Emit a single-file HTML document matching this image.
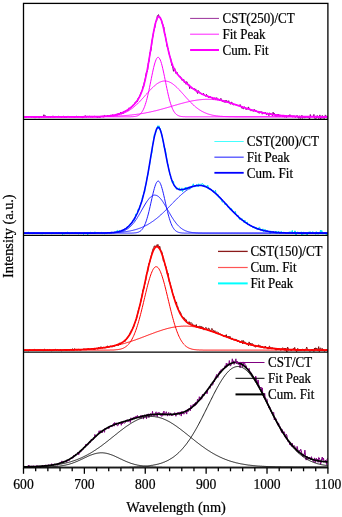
<!DOCTYPE html>
<html><head><meta charset="utf-8"><style>
html,body{margin:0;padding:0;background:#fff;width:342px;height:517px;overflow:hidden;font-family:"Liberation Serif",serif;}
svg{display:block;will-change:transform;}
text{stroke:#000;stroke-width:0.22px;}
</style></head><body>
<svg width="342" height="517" viewBox="0 0 342 517">
<rect width="342" height="517" fill="#fff"/>
<defs>
<clipPath id="c0"><rect x="23.5" y="2.4" width="304.4" height="116.9"/></clipPath>
<clipPath id="c1"><rect x="23.5" y="118.3" width="304.4" height="117.1"/></clipPath>
<clipPath id="c2"><rect x="23.5" y="234.4" width="304.4" height="117.7"/></clipPath>
<clipPath id="c3"><rect x="23.5" y="351.1" width="304.4" height="116.7"/></clipPath>
</defs>
<g clip-path="url(#c0)" fill="none" stroke-linejoin="round">
<path d="M23.5,116.8 L24.1,116.7 L24.7,116.9 L25.3,117.2 L25.9,117.0 L26.5,117.3 L27.1,116.8 L27.7,116.1 L28.3,117.0 L28.9,117.1 L29.5,116.6 L30.1,116.6 L30.7,116.7 L31.3,117.3 L31.9,116.8 L32.5,116.5 L33.1,117.5 L33.7,117.0 L34.3,117.8 L34.9,117.4 L35.5,117.7 L36.1,116.9 L36.7,117.4 L37.3,116.7 L37.9,116.7 L38.5,116.9 L39.1,118.1 L39.7,117.1 L40.3,116.8 L40.9,116.7 L41.5,117.4 L42.1,116.6 L42.7,116.4 L43.3,115.9 L43.9,114.7 L44.5,115.7 L45.1,115.8 L45.7,115.8 L46.3,116.8 L46.9,116.8 L47.5,116.7 L48.1,116.8 L48.7,117.4 L49.3,116.8 L49.9,116.1 L50.5,117.6 L51.1,116.4 L51.7,116.7 L52.3,117.1 L52.9,115.8 L53.5,116.4 L54.1,117.4 L54.7,116.8 L55.3,116.5 L55.9,116.9 L56.5,116.5 L57.1,116.8 L57.7,116.5 L58.3,116.1 L58.9,117.1 L59.5,116.7 L60.1,117.0 L60.7,116.7 L61.3,117.4 L61.9,117.1 L62.5,116.9 L63.1,116.3 L63.7,116.2 L64.3,117.5 L64.9,117.2 L65.5,116.5 L66.1,117.8 L66.7,117.0 L67.3,116.8 L67.9,116.2 L68.5,116.4 L69.1,117.0 L69.7,117.0 L70.3,116.9 L70.9,116.0 L71.5,117.0 L72.1,116.9 L72.7,116.6 L73.3,116.8 L73.9,116.9 L74.5,117.4 L75.1,116.8 L75.7,117.0 L76.3,116.2 L76.9,116.4 L77.5,116.8 L78.1,116.4 L78.7,116.9 L79.3,116.2 L79.9,116.8 L80.5,116.5 L81.1,117.4 L81.7,116.6 L82.3,117.6 L82.9,117.8 L83.5,116.9 L84.1,117.2 L84.7,116.7 L85.3,115.6 L85.9,117.2 L86.5,117.1 L87.1,116.6 L87.7,116.5 L88.3,116.8 L88.9,116.8 L89.5,116.3 L90.1,116.4 L90.7,117.2 L91.3,116.7 L91.9,116.7 L92.5,117.2 L93.1,116.5 L93.7,117.1 L94.3,116.1 L94.9,116.5 L95.5,116.6 L96.1,116.9 L96.7,116.7 L97.3,117.7 L97.9,117.2 L98.5,116.3 L99.1,117.7 L99.7,116.0 L100.3,117.4 L100.9,116.0 L101.5,116.9 L102.1,116.0 L102.7,116.3 L103.3,117.2 L103.9,115.6 L104.5,115.4 L105.1,116.3 L105.7,116.3 L106.3,116.2 L106.9,116.7 L107.5,115.4 L108.1,116.3 L108.7,115.9 L109.3,116.3 L109.9,116.1 L110.5,116.5 L111.1,114.9 L111.7,115.6 L112.3,114.8 L112.9,115.3 L113.5,115.7 L114.1,115.3 L114.7,115.4 L115.3,114.9 L115.9,115.0 L116.5,114.8 L117.1,115.3 L117.7,114.8 L118.3,113.0 L118.9,114.4 L119.5,114.4 L120.1,113.3 L120.7,112.3 L121.3,114.1 L121.9,113.0 L122.5,113.0 L123.1,113.6 L123.7,111.5 L124.3,111.8 L124.9,111.4 L125.5,111.7 L126.1,110.4 L126.7,110.8 L127.3,110.2 L127.9,110.5 L128.5,110.2 L129.1,107.8 L129.7,108.8 L130.3,107.7 L130.9,107.5 L131.5,107.3 L132.1,106.8 L132.7,105.3 L133.3,105.5 L133.9,104.8 L134.5,104.0 L135.1,102.3 L135.7,102.1 L136.3,101.5 L136.9,101.6 L137.5,101.5 L138.1,98.4 L138.7,97.4 L139.3,97.3 L139.9,95.5 L140.5,94.0 L141.1,92.5 L141.7,90.9 L142.3,90.6 L142.9,86.7 L143.5,87.6 L144.1,83.2 L144.7,81.3 L145.3,78.4 L145.9,74.5 L146.5,72.0 L147.1,72.0 L147.7,69.5 L148.3,63.1 L148.9,61.8 L149.5,56.9 L150.1,52.1 L150.7,51.6 L151.3,48.5 L151.9,41.5 L152.5,38.1 L153.1,35.0 L153.7,31.1 L154.3,29.2 L154.9,27.2 L155.5,22.5 L156.1,21.4 L156.7,20.5 L157.3,15.8 L157.9,15.7 L158.5,14.6 L159.1,16.8 L159.7,16.9 L160.3,18.4 L160.9,19.7 L161.5,19.9 L162.1,23.4 L162.7,24.0 L163.3,26.5 L163.9,26.8 L164.5,34.4 L165.1,34.0 L165.7,38.3 L166.3,41.1 L166.9,45.9 L167.5,47.3 L168.1,48.4 L168.7,52.1 L169.3,54.3 L169.9,57.1 L170.5,57.4 L171.1,60.9 L171.7,65.4 L172.3,65.3 L172.9,68.4 L173.5,71.3 L174.1,69.3 L174.7,68.3 L175.3,70.9 L175.9,73.3 L176.5,74.0 L177.1,72.4 L177.7,74.3 L178.3,75.2 L178.9,76.0 L179.5,76.5 L180.1,76.3 L180.7,77.2 L181.3,78.2 L181.9,80.2 L182.5,79.0 L183.1,80.9 L183.7,79.5 L184.3,82.6 L184.9,82.0 L185.5,82.3 L186.1,84.3 L186.7,81.6 L187.3,82.4 L187.9,84.9 L188.5,84.1 L189.1,85.1 L189.7,88.7 L190.3,86.2 L190.9,87.0 L191.5,87.3 L192.1,89.0 L192.7,88.6 L193.3,89.0 L193.9,88.0 L194.5,89.3 L195.1,90.1 L195.7,88.9 L196.3,91.4 L196.9,91.7 L197.5,93.5 L198.1,90.4 L198.7,91.4 L199.3,91.8 L199.9,92.3 L200.5,93.2 L201.1,93.4 L201.7,94.2 L202.3,94.4 L202.9,94.4 L203.5,93.3 L204.1,94.5 L204.7,95.3 L205.3,96.0 L205.9,96.3 L206.5,94.4 L207.1,95.7 L207.7,96.3 L208.3,96.9 L208.9,97.8 L209.5,97.0 L210.1,96.3 L210.7,97.7 L211.3,97.7 L211.9,97.9 L212.5,97.7 L213.1,99.5 L213.7,98.4 L214.3,99.1 L214.9,97.7 L215.5,99.4 L216.1,98.3 L216.7,97.6 L217.3,99.5 L217.9,99.9 L218.5,99.3 L219.1,99.7 L219.7,100.8 L220.3,99.6 L220.9,98.3 L221.5,100.6 L222.1,100.7 L222.7,101.6 L223.3,100.5 L223.9,102.2 L224.5,102.2 L225.1,100.2 L225.7,102.4 L226.3,100.7 L226.9,100.5 L227.5,101.9 L228.1,101.8 L228.7,100.7 L229.3,102.8 L229.9,103.4 L230.5,104.3 L231.1,103.2 L231.7,102.1 L232.3,102.7 L232.9,104.7 L233.5,104.8 L234.1,104.7 L234.7,104.1 L235.3,104.8 L235.9,104.6 L236.5,104.7 L237.1,105.5 L237.7,105.4 L238.3,105.4 L238.9,105.9 L239.5,105.5 L240.1,104.5 L240.7,105.9 L241.3,106.6 L241.9,108.3 L242.5,106.6 L243.1,109.0 L243.7,108.7 L244.3,106.8 L244.9,107.1 L245.5,108.1 L246.1,109.7 L246.7,108.7 L247.3,109.2 L247.9,108.2 L248.5,106.9 L249.1,108.9 L249.7,110.0 L250.3,110.6 L250.9,109.7 L251.5,110.0 L252.1,111.1 L252.7,110.1 L253.3,111.4 L253.9,109.5 L254.5,109.7 L255.1,109.9 L255.7,111.5 L256.3,110.7 L256.9,111.5 L257.5,111.9 L258.1,112.0 L258.7,113.0 L259.3,113.3 L259.9,111.4 L260.5,112.4 L261.1,112.2 L261.7,111.6 L262.3,114.2 L262.9,113.5 L263.5,112.7 L264.1,112.7 L264.7,113.5 L265.3,112.3 L265.9,113.2 L266.5,114.6 L267.1,114.5 L267.7,113.0 L268.3,113.4 L268.9,115.7 L269.5,112.8 L270.1,113.6 L270.7,113.0 L271.3,114.7 L271.9,114.7 L272.5,115.6 L273.1,112.2 L273.7,114.8 L274.3,113.3 L274.9,115.4 L275.5,114.8 L276.1,116.6 L276.7,115.4 L277.3,114.2 L277.9,116.4 L278.5,114.2 L279.1,115.0 L279.7,116.4 L280.3,115.9 L280.9,115.9 L281.5,115.6 L282.1,116.1 L282.7,116.5 L283.3,116.0 L283.9,116.8 L284.5,117.1 L285.1,115.9 L285.7,115.0 L286.3,117.5 L286.9,116.0 L287.5,116.7 L288.1,117.0 L288.7,115.2 L289.3,116.6 L289.9,114.6 L290.5,117.0 L291.1,115.8 L291.7,116.5 L292.3,117.0 L292.9,115.7 L293.5,116.5 L294.1,115.7 L294.7,116.4 L295.3,117.5 L295.9,116.5 L296.5,116.4 L297.1,115.4 L297.7,117.4 L298.3,116.5 L298.9,118.4 L299.5,115.8 L300.1,117.7 L300.7,118.5 L301.3,116.6 L301.9,115.3 L302.5,118.3 L303.1,117.8 L303.7,117.4 L304.3,117.9 L304.9,116.2 L305.5,117.6 L306.1,117.5 L306.7,116.0 L307.3,117.5 L307.9,116.2 L308.5,117.8 L309.1,118.1 L309.7,118.9 L310.3,114.5 L310.9,117.1 L311.5,116.4 L312.1,116.7 L312.7,116.5 L313.3,116.7 L313.9,114.4 L314.5,118.0 L315.1,118.7 L315.7,118.0 L316.3,118.4 L316.9,115.8 L317.5,115.7 L318.1,118.0 L318.7,118.6 L319.3,117.2 L319.9,114.9 L320.5,120.5 L321.1,116.1 L321.7,118.2 L322.3,115.4 L322.9,118.2 L323.5,117.2 L324.1,118.8 L324.7,118.1 L325.3,114.9 L325.9,115.6 L326.5,117.3 L327.1,118.0 L327.7,119.5" stroke="#800080" stroke-width="1"/>
<path d="M23.5,116.8 L24.1,116.8 L24.7,116.8 L25.3,116.8 L25.9,116.8 L26.5,116.8 L27.1,116.8 L27.7,116.8 L28.3,116.8 L28.9,116.8 L29.5,116.8 L30.1,116.8 L30.7,116.8 L31.3,116.8 L31.9,116.8 L32.5,116.8 L33.1,116.8 L33.7,116.8 L34.3,116.8 L34.9,116.8 L35.5,116.8 L36.1,116.8 L36.7,116.8 L37.3,116.8 L37.9,116.8 L38.5,116.8 L39.1,116.8 L39.7,116.8 L40.3,116.8 L40.9,116.8 L41.5,116.8 L42.1,116.8 L42.7,116.8 L43.3,116.8 L43.9,116.8 L44.5,116.8 L45.1,116.8 L45.7,116.8 L46.3,116.8 L46.9,116.8 L47.5,116.8 L48.1,116.8 L48.7,116.8 L49.3,116.8 L49.9,116.8 L50.5,116.8 L51.1,116.8 L51.7,116.8 L52.3,116.8 L52.9,116.8 L53.5,116.8 L54.1,116.8 L54.7,116.8 L55.3,116.8 L55.9,116.8 L56.5,116.8 L57.1,116.8 L57.7,116.8 L58.3,116.8 L58.9,116.8 L59.5,116.8 L60.1,116.8 L60.7,116.8 L61.3,116.8 L61.9,116.8 L62.5,116.8 L63.1,116.8 L63.7,116.8 L64.3,116.8 L64.9,116.8 L65.5,116.8 L66.1,116.8 L66.7,116.8 L67.3,116.8 L67.9,116.8 L68.5,116.8 L69.1,116.8 L69.7,116.8 L70.3,116.8 L70.9,116.8 L71.5,116.8 L72.1,116.8 L72.7,116.8 L73.3,116.8 L73.9,116.8 L74.5,116.8 L75.1,116.8 L75.7,116.8 L76.3,116.8 L76.9,116.8 L77.5,116.8 L78.1,116.8 L78.7,116.8 L79.3,116.8 L79.9,116.8 L80.5,116.8 L81.1,116.8 L81.7,116.8 L82.3,116.8 L82.9,116.8 L83.5,116.8 L84.1,116.8 L84.7,116.8 L85.3,116.8 L85.9,116.8 L86.5,116.8 L87.1,116.8 L87.7,116.8 L88.3,116.8 L88.9,116.8 L89.5,116.8 L90.1,116.8 L90.7,116.8 L91.3,116.8 L91.9,116.8 L92.5,116.8 L93.1,116.8 L93.7,116.8 L94.3,116.8 L94.9,116.8 L95.5,116.8 L96.1,116.8 L96.7,116.8 L97.3,116.8 L97.9,116.8 L98.5,116.8 L99.1,116.8 L99.7,116.8 L100.3,116.8 L100.9,116.8 L101.5,116.8 L102.1,116.8 L102.7,116.8 L103.3,116.8 L103.9,116.8 L104.5,116.8 L105.1,116.8 L105.7,116.8 L106.3,116.8 L106.9,116.8 L107.5,116.8 L108.1,116.8 L108.7,116.8 L109.3,116.8 L109.9,116.8 L110.5,116.8 L111.1,116.8 L111.7,116.8 L112.3,116.8 L112.9,116.8 L113.5,116.8 L114.1,116.8 L114.7,116.8 L115.3,116.8 L115.9,116.8 L116.5,116.8 L117.1,116.8 L117.7,116.8 L118.3,116.8 L118.9,116.8 L119.5,116.8 L120.1,116.8 L120.7,116.8 L121.3,116.8 L121.9,116.8 L122.5,116.8 L123.1,116.8 L123.7,116.8 L124.3,116.8 L124.9,116.8 L125.5,116.8 L126.1,116.8 L126.7,116.8 L127.3,116.8 L127.9,116.8 L128.5,116.8 L129.1,116.8 L129.7,116.8 L130.3,116.8 L130.9,116.8 L131.5,116.7 L132.1,116.7 L132.7,116.7 L133.3,116.6 L133.9,116.6 L134.5,116.5 L135.1,116.4 L135.7,116.3 L136.3,116.2 L136.9,116.0 L137.5,115.8 L138.1,115.5 L138.7,115.2 L139.3,114.8 L139.9,114.4 L140.5,113.8 L141.1,113.1 L141.7,112.4 L142.3,111.4 L142.9,110.4 L143.5,109.2 L144.1,107.8 L144.7,106.3 L145.3,104.5 L145.9,102.6 L146.5,100.5 L147.1,98.3 L147.7,95.8 L148.3,93.2 L148.9,90.5 L149.5,87.6 L150.1,84.7 L150.7,81.7 L151.3,78.7 L151.9,75.7 L152.5,72.8 L153.1,70.0 L153.7,67.4 L154.3,65.0 L154.9,62.9 L155.5,61.1 L156.1,59.6 L156.7,58.4 L157.3,57.7 L157.9,57.3 L158.5,57.4 L159.1,57.9 L159.7,58.8 L160.3,60.0 L160.9,61.6 L161.5,63.6 L162.1,65.8 L162.7,68.3 L163.3,71.0 L163.9,73.8 L164.5,76.7 L165.1,79.7 L165.7,82.7 L166.3,85.7 L166.9,88.6 L167.5,91.4 L168.1,94.1 L168.7,96.7 L169.3,99.1 L169.9,101.3 L170.5,103.3 L171.1,105.1 L171.7,106.8 L172.3,108.3 L172.9,109.6 L173.5,110.8 L174.1,111.8 L174.7,112.6 L175.3,113.4 L175.9,114.0 L176.5,114.5 L177.1,115.0 L177.7,115.3 L178.3,115.6 L178.9,115.9 L179.5,116.1 L180.1,116.2 L180.7,116.4 L181.3,116.5 L181.9,116.5 L182.5,116.6 L183.1,116.7 L183.7,116.7 L184.3,116.7 L184.9,116.7 L185.5,116.8 L186.1,116.8 L186.7,116.8 L187.3,116.8 L187.9,116.8 L188.5,116.8 L189.1,116.8 L189.7,116.8 L190.3,116.8 L190.9,116.8 L191.5,116.8 L192.1,116.8 L192.7,116.8 L193.3,116.8 L193.9,116.8 L194.5,116.8 L195.1,116.8 L195.7,116.8 L196.3,116.8 L196.9,116.8 L197.5,116.8 L198.1,116.8 L198.7,116.8 L199.3,116.8 L199.9,116.8 L200.5,116.8 L201.1,116.8 L201.7,116.8 L202.3,116.8 L202.9,116.8 L203.5,116.8 L204.1,116.8 L204.7,116.8 L205.3,116.8 L205.9,116.8 L206.5,116.8 L207.1,116.8 L207.7,116.8 L208.3,116.8 L208.9,116.8 L209.5,116.8 L210.1,116.8 L210.7,116.8 L211.3,116.8 L211.9,116.8 L212.5,116.8 L213.1,116.8 L213.7,116.8 L214.3,116.8 L214.9,116.8 L215.5,116.8 L216.1,116.8 L216.7,116.8 L217.3,116.8 L217.9,116.8 L218.5,116.8 L219.1,116.8 L219.7,116.8 L220.3,116.8 L220.9,116.8 L221.5,116.8 L222.1,116.8 L222.7,116.8 L223.3,116.8 L223.9,116.8 L224.5,116.8 L225.1,116.8 L225.7,116.8 L226.3,116.8 L226.9,116.8 L227.5,116.8 L228.1,116.8 L228.7,116.8 L229.3,116.8 L229.9,116.8 L230.5,116.8 L231.1,116.8 L231.7,116.8 L232.3,116.8 L232.9,116.8 L233.5,116.8 L234.1,116.8 L234.7,116.8 L235.3,116.8 L235.9,116.8 L236.5,116.8 L237.1,116.8 L237.7,116.8 L238.3,116.8 L238.9,116.8 L239.5,116.8 L240.1,116.8 L240.7,116.8 L241.3,116.8 L241.9,116.8 L242.5,116.8 L243.1,116.8 L243.7,116.8 L244.3,116.8 L244.9,116.8 L245.5,116.8 L246.1,116.8 L246.7,116.8 L247.3,116.8 L247.9,116.8 L248.5,116.8 L249.1,116.8 L249.7,116.8 L250.3,116.8 L250.9,116.8 L251.5,116.8 L252.1,116.8 L252.7,116.8 L253.3,116.8 L253.9,116.8 L254.5,116.8 L255.1,116.8 L255.7,116.8 L256.3,116.8 L256.9,116.8 L257.5,116.8 L258.1,116.8 L258.7,116.8 L259.3,116.8 L259.9,116.8 L260.5,116.8 L261.1,116.8 L261.7,116.8 L262.3,116.8 L262.9,116.8 L263.5,116.8 L264.1,116.8 L264.7,116.8 L265.3,116.8 L265.9,116.8 L266.5,116.8 L267.1,116.8 L267.7,116.8 L268.3,116.8 L268.9,116.8 L269.5,116.8 L270.1,116.8 L270.7,116.8 L271.3,116.8 L271.9,116.8 L272.5,116.8 L273.1,116.8 L273.7,116.8 L274.3,116.8 L274.9,116.8 L275.5,116.8 L276.1,116.8 L276.7,116.8 L277.3,116.8 L277.9,116.8 L278.5,116.8 L279.1,116.8 L279.7,116.8 L280.3,116.8 L280.9,116.8 L281.5,116.8 L282.1,116.8 L282.7,116.8 L283.3,116.8 L283.9,116.8 L284.5,116.8 L285.1,116.8 L285.7,116.8 L286.3,116.8 L286.9,116.8 L287.5,116.8 L288.1,116.8 L288.7,116.8 L289.3,116.8 L289.9,116.8 L290.5,116.8 L291.1,116.8 L291.7,116.8 L292.3,116.8 L292.9,116.8 L293.5,116.8 L294.1,116.8 L294.7,116.8 L295.3,116.8 L295.9,116.8 L296.5,116.8 L297.1,116.8 L297.7,116.8 L298.3,116.8 L298.9,116.8 L299.5,116.8 L300.1,116.8 L300.7,116.8 L301.3,116.8 L301.9,116.8 L302.5,116.8 L303.1,116.8 L303.7,116.8 L304.3,116.8 L304.9,116.8 L305.5,116.8 L306.1,116.8 L306.7,116.8 L307.3,116.8 L307.9,116.8 L308.5,116.8 L309.1,116.8 L309.7,116.8 L310.3,116.8 L310.9,116.8 L311.5,116.8 L312.1,116.8 L312.7,116.8 L313.3,116.8 L313.9,116.8 L314.5,116.8 L315.1,116.8 L315.7,116.8 L316.3,116.8 L316.9,116.8 L317.5,116.8 L318.1,116.8 L318.7,116.8 L319.3,116.8 L319.9,116.8 L320.5,116.8 L321.1,116.8 L321.7,116.8 L322.3,116.8 L322.9,116.8 L323.5,116.8 L324.1,116.8 L324.7,116.8 L325.3,116.8 L325.9,116.8 L326.5,116.8 L327.1,116.8 L327.7,116.8" stroke="#ff00ff" stroke-width="1.00"/>
<path d="M23.5,116.8 L24.1,116.8 L24.7,116.8 L25.3,116.8 L25.9,116.8 L26.5,116.8 L27.1,116.8 L27.7,116.8 L28.3,116.8 L28.9,116.8 L29.5,116.8 L30.1,116.8 L30.7,116.8 L31.3,116.8 L31.9,116.8 L32.5,116.8 L33.1,116.8 L33.7,116.8 L34.3,116.8 L34.9,116.8 L35.5,116.8 L36.1,116.8 L36.7,116.8 L37.3,116.8 L37.9,116.8 L38.5,116.8 L39.1,116.8 L39.7,116.8 L40.3,116.8 L40.9,116.8 L41.5,116.8 L42.1,116.8 L42.7,116.8 L43.3,116.8 L43.9,116.8 L44.5,116.8 L45.1,116.8 L45.7,116.8 L46.3,116.8 L46.9,116.8 L47.5,116.8 L48.1,116.8 L48.7,116.8 L49.3,116.8 L49.9,116.8 L50.5,116.8 L51.1,116.8 L51.7,116.8 L52.3,116.8 L52.9,116.8 L53.5,116.8 L54.1,116.8 L54.7,116.8 L55.3,116.8 L55.9,116.8 L56.5,116.8 L57.1,116.8 L57.7,116.8 L58.3,116.8 L58.9,116.8 L59.5,116.8 L60.1,116.8 L60.7,116.8 L61.3,116.8 L61.9,116.8 L62.5,116.8 L63.1,116.8 L63.7,116.8 L64.3,116.8 L64.9,116.8 L65.5,116.8 L66.1,116.8 L66.7,116.8 L67.3,116.8 L67.9,116.8 L68.5,116.8 L69.1,116.8 L69.7,116.8 L70.3,116.8 L70.9,116.8 L71.5,116.8 L72.1,116.8 L72.7,116.8 L73.3,116.8 L73.9,116.8 L74.5,116.8 L75.1,116.8 L75.7,116.8 L76.3,116.8 L76.9,116.8 L77.5,116.8 L78.1,116.8 L78.7,116.8 L79.3,116.8 L79.9,116.8 L80.5,116.8 L81.1,116.8 L81.7,116.8 L82.3,116.8 L82.9,116.8 L83.5,116.8 L84.1,116.8 L84.7,116.8 L85.3,116.8 L85.9,116.8 L86.5,116.8 L87.1,116.8 L87.7,116.8 L88.3,116.8 L88.9,116.8 L89.5,116.8 L90.1,116.8 L90.7,116.8 L91.3,116.8 L91.9,116.8 L92.5,116.8 L93.1,116.8 L93.7,116.8 L94.3,116.8 L94.9,116.8 L95.5,116.7 L96.1,116.7 L96.7,116.7 L97.3,116.7 L97.9,116.7 L98.5,116.7 L99.1,116.7 L99.7,116.7 L100.3,116.7 L100.9,116.7 L101.5,116.6 L102.1,116.6 L102.7,116.6 L103.3,116.6 L103.9,116.6 L104.5,116.5 L105.1,116.5 L105.7,116.5 L106.3,116.5 L106.9,116.4 L107.5,116.4 L108.1,116.3 L108.7,116.3 L109.3,116.3 L109.9,116.2 L110.5,116.1 L111.1,116.1 L111.7,116.0 L112.3,115.9 L112.9,115.9 L113.5,115.8 L114.1,115.7 L114.7,115.6 L115.3,115.5 L115.9,115.4 L116.5,115.3 L117.1,115.2 L117.7,115.0 L118.3,114.9 L118.9,114.7 L119.5,114.6 L120.1,114.4 L120.7,114.2 L121.3,114.1 L121.9,113.9 L122.5,113.6 L123.1,113.4 L123.7,113.2 L124.3,112.9 L124.9,112.7 L125.5,112.4 L126.1,112.1 L126.7,111.8 L127.3,111.5 L127.9,111.2 L128.5,110.8 L129.1,110.4 L129.7,110.1 L130.3,109.7 L130.9,109.3 L131.5,108.8 L132.1,108.4 L132.7,108.0 L133.3,107.5 L133.9,107.0 L134.5,106.5 L135.1,106.0 L135.7,105.4 L136.3,104.9 L136.9,104.3 L137.5,103.8 L138.1,103.2 L138.7,102.6 L139.3,102.0 L139.9,101.4 L140.5,100.7 L141.1,100.1 L141.7,99.4 L142.3,98.8 L142.9,98.1 L143.5,97.5 L144.1,96.8 L144.7,96.1 L145.3,95.4 L145.9,94.7 L146.5,94.1 L147.1,93.4 L147.7,92.7 L148.3,92.1 L148.9,91.4 L149.5,90.7 L150.1,90.1 L150.7,89.5 L151.3,88.8 L151.9,88.2 L152.5,87.6 L153.1,87.1 L153.7,86.5 L154.3,86.0 L154.9,85.5 L155.5,85.0 L156.1,84.5 L156.7,84.0 L157.3,83.6 L157.9,83.2 L158.5,82.9 L159.1,82.5 L159.7,82.2 L160.3,82.0 L160.9,81.7 L161.5,81.5 L162.1,81.4 L162.7,81.2 L163.3,81.1 L163.9,81.0 L164.5,81.0 L165.1,81.0 L165.7,81.0 L166.3,81.1 L166.9,81.2 L167.5,81.4 L168.1,81.5 L168.7,81.7 L169.3,82.0 L169.9,82.2 L170.5,82.5 L171.1,82.9 L171.7,83.2 L172.3,83.6 L172.9,84.0 L173.5,84.5 L174.1,85.0 L174.7,85.5 L175.3,86.0 L175.9,86.5 L176.5,87.1 L177.1,87.6 L177.7,88.2 L178.3,88.8 L178.9,89.5 L179.5,90.1 L180.1,90.7 L180.7,91.4 L181.3,92.1 L181.9,92.7 L182.5,93.4 L183.1,94.1 L183.7,94.7 L184.3,95.4 L184.9,96.1 L185.5,96.8 L186.1,97.5 L186.7,98.1 L187.3,98.8 L187.9,99.4 L188.5,100.1 L189.1,100.7 L189.7,101.4 L190.3,102.0 L190.9,102.6 L191.5,103.2 L192.1,103.8 L192.7,104.3 L193.3,104.9 L193.9,105.4 L194.5,106.0 L195.1,106.5 L195.7,107.0 L196.3,107.5 L196.9,108.0 L197.5,108.4 L198.1,108.8 L198.7,109.3 L199.3,109.7 L199.9,110.1 L200.5,110.4 L201.1,110.8 L201.7,111.2 L202.3,111.5 L202.9,111.8 L203.5,112.1 L204.1,112.4 L204.7,112.7 L205.3,112.9 L205.9,113.2 L206.5,113.4 L207.1,113.6 L207.7,113.9 L208.3,114.1 L208.9,114.2 L209.5,114.4 L210.1,114.6 L210.7,114.7 L211.3,114.9 L211.9,115.0 L212.5,115.2 L213.1,115.3 L213.7,115.4 L214.3,115.5 L214.9,115.6 L215.5,115.7 L216.1,115.8 L216.7,115.9 L217.3,115.9 L217.9,116.0 L218.5,116.1 L219.1,116.1 L219.7,116.2 L220.3,116.3 L220.9,116.3 L221.5,116.3 L222.1,116.4 L222.7,116.4 L223.3,116.5 L223.9,116.5 L224.5,116.5 L225.1,116.5 L225.7,116.6 L226.3,116.6 L226.9,116.6 L227.5,116.6 L228.1,116.6 L228.7,116.7 L229.3,116.7 L229.9,116.7 L230.5,116.7 L231.1,116.7 L231.7,116.7 L232.3,116.7 L232.9,116.7 L233.5,116.7 L234.1,116.7 L234.7,116.8 L235.3,116.8 L235.9,116.8 L236.5,116.8 L237.1,116.8 L237.7,116.8 L238.3,116.8 L238.9,116.8 L239.5,116.8 L240.1,116.8 L240.7,116.8 L241.3,116.8 L241.9,116.8 L242.5,116.8 L243.1,116.8 L243.7,116.8 L244.3,116.8 L244.9,116.8 L245.5,116.8 L246.1,116.8 L246.7,116.8 L247.3,116.8 L247.9,116.8 L248.5,116.8 L249.1,116.8 L249.7,116.8 L250.3,116.8 L250.9,116.8 L251.5,116.8 L252.1,116.8 L252.7,116.8 L253.3,116.8 L253.9,116.8 L254.5,116.8 L255.1,116.8 L255.7,116.8 L256.3,116.8 L256.9,116.8 L257.5,116.8 L258.1,116.8 L258.7,116.8 L259.3,116.8 L259.9,116.8 L260.5,116.8 L261.1,116.8 L261.7,116.8 L262.3,116.8 L262.9,116.8 L263.5,116.8 L264.1,116.8 L264.7,116.8 L265.3,116.8 L265.9,116.8 L266.5,116.8 L267.1,116.8 L267.7,116.8 L268.3,116.8 L268.9,116.8 L269.5,116.8 L270.1,116.8 L270.7,116.8 L271.3,116.8 L271.9,116.8 L272.5,116.8 L273.1,116.8 L273.7,116.8 L274.3,116.8 L274.9,116.8 L275.5,116.8 L276.1,116.8 L276.7,116.8 L277.3,116.8 L277.9,116.8 L278.5,116.8 L279.1,116.8 L279.7,116.8 L280.3,116.8 L280.9,116.8 L281.5,116.8 L282.1,116.8 L282.7,116.8 L283.3,116.8 L283.9,116.8 L284.5,116.8 L285.1,116.8 L285.7,116.8 L286.3,116.8 L286.9,116.8 L287.5,116.8 L288.1,116.8 L288.7,116.8 L289.3,116.8 L289.9,116.8 L290.5,116.8 L291.1,116.8 L291.7,116.8 L292.3,116.8 L292.9,116.8 L293.5,116.8 L294.1,116.8 L294.7,116.8 L295.3,116.8 L295.9,116.8 L296.5,116.8 L297.1,116.8 L297.7,116.8 L298.3,116.8 L298.9,116.8 L299.5,116.8 L300.1,116.8 L300.7,116.8 L301.3,116.8 L301.9,116.8 L302.5,116.8 L303.1,116.8 L303.7,116.8 L304.3,116.8 L304.9,116.8 L305.5,116.8 L306.1,116.8 L306.7,116.8 L307.3,116.8 L307.9,116.8 L308.5,116.8 L309.1,116.8 L309.7,116.8 L310.3,116.8 L310.9,116.8 L311.5,116.8 L312.1,116.8 L312.7,116.8 L313.3,116.8 L313.9,116.8 L314.5,116.8 L315.1,116.8 L315.7,116.8 L316.3,116.8 L316.9,116.8 L317.5,116.8 L318.1,116.8 L318.7,116.8 L319.3,116.8 L319.9,116.8 L320.5,116.8 L321.1,116.8 L321.7,116.8 L322.3,116.8 L322.9,116.8 L323.5,116.8 L324.1,116.8 L324.7,116.8 L325.3,116.8 L325.9,116.8 L326.5,116.8 L327.1,116.8 L327.7,116.8" stroke="#ff00ff" stroke-width="1.00"/>
<path d="M23.5,116.8 L24.1,116.8 L24.7,116.8 L25.3,116.8 L25.9,116.8 L26.5,116.8 L27.1,116.8 L27.7,116.8 L28.3,116.8 L28.9,116.8 L29.5,116.8 L30.1,116.8 L30.7,116.8 L31.3,116.8 L31.9,116.8 L32.5,116.8 L33.1,116.8 L33.7,116.8 L34.3,116.8 L34.9,116.8 L35.5,116.8 L36.1,116.8 L36.7,116.8 L37.3,116.8 L37.9,116.8 L38.5,116.8 L39.1,116.8 L39.7,116.8 L40.3,116.8 L40.9,116.8 L41.5,116.8 L42.1,116.8 L42.7,116.8 L43.3,116.8 L43.9,116.8 L44.5,116.8 L45.1,116.8 L45.7,116.8 L46.3,116.8 L46.9,116.8 L47.5,116.8 L48.1,116.8 L48.7,116.8 L49.3,116.8 L49.9,116.8 L50.5,116.8 L51.1,116.8 L51.7,116.8 L52.3,116.8 L52.9,116.8 L53.5,116.8 L54.1,116.8 L54.7,116.8 L55.3,116.8 L55.9,116.8 L56.5,116.8 L57.1,116.8 L57.7,116.8 L58.3,116.8 L58.9,116.8 L59.5,116.8 L60.1,116.8 L60.7,116.8 L61.3,116.8 L61.9,116.8 L62.5,116.8 L63.1,116.8 L63.7,116.8 L64.3,116.8 L64.9,116.8 L65.5,116.8 L66.1,116.8 L66.7,116.8 L67.3,116.8 L67.9,116.8 L68.5,116.8 L69.1,116.8 L69.7,116.8 L70.3,116.8 L70.9,116.8 L71.5,116.8 L72.1,116.8 L72.7,116.8 L73.3,116.8 L73.9,116.8 L74.5,116.8 L75.1,116.8 L75.7,116.8 L76.3,116.8 L76.9,116.8 L77.5,116.8 L78.1,116.8 L78.7,116.8 L79.3,116.8 L79.9,116.8 L80.5,116.8 L81.1,116.8 L81.7,116.8 L82.3,116.8 L82.9,116.8 L83.5,116.8 L84.1,116.8 L84.7,116.8 L85.3,116.7 L85.9,116.7 L86.5,116.7 L87.1,116.7 L87.7,116.7 L88.3,116.7 L88.9,116.7 L89.5,116.7 L90.1,116.7 L90.7,116.7 L91.3,116.7 L91.9,116.7 L92.5,116.7 L93.1,116.7 L93.7,116.7 L94.3,116.7 L94.9,116.7 L95.5,116.7 L96.1,116.7 L96.7,116.7 L97.3,116.6 L97.9,116.6 L98.5,116.6 L99.1,116.6 L99.7,116.6 L100.3,116.6 L100.9,116.6 L101.5,116.6 L102.1,116.6 L102.7,116.6 L103.3,116.5 L103.9,116.5 L104.5,116.5 L105.1,116.5 L105.7,116.5 L106.3,116.5 L106.9,116.5 L107.5,116.4 L108.1,116.4 L108.7,116.4 L109.3,116.4 L109.9,116.4 L110.5,116.4 L111.1,116.3 L111.7,116.3 L112.3,116.3 L112.9,116.3 L113.5,116.2 L114.1,116.2 L114.7,116.2 L115.3,116.2 L115.9,116.1 L116.5,116.1 L117.1,116.1 L117.7,116.0 L118.3,116.0 L118.9,116.0 L119.5,115.9 L120.1,115.9 L120.7,115.9 L121.3,115.8 L121.9,115.8 L122.5,115.8 L123.1,115.7 L123.7,115.7 L124.3,115.6 L124.9,115.6 L125.5,115.5 L126.1,115.5 L126.7,115.4 L127.3,115.4 L127.9,115.3 L128.5,115.3 L129.1,115.2 L129.7,115.2 L130.3,115.1 L130.9,115.0 L131.5,115.0 L132.1,114.9 L132.7,114.8 L133.3,114.8 L133.9,114.7 L134.5,114.6 L135.1,114.5 L135.7,114.5 L136.3,114.4 L136.9,114.3 L137.5,114.2 L138.1,114.1 L138.7,114.1 L139.3,114.0 L139.9,113.9 L140.5,113.8 L141.1,113.7 L141.7,113.6 L142.3,113.5 L142.9,113.4 L143.5,113.3 L144.1,113.2 L144.7,113.1 L145.3,113.0 L145.9,112.8 L146.5,112.7 L147.1,112.6 L147.7,112.5 L148.3,112.4 L148.9,112.3 L149.5,112.1 L150.1,112.0 L150.7,111.9 L151.3,111.7 L151.9,111.6 L152.5,111.5 L153.1,111.3 L153.7,111.2 L154.3,111.0 L154.9,110.9 L155.5,110.8 L156.1,110.6 L156.7,110.5 L157.3,110.3 L157.9,110.2 L158.5,110.0 L159.1,109.8 L159.7,109.7 L160.3,109.5 L160.9,109.4 L161.5,109.2 L162.1,109.0 L162.7,108.9 L163.3,108.7 L163.9,108.5 L164.5,108.4 L165.1,108.2 L165.7,108.0 L166.3,107.9 L166.9,107.7 L167.5,107.5 L168.1,107.3 L168.7,107.2 L169.3,107.0 L169.9,106.8 L170.5,106.6 L171.1,106.5 L171.7,106.3 L172.3,106.1 L172.9,105.9 L173.5,105.7 L174.1,105.6 L174.7,105.4 L175.3,105.2 L175.9,105.0 L176.5,104.9 L177.1,104.7 L177.7,104.5 L178.3,104.3 L178.9,104.2 L179.5,104.0 L180.1,103.8 L180.7,103.7 L181.3,103.5 L181.9,103.3 L182.5,103.2 L183.1,103.0 L183.7,102.9 L184.3,102.7 L184.9,102.6 L185.5,102.4 L186.1,102.3 L186.7,102.1 L187.3,102.0 L187.9,101.8 L188.5,101.7 L189.1,101.6 L189.7,101.4 L190.3,101.3 L190.9,101.2 L191.5,101.0 L192.1,100.9 L192.7,100.8 L193.3,100.7 L193.9,100.6 L194.5,100.5 L195.1,100.4 L195.7,100.3 L196.3,100.2 L196.9,100.1 L197.5,100.0 L198.1,99.9 L198.7,99.9 L199.3,99.8 L199.9,99.7 L200.5,99.7 L201.1,99.6 L201.7,99.6 L202.3,99.5 L202.9,99.5 L203.5,99.4 L204.1,99.4 L204.7,99.4 L205.3,99.3 L205.9,99.3 L206.5,99.3 L207.1,99.3 L207.7,99.3 L208.3,99.3 L208.9,99.3 L209.5,99.3 L210.1,99.3 L210.7,99.4 L211.3,99.4 L211.9,99.4 L212.5,99.5 L213.1,99.5 L213.7,99.6 L214.3,99.6 L214.9,99.7 L215.5,99.8 L216.1,99.9 L216.7,99.9 L217.3,100.0 L217.9,100.1 L218.5,100.2 L219.1,100.3 L219.7,100.4 L220.3,100.5 L220.9,100.7 L221.5,100.8 L222.1,100.9 L222.7,101.1 L223.3,101.2 L223.9,101.3 L224.5,101.5 L225.1,101.6 L225.7,101.8 L226.3,101.9 L226.9,102.1 L227.5,102.3 L228.1,102.4 L228.7,102.6 L229.3,102.8 L229.9,103.0 L230.5,103.1 L231.1,103.3 L231.7,103.5 L232.3,103.7 L232.9,103.9 L233.5,104.1 L234.1,104.3 L234.7,104.4 L235.3,104.6 L235.9,104.8 L236.5,105.0 L237.1,105.2 L237.7,105.4 L238.3,105.6 L238.9,105.8 L239.5,106.0 L240.1,106.2 L240.7,106.4 L241.3,106.6 L241.9,106.8 L242.5,107.0 L243.1,107.2 L243.7,107.4 L244.3,107.6 L244.9,107.8 L245.5,108.0 L246.1,108.2 L246.7,108.4 L247.3,108.6 L247.9,108.8 L248.5,108.9 L249.1,109.1 L249.7,109.3 L250.3,109.5 L250.9,109.7 L251.5,109.9 L252.1,110.0 L252.7,110.2 L253.3,110.4 L253.9,110.5 L254.5,110.7 L255.1,110.9 L255.7,111.0 L256.3,111.2 L256.9,111.4 L257.5,111.5 L258.1,111.7 L258.7,111.8 L259.3,112.0 L259.9,112.1 L260.5,112.2 L261.1,112.4 L261.7,112.5 L262.3,112.7 L262.9,112.8 L263.5,112.9 L264.1,113.0 L264.7,113.2 L265.3,113.3 L265.9,113.4 L266.5,113.5 L267.1,113.6 L267.7,113.7 L268.3,113.8 L268.9,113.9 L269.5,114.0 L270.1,114.1 L270.7,114.2 L271.3,114.3 L271.9,114.4 L272.5,114.5 L273.1,114.6 L273.7,114.7 L274.3,114.8 L274.9,114.8 L275.5,114.9 L276.1,115.0 L276.7,115.1 L277.3,115.1 L277.9,115.2 L278.5,115.3 L279.1,115.3 L279.7,115.4 L280.3,115.4 L280.9,115.5 L281.5,115.5 L282.1,115.6 L282.7,115.7 L283.3,115.7 L283.9,115.7 L284.5,115.8 L285.1,115.8 L285.7,115.9 L286.3,115.9 L286.9,116.0 L287.5,116.0 L288.1,116.0 L288.7,116.1 L289.3,116.1 L289.9,116.1 L290.5,116.2 L291.1,116.2 L291.7,116.2 L292.3,116.3 L292.9,116.3 L293.5,116.3 L294.1,116.3 L294.7,116.4 L295.3,116.4 L295.9,116.4 L296.5,116.4 L297.1,116.4 L297.7,116.5 L298.3,116.5 L298.9,116.5 L299.5,116.5 L300.1,116.5 L300.7,116.5 L301.3,116.6 L301.9,116.6 L302.5,116.6 L303.1,116.6 L303.7,116.6 L304.3,116.6 L304.9,116.6 L305.5,116.6 L306.1,116.6 L306.7,116.6 L307.3,116.7 L307.9,116.7 L308.5,116.7 L309.1,116.7 L309.7,116.7 L310.3,116.7 L310.9,116.7 L311.5,116.7 L312.1,116.7 L312.7,116.7 L313.3,116.7 L313.9,116.7 L314.5,116.7 L315.1,116.7 L315.7,116.7 L316.3,116.7 L316.9,116.7 L317.5,116.7 L318.1,116.8 L318.7,116.8 L319.3,116.8 L319.9,116.8 L320.5,116.8 L321.1,116.8 L321.7,116.8 L322.3,116.8 L322.9,116.8 L323.5,116.8 L324.1,116.8 L324.7,116.8 L325.3,116.8 L325.9,116.8 L326.5,116.8 L327.1,116.8 L327.7,116.8" stroke="#ff00ff" stroke-width="1.00"/>
<path d="M23.5,116.8 L24.1,116.8 L24.7,116.8 L25.3,116.8 L25.9,116.8 L26.5,116.8 L27.1,116.8 L27.7,116.8 L28.3,116.8 L28.9,116.8 L29.5,116.8 L30.1,116.8 L30.7,116.8 L31.3,116.8 L31.9,116.8 L32.5,116.8 L33.1,116.8 L33.7,116.8 L34.3,116.8 L34.9,116.8 L35.5,116.8 L36.1,116.8 L36.7,116.8 L37.3,116.8 L37.9,116.8 L38.5,116.8 L39.1,116.8 L39.7,116.8 L40.3,116.8 L40.9,116.8 L41.5,116.8 L42.1,116.8 L42.7,116.8 L43.3,116.8 L43.9,116.8 L44.5,116.8 L45.1,116.8 L45.7,116.8 L46.3,116.8 L46.9,116.8 L47.5,116.8 L48.1,116.8 L48.7,116.8 L49.3,116.8 L49.9,116.8 L50.5,116.8 L51.1,116.8 L51.7,116.8 L52.3,116.8 L52.9,116.8 L53.5,116.8 L54.1,116.8 L54.7,116.8 L55.3,116.8 L55.9,116.8 L56.5,116.8 L57.1,116.8 L57.7,116.8 L58.3,116.8 L58.9,116.8 L59.5,116.8 L60.1,116.8 L60.7,116.8 L61.3,116.8 L61.9,116.8 L62.5,116.8 L63.1,116.8 L63.7,116.8 L64.3,116.8 L64.9,116.8 L65.5,116.8 L66.1,116.8 L66.7,116.8 L67.3,116.8 L67.9,116.8 L68.5,116.8 L69.1,116.8 L69.7,116.8 L70.3,116.8 L70.9,116.8 L71.5,116.8 L72.1,116.8 L72.7,116.8 L73.3,116.8 L73.9,116.8 L74.5,116.8 L75.1,116.8 L75.7,116.8 L76.3,116.8 L76.9,116.8 L77.5,116.8 L78.1,116.8 L78.7,116.8 L79.3,116.8 L79.9,116.8 L80.5,116.8 L81.1,116.8 L81.7,116.8 L82.3,116.8 L82.9,116.8 L83.5,116.8 L84.1,116.7 L84.7,116.7 L85.3,116.7 L85.9,116.7 L86.5,116.7 L87.1,116.7 L87.7,116.7 L88.3,116.7 L88.9,116.7 L89.5,116.7 L90.1,116.7 L90.7,116.7 L91.3,116.7 L91.9,116.7 L92.5,116.7 L93.1,116.7 L93.7,116.6 L94.3,116.6 L94.9,116.6 L95.5,116.6 L96.1,116.6 L96.7,116.6 L97.3,116.6 L97.9,116.6 L98.5,116.5 L99.1,116.5 L99.7,116.5 L100.3,116.5 L100.9,116.4 L101.5,116.4 L102.1,116.4 L102.7,116.4 L103.3,116.3 L103.9,116.3 L104.5,116.3 L105.1,116.2 L105.7,116.2 L106.3,116.1 L106.9,116.1 L107.5,116.0 L108.1,116.0 L108.7,115.9 L109.3,115.8 L109.9,115.8 L110.5,115.7 L111.1,115.6 L111.7,115.5 L112.3,115.4 L112.9,115.3 L113.5,115.2 L114.1,115.1 L114.7,115.0 L115.3,114.9 L115.9,114.7 L116.5,114.6 L117.1,114.4 L117.7,114.3 L118.3,114.1 L118.9,113.9 L119.5,113.7 L120.1,113.5 L120.7,113.3 L121.3,113.1 L121.9,112.8 L122.5,112.6 L123.1,112.3 L123.7,112.1 L124.3,111.8 L124.9,111.4 L125.5,111.1 L126.1,110.8 L126.7,110.4 L127.3,110.1 L127.9,109.7 L128.5,109.3 L129.1,108.8 L129.7,108.4 L130.3,107.9 L130.9,107.5 L131.5,106.9 L132.1,106.4 L132.7,105.9 L133.3,105.3 L133.9,104.7 L134.5,104.0 L135.1,103.4 L135.7,102.6 L136.3,101.9 L136.9,101.1 L137.5,100.2 L138.1,99.3 L138.7,98.3 L139.3,97.2 L139.9,96.0 L140.5,94.7 L141.1,93.3 L141.7,91.8 L142.3,90.1 L142.9,88.3 L143.5,86.3 L144.1,84.2 L144.7,81.8 L145.3,79.3 L145.9,76.6 L146.5,73.8 L147.1,70.7 L147.7,67.5 L148.3,64.1 L148.9,60.5 L149.5,56.9 L150.1,53.2 L150.7,49.4 L151.3,45.7 L151.9,42.0 L152.5,38.3 L153.1,34.8 L153.7,31.5 L154.3,28.5 L154.9,25.7 L155.5,23.2 L156.1,21.1 L156.7,19.3 L157.3,18.0 L157.9,17.1 L158.5,16.7 L159.1,16.7 L159.7,17.1 L160.3,17.9 L160.9,19.1 L161.5,20.7 L162.1,22.6 L162.7,24.8 L163.3,27.2 L163.9,29.8 L164.5,32.5 L165.1,35.3 L165.7,38.2 L166.3,41.1 L166.9,43.9 L167.5,46.7 L168.1,49.4 L168.7,52.0 L169.3,54.4 L169.9,56.7 L170.5,58.9 L171.1,60.9 L171.7,62.7 L172.3,64.4 L172.9,66.0 L173.5,67.4 L174.1,68.7 L174.7,69.9 L175.3,71.0 L175.9,71.9 L176.5,72.9 L177.1,73.7 L177.7,74.5 L178.3,75.2 L178.9,75.9 L179.5,76.6 L180.1,77.2 L180.7,77.8 L181.3,78.4 L181.9,79.0 L182.5,79.6 L183.1,80.1 L183.7,80.7 L184.3,81.3 L184.9,81.8 L185.5,82.3 L186.1,82.9 L186.7,83.4 L187.3,83.9 L187.9,84.5 L188.5,85.0 L189.1,85.5 L189.7,86.0 L190.3,86.5 L190.9,87.0 L191.5,87.4 L192.1,87.9 L192.7,88.4 L193.3,88.8 L193.9,89.2 L194.5,89.7 L195.1,90.1 L195.7,90.5 L196.3,90.9 L196.9,91.3 L197.5,91.6 L198.1,92.0 L198.7,92.3 L199.3,92.7 L199.9,93.0 L200.5,93.3 L201.1,93.6 L201.7,93.9 L202.3,94.2 L202.9,94.5 L203.5,94.7 L204.1,95.0 L204.7,95.2 L205.3,95.5 L205.9,95.7 L206.5,95.9 L207.1,96.1 L207.7,96.4 L208.3,96.6 L208.9,96.7 L209.5,96.9 L210.1,97.1 L210.7,97.3 L211.3,97.5 L211.9,97.7 L212.5,97.8 L213.1,98.0 L213.7,98.2 L214.3,98.3 L214.9,98.5 L215.5,98.7 L216.1,98.8 L216.7,99.0 L217.3,99.2 L217.9,99.3 L218.5,99.5 L219.1,99.7 L219.7,99.8 L220.3,100.0 L220.9,100.2 L221.5,100.3 L222.1,100.5 L222.7,100.7 L223.3,100.8 L223.9,101.0 L224.5,101.2 L225.1,101.4 L225.7,101.5 L226.3,101.7 L226.9,101.9 L227.5,102.1 L228.1,102.3 L228.7,102.5 L229.3,102.7 L229.9,102.8 L230.5,103.0 L231.1,103.2 L231.7,103.4 L232.3,103.6 L232.9,103.8 L233.5,104.0 L234.1,104.2 L234.7,104.4 L235.3,104.6 L235.9,104.8 L236.5,105.0 L237.1,105.2 L237.7,105.4 L238.3,105.6 L238.9,105.8 L239.5,106.0 L240.1,106.2 L240.7,106.4 L241.3,106.6 L241.9,106.8 L242.5,107.0 L243.1,107.2 L243.7,107.4 L244.3,107.6 L244.9,107.8 L245.5,108.0 L246.1,108.2 L246.7,108.4 L247.3,108.6 L247.9,108.8 L248.5,108.9 L249.1,109.1 L249.7,109.3 L250.3,109.5 L250.9,109.7 L251.5,109.9 L252.1,110.0 L252.7,110.2 L253.3,110.4 L253.9,110.5 L254.5,110.7 L255.1,110.9 L255.7,111.0 L256.3,111.2 L256.9,111.4 L257.5,111.5 L258.1,111.7 L258.7,111.8 L259.3,112.0 L259.9,112.1 L260.5,112.2 L261.1,112.4 L261.7,112.5 L262.3,112.7 L262.9,112.8 L263.5,112.9 L264.1,113.0 L264.7,113.2 L265.3,113.3 L265.9,113.4 L266.5,113.5 L267.1,113.6 L267.7,113.7 L268.3,113.8 L268.9,113.9 L269.5,114.0 L270.1,114.1 L270.7,114.2 L271.3,114.3 L271.9,114.4 L272.5,114.5 L273.1,114.6 L273.7,114.7 L274.3,114.8 L274.9,114.8 L275.5,114.9 L276.1,115.0 L276.7,115.1 L277.3,115.1 L277.9,115.2 L278.5,115.3 L279.1,115.3 L279.7,115.4 L280.3,115.4 L280.9,115.5 L281.5,115.5 L282.1,115.6 L282.7,115.7 L283.3,115.7 L283.9,115.7 L284.5,115.8 L285.1,115.8 L285.7,115.9 L286.3,115.9 L286.9,116.0 L287.5,116.0 L288.1,116.0 L288.7,116.1 L289.3,116.1 L289.9,116.1 L290.5,116.2 L291.1,116.2 L291.7,116.2 L292.3,116.3 L292.9,116.3 L293.5,116.3 L294.1,116.3 L294.7,116.4 L295.3,116.4 L295.9,116.4 L296.5,116.4 L297.1,116.4 L297.7,116.5 L298.3,116.5 L298.9,116.5 L299.5,116.5 L300.1,116.5 L300.7,116.5 L301.3,116.6 L301.9,116.6 L302.5,116.6 L303.1,116.6 L303.7,116.6 L304.3,116.6 L304.9,116.6 L305.5,116.6 L306.1,116.6 L306.7,116.6 L307.3,116.7 L307.9,116.7 L308.5,116.7 L309.1,116.7 L309.7,116.7 L310.3,116.7 L310.9,116.7 L311.5,116.7 L312.1,116.7 L312.7,116.7 L313.3,116.7 L313.9,116.7 L314.5,116.7 L315.1,116.7 L315.7,116.7 L316.3,116.7 L316.9,116.7 L317.5,116.7 L318.1,116.8 L318.7,116.8 L319.3,116.8 L319.9,116.8 L320.5,116.8 L321.1,116.8 L321.7,116.8 L322.3,116.8 L322.9,116.8 L323.5,116.8 L324.1,116.8 L324.7,116.8 L325.3,116.8 L325.9,116.8 L326.5,116.8 L327.1,116.8 L327.7,116.8" stroke="#ff00ff" stroke-width="1.70"/>
</g>
<g clip-path="url(#c1)" fill="none" stroke-linejoin="round">
<path d="M23.5,233.3 L24.1,233.1 L24.7,233.2 L25.3,233.2 L25.9,233.8 L26.5,233.1 L27.1,233.1 L27.7,232.3 L28.3,232.0 L28.9,233.2 L29.5,233.6 L30.1,233.1 L30.7,233.5 L31.3,233.5 L31.9,233.1 L32.5,233.7 L33.1,232.7 L33.7,233.2 L34.3,232.9 L34.9,233.2 L35.5,233.5 L36.1,233.7 L36.7,233.2 L37.3,233.4 L37.9,233.0 L38.5,233.1 L39.1,233.9 L39.7,233.1 L40.3,233.9 L40.9,233.5 L41.5,233.3 L42.1,234.3 L42.7,233.0 L43.3,233.0 L43.9,233.2 L44.5,233.4 L45.1,233.3 L45.7,233.7 L46.3,233.3 L46.9,233.4 L47.5,233.0 L48.1,233.8 L48.7,233.0 L49.3,233.0 L49.9,233.2 L50.5,233.4 L51.1,232.8 L51.7,234.1 L52.3,232.8 L52.9,233.0 L53.5,232.9 L54.1,232.9 L54.7,233.5 L55.3,233.3 L55.9,232.7 L56.5,232.8 L57.1,233.0 L57.7,234.0 L58.3,232.8 L58.9,232.4 L59.5,232.5 L60.1,233.0 L60.7,234.0 L61.3,232.5 L61.9,233.2 L62.5,234.6 L63.1,232.9 L63.7,234.0 L64.3,233.9 L64.9,233.5 L65.5,232.3 L66.1,233.3 L66.7,232.9 L67.3,232.0 L67.9,232.1 L68.5,233.2 L69.1,233.2 L69.7,233.9 L70.3,233.5 L70.9,232.8 L71.5,232.9 L72.1,233.0 L72.7,232.5 L73.3,233.6 L73.9,233.1 L74.5,232.7 L75.1,232.7 L75.7,232.5 L76.3,232.9 L76.9,233.3 L77.5,232.9 L78.1,233.7 L78.7,234.1 L79.3,232.7 L79.9,233.1 L80.5,232.9 L81.1,234.1 L81.7,233.3 L82.3,233.5 L82.9,233.6 L83.5,234.5 L84.1,233.3 L84.7,232.5 L85.3,232.9 L85.9,233.5 L86.5,233.1 L87.1,232.6 L87.7,234.8 L88.3,233.2 L88.9,232.7 L89.5,232.7 L90.1,232.0 L90.7,232.4 L91.3,232.9 L91.9,232.9 L92.5,232.6 L93.1,233.4 L93.7,233.1 L94.3,232.5 L94.9,231.8 L95.5,233.1 L96.1,233.1 L96.7,232.9 L97.3,232.2 L97.9,233.1 L98.5,232.1 L99.1,233.6 L99.7,233.1 L100.3,233.1 L100.9,232.5 L101.5,232.3 L102.1,233.9 L102.7,233.5 L103.3,232.7 L103.9,233.4 L104.5,233.9 L105.1,232.3 L105.7,232.6 L106.3,232.6 L106.9,233.2 L107.5,232.2 L108.1,233.0 L108.7,232.1 L109.3,233.3 L109.9,233.3 L110.5,232.6 L111.1,233.1 L111.7,232.2 L112.3,232.4 L112.9,233.1 L113.5,232.4 L114.1,232.6 L114.7,231.7 L115.3,232.6 L115.9,232.4 L116.5,231.2 L117.1,230.4 L117.7,230.4 L118.3,231.6 L118.9,231.4 L119.5,230.3 L120.1,231.3 L120.7,231.7 L121.3,230.7 L121.9,230.2 L122.5,230.9 L123.1,231.2 L123.7,230.8 L124.3,228.9 L124.9,229.6 L125.5,228.8 L126.1,228.1 L126.7,227.3 L127.3,227.6 L127.9,226.4 L128.5,227.0 L129.1,226.0 L129.7,225.9 L130.3,223.5 L130.9,223.7 L131.5,223.6 L132.1,222.5 L132.7,221.5 L133.3,219.8 L133.9,220.9 L134.5,219.5 L135.1,217.8 L135.7,214.0 L136.3,214.3 L136.9,214.1 L137.5,212.0 L138.1,209.3 L138.7,210.1 L139.3,208.8 L139.9,205.6 L140.5,204.6 L141.1,202.6 L141.7,201.9 L142.3,197.3 L142.9,195.4 L143.5,194.3 L144.1,191.7 L144.7,192.2 L145.3,186.5 L145.9,184.6 L146.5,180.9 L147.1,177.4 L147.7,175.4 L148.3,173.6 L148.9,167.6 L149.5,165.4 L150.1,161.3 L150.7,158.0 L151.3,154.1 L151.9,153.1 L152.5,144.9 L153.1,142.9 L153.7,138.5 L154.3,134.3 L154.9,134.2 L155.5,134.2 L156.1,130.8 L156.7,129.5 L157.3,127.2 L157.9,125.7 L158.5,128.6 L159.1,125.8 L159.7,129.6 L160.3,128.6 L160.9,131.2 L161.5,133.8 L162.1,136.1 L162.7,139.5 L163.3,142.5 L163.9,147.0 L164.5,147.9 L165.1,148.5 L165.7,151.5 L166.3,155.6 L166.9,159.4 L167.5,164.2 L168.1,164.4 L168.7,168.9 L169.3,171.5 L169.9,174.1 L170.5,175.8 L171.1,178.4 L171.7,179.8 L172.3,182.6 L172.9,183.2 L173.5,181.3 L174.1,185.2 L174.7,186.3 L175.3,186.2 L175.9,186.7 L176.5,189.3 L177.1,188.8 L177.7,187.9 L178.3,188.9 L178.9,189.2 L179.5,187.8 L180.1,190.4 L180.7,189.5 L181.3,190.2 L181.9,187.9 L182.5,191.7 L183.1,190.1 L183.7,189.8 L184.3,188.3 L184.9,188.2 L185.5,187.1 L186.1,190.2 L186.7,187.3 L187.3,188.3 L187.9,188.5 L188.5,186.9 L189.1,188.3 L189.7,189.4 L190.3,187.2 L190.9,188.2 L191.5,187.0 L192.1,185.6 L192.7,185.5 L193.3,183.8 L193.9,185.7 L194.5,187.1 L195.1,186.0 L195.7,186.0 L196.3,186.3 L196.9,184.3 L197.5,185.4 L198.1,186.9 L198.7,183.8 L199.3,184.7 L199.9,184.1 L200.5,184.4 L201.1,183.9 L201.7,184.6 L202.3,183.4 L202.9,184.4 L203.5,184.6 L204.1,184.8 L204.7,187.2 L205.3,185.9 L205.9,186.3 L206.5,186.0 L207.1,188.1 L207.7,185.1 L208.3,187.2 L208.9,189.0 L209.5,190.0 L210.1,188.8 L210.7,189.0 L211.3,190.2 L211.9,189.8 L212.5,191.1 L213.1,190.2 L213.7,192.2 L214.3,192.0 L214.9,191.4 L215.5,190.2 L216.1,194.7 L216.7,194.7 L217.3,195.7 L217.9,194.5 L218.5,197.3 L219.1,197.2 L219.7,197.3 L220.3,199.0 L220.9,199.6 L221.5,199.7 L222.1,202.1 L222.7,202.1 L223.3,201.6 L223.9,201.6 L224.5,202.6 L225.1,205.0 L225.7,204.3 L226.3,203.6 L226.9,204.5 L227.5,205.8 L228.1,207.3 L228.7,206.4 L229.3,208.3 L229.9,209.6 L230.5,209.8 L231.1,208.1 L231.7,210.0 L232.3,209.7 L232.9,212.0 L233.5,211.1 L234.1,213.3 L234.7,213.5 L235.3,211.3 L235.9,213.7 L236.5,215.6 L237.1,215.7 L237.7,215.8 L238.3,215.5 L238.9,217.7 L239.5,219.5 L240.1,218.6 L240.7,218.8 L241.3,219.2 L241.9,218.5 L242.5,219.9 L243.1,219.9 L243.7,222.3 L244.3,220.8 L244.9,220.0 L245.5,221.7 L246.1,222.6 L246.7,223.1 L247.3,221.9 L247.9,225.0 L248.5,224.5 L249.1,224.3 L249.7,224.4 L250.3,225.9 L250.9,225.5 L251.5,226.4 L252.1,226.3 L252.7,226.8 L253.3,228.1 L253.9,227.3 L254.5,226.7 L255.1,228.7 L255.7,228.3 L256.3,227.6 L256.9,229.5 L257.5,228.5 L258.1,230.0 L258.7,228.0 L259.3,227.1 L259.9,227.6 L260.5,229.9 L261.1,229.2 L261.7,229.9 L262.3,230.1 L262.9,228.8 L263.5,231.8 L264.1,229.6 L264.7,230.8 L265.3,229.5 L265.9,230.8 L266.5,231.8 L267.1,231.0 L267.7,230.6 L268.3,231.4 L268.9,231.1 L269.5,232.1 L270.1,233.8 L270.7,230.9 L271.3,231.2 L271.9,231.8 L272.5,231.9 L273.1,231.0 L273.7,232.6 L274.3,232.9 L274.9,232.5 L275.5,231.1 L276.1,233.8 L276.7,231.2 L277.3,233.1 L277.9,233.6 L278.5,231.2 L279.1,232.7 L279.7,234.0 L280.3,233.0 L280.9,231.7 L281.5,231.4 L282.1,233.2 L282.7,232.3 L283.3,232.0 L283.9,233.5 L284.5,232.4 L285.1,232.9 L285.7,233.4 L286.3,233.4 L286.9,232.8 L287.5,232.9 L288.1,233.5 L288.7,233.4 L289.3,231.7 L289.9,232.7 L290.5,232.0 L291.1,231.6 L291.7,232.3 L292.3,230.4 L292.9,234.0 L293.5,232.1 L294.1,233.4 L294.7,230.9 L295.3,231.0 L295.9,235.3 L296.5,234.2 L297.1,232.3 L297.7,232.1 L298.3,232.2 L298.9,233.1 L299.5,232.5 L300.1,232.3 L300.7,233.2 L301.3,231.8 L301.9,235.9 L302.5,232.3 L303.1,234.4 L303.7,231.9 L304.3,233.4 L304.9,234.2 L305.5,232.6 L306.1,234.3 L306.7,234.3 L307.3,235.1 L307.9,233.1 L308.5,232.4 L309.1,231.7 L309.7,233.3 L310.3,231.7 L310.9,233.1 L311.5,233.2 L312.1,232.3 L312.7,231.6 L313.3,233.6 L313.9,233.4 L314.5,233.3 L315.1,233.0 L315.7,234.4 L316.3,231.6 L316.9,233.7 L317.5,232.4 L318.1,234.3 L318.7,232.6 L319.3,232.5 L319.9,233.7 L320.5,230.1 L321.1,232.5 L321.7,230.4 L322.3,231.6 L322.9,234.1 L323.5,233.7 L324.1,232.4 L324.7,233.0 L325.3,233.0 L325.9,233.5 L326.5,236.0 L327.1,233.5 L327.7,236.6" stroke="#00e5ee" stroke-width="1"/>
<path d="M23.5,233.1 L24.1,233.1 L24.7,233.1 L25.3,233.1 L25.9,233.1 L26.5,233.1 L27.1,233.1 L27.7,233.1 L28.3,233.1 L28.9,233.1 L29.5,233.1 L30.1,233.1 L30.7,233.1 L31.3,233.1 L31.9,233.1 L32.5,233.1 L33.1,233.1 L33.7,233.1 L34.3,233.1 L34.9,233.1 L35.5,233.1 L36.1,233.1 L36.7,233.1 L37.3,233.1 L37.9,233.1 L38.5,233.1 L39.1,233.1 L39.7,233.1 L40.3,233.1 L40.9,233.1 L41.5,233.1 L42.1,233.1 L42.7,233.1 L43.3,233.1 L43.9,233.1 L44.5,233.1 L45.1,233.1 L45.7,233.1 L46.3,233.1 L46.9,233.1 L47.5,233.1 L48.1,233.1 L48.7,233.1 L49.3,233.1 L49.9,233.1 L50.5,233.1 L51.1,233.1 L51.7,233.1 L52.3,233.1 L52.9,233.1 L53.5,233.1 L54.1,233.1 L54.7,233.1 L55.3,233.1 L55.9,233.1 L56.5,233.1 L57.1,233.1 L57.7,233.1 L58.3,233.1 L58.9,233.1 L59.5,233.1 L60.1,233.1 L60.7,233.1 L61.3,233.1 L61.9,233.1 L62.5,233.1 L63.1,233.1 L63.7,233.1 L64.3,233.1 L64.9,233.1 L65.5,233.1 L66.1,233.1 L66.7,233.1 L67.3,233.1 L67.9,233.1 L68.5,233.1 L69.1,233.1 L69.7,233.1 L70.3,233.1 L70.9,233.1 L71.5,233.1 L72.1,233.1 L72.7,233.1 L73.3,233.1 L73.9,233.1 L74.5,233.1 L75.1,233.1 L75.7,233.1 L76.3,233.1 L76.9,233.1 L77.5,233.1 L78.1,233.1 L78.7,233.1 L79.3,233.1 L79.9,233.1 L80.5,233.1 L81.1,233.1 L81.7,233.1 L82.3,233.1 L82.9,233.1 L83.5,233.1 L84.1,233.1 L84.7,233.1 L85.3,233.1 L85.9,233.1 L86.5,233.1 L87.1,233.1 L87.7,233.1 L88.3,233.1 L88.9,233.1 L89.5,233.1 L90.1,233.1 L90.7,233.1 L91.3,233.1 L91.9,233.1 L92.5,233.1 L93.1,233.1 L93.7,233.1 L94.3,233.1 L94.9,233.1 L95.5,233.1 L96.1,233.1 L96.7,233.1 L97.3,233.1 L97.9,233.1 L98.5,233.1 L99.1,233.1 L99.7,233.1 L100.3,233.1 L100.9,233.1 L101.5,233.1 L102.1,233.1 L102.7,233.1 L103.3,233.1 L103.9,233.1 L104.5,233.1 L105.1,233.1 L105.7,233.1 L106.3,233.1 L106.9,233.1 L107.5,233.1 L108.1,233.1 L108.7,233.1 L109.3,233.1 L109.9,233.1 L110.5,233.1 L111.1,233.1 L111.7,233.1 L112.3,233.1 L112.9,233.1 L113.5,233.1 L114.1,233.1 L114.7,233.1 L115.3,233.1 L115.9,233.1 L116.5,233.1 L117.1,233.1 L117.7,233.1 L118.3,233.1 L118.9,233.1 L119.5,233.1 L120.1,233.1 L120.7,233.1 L121.3,233.1 L121.9,233.1 L122.5,233.1 L123.1,233.1 L123.7,233.1 L124.3,233.1 L124.9,233.1 L125.5,233.1 L126.1,233.1 L126.7,233.1 L127.3,233.1 L127.9,233.1 L128.5,233.1 L129.1,233.1 L129.7,233.1 L130.3,233.1 L130.9,233.1 L131.5,233.1 L132.1,233.1 L132.7,233.0 L133.3,233.0 L133.9,233.0 L134.5,232.9 L135.1,232.9 L135.7,232.8 L136.3,232.7 L136.9,232.6 L137.5,232.4 L138.1,232.3 L138.7,232.0 L139.3,231.7 L139.9,231.4 L140.5,231.0 L141.1,230.5 L141.7,229.9 L142.3,229.2 L142.9,228.3 L143.5,227.4 L144.1,226.3 L144.7,225.0 L145.3,223.6 L145.9,222.0 L146.5,220.2 L147.1,218.3 L147.7,216.2 L148.3,214.0 L148.9,211.6 L149.5,209.1 L150.1,206.5 L150.7,203.8 L151.3,201.1 L151.9,198.4 L152.5,195.8 L153.1,193.2 L153.7,190.8 L154.3,188.6 L154.9,186.6 L155.5,184.8 L156.1,183.4 L156.7,182.3 L157.3,181.5 L157.9,181.1 L158.5,181.1 L159.1,181.5 L159.7,182.3 L160.3,183.4 L160.9,184.8 L161.5,186.6 L162.1,188.6 L162.7,190.8 L163.3,193.2 L163.9,195.8 L164.5,198.4 L165.1,201.1 L165.7,203.8 L166.3,206.5 L166.9,209.1 L167.5,211.6 L168.1,214.0 L168.7,216.2 L169.3,218.3 L169.9,220.2 L170.5,222.0 L171.1,223.6 L171.7,225.0 L172.3,226.3 L172.9,227.4 L173.5,228.3 L174.1,229.2 L174.7,229.9 L175.3,230.5 L175.9,231.0 L176.5,231.4 L177.1,231.7 L177.7,232.0 L178.3,232.3 L178.9,232.4 L179.5,232.6 L180.1,232.7 L180.7,232.8 L181.3,232.9 L181.9,232.9 L182.5,233.0 L183.1,233.0 L183.7,233.0 L184.3,233.1 L184.9,233.1 L185.5,233.1 L186.1,233.1 L186.7,233.1 L187.3,233.1 L187.9,233.1 L188.5,233.1 L189.1,233.1 L189.7,233.1 L190.3,233.1 L190.9,233.1 L191.5,233.1 L192.1,233.1 L192.7,233.1 L193.3,233.1 L193.9,233.1 L194.5,233.1 L195.1,233.1 L195.7,233.1 L196.3,233.1 L196.9,233.1 L197.5,233.1 L198.1,233.1 L198.7,233.1 L199.3,233.1 L199.9,233.1 L200.5,233.1 L201.1,233.1 L201.7,233.1 L202.3,233.1 L202.9,233.1 L203.5,233.1 L204.1,233.1 L204.7,233.1 L205.3,233.1 L205.9,233.1 L206.5,233.1 L207.1,233.1 L207.7,233.1 L208.3,233.1 L208.9,233.1 L209.5,233.1 L210.1,233.1 L210.7,233.1 L211.3,233.1 L211.9,233.1 L212.5,233.1 L213.1,233.1 L213.7,233.1 L214.3,233.1 L214.9,233.1 L215.5,233.1 L216.1,233.1 L216.7,233.1 L217.3,233.1 L217.9,233.1 L218.5,233.1 L219.1,233.1 L219.7,233.1 L220.3,233.1 L220.9,233.1 L221.5,233.1 L222.1,233.1 L222.7,233.1 L223.3,233.1 L223.9,233.1 L224.5,233.1 L225.1,233.1 L225.7,233.1 L226.3,233.1 L226.9,233.1 L227.5,233.1 L228.1,233.1 L228.7,233.1 L229.3,233.1 L229.9,233.1 L230.5,233.1 L231.1,233.1 L231.7,233.1 L232.3,233.1 L232.9,233.1 L233.5,233.1 L234.1,233.1 L234.7,233.1 L235.3,233.1 L235.9,233.1 L236.5,233.1 L237.1,233.1 L237.7,233.1 L238.3,233.1 L238.9,233.1 L239.5,233.1 L240.1,233.1 L240.7,233.1 L241.3,233.1 L241.9,233.1 L242.5,233.1 L243.1,233.1 L243.7,233.1 L244.3,233.1 L244.9,233.1 L245.5,233.1 L246.1,233.1 L246.7,233.1 L247.3,233.1 L247.9,233.1 L248.5,233.1 L249.1,233.1 L249.7,233.1 L250.3,233.1 L250.9,233.1 L251.5,233.1 L252.1,233.1 L252.7,233.1 L253.3,233.1 L253.9,233.1 L254.5,233.1 L255.1,233.1 L255.7,233.1 L256.3,233.1 L256.9,233.1 L257.5,233.1 L258.1,233.1 L258.7,233.1 L259.3,233.1 L259.9,233.1 L260.5,233.1 L261.1,233.1 L261.7,233.1 L262.3,233.1 L262.9,233.1 L263.5,233.1 L264.1,233.1 L264.7,233.1 L265.3,233.1 L265.9,233.1 L266.5,233.1 L267.1,233.1 L267.7,233.1 L268.3,233.1 L268.9,233.1 L269.5,233.1 L270.1,233.1 L270.7,233.1 L271.3,233.1 L271.9,233.1 L272.5,233.1 L273.1,233.1 L273.7,233.1 L274.3,233.1 L274.9,233.1 L275.5,233.1 L276.1,233.1 L276.7,233.1 L277.3,233.1 L277.9,233.1 L278.5,233.1 L279.1,233.1 L279.7,233.1 L280.3,233.1 L280.9,233.1 L281.5,233.1 L282.1,233.1 L282.7,233.1 L283.3,233.1 L283.9,233.1 L284.5,233.1 L285.1,233.1 L285.7,233.1 L286.3,233.1 L286.9,233.1 L287.5,233.1 L288.1,233.1 L288.7,233.1 L289.3,233.1 L289.9,233.1 L290.5,233.1 L291.1,233.1 L291.7,233.1 L292.3,233.1 L292.9,233.1 L293.5,233.1 L294.1,233.1 L294.7,233.1 L295.3,233.1 L295.9,233.1 L296.5,233.1 L297.1,233.1 L297.7,233.1 L298.3,233.1 L298.9,233.1 L299.5,233.1 L300.1,233.1 L300.7,233.1 L301.3,233.1 L301.9,233.1 L302.5,233.1 L303.1,233.1 L303.7,233.1 L304.3,233.1 L304.9,233.1 L305.5,233.1 L306.1,233.1 L306.7,233.1 L307.3,233.1 L307.9,233.1 L308.5,233.1 L309.1,233.1 L309.7,233.1 L310.3,233.1 L310.9,233.1 L311.5,233.1 L312.1,233.1 L312.7,233.1 L313.3,233.1 L313.9,233.1 L314.5,233.1 L315.1,233.1 L315.7,233.1 L316.3,233.1 L316.9,233.1 L317.5,233.1 L318.1,233.1 L318.7,233.1 L319.3,233.1 L319.9,233.1 L320.5,233.1 L321.1,233.1 L321.7,233.1 L322.3,233.1 L322.9,233.1 L323.5,233.1 L324.1,233.1 L324.7,233.1 L325.3,233.1 L325.9,233.1 L326.5,233.1 L327.1,233.1 L327.7,233.1" stroke="#1f1fff" stroke-width="1.00"/>
<path d="M23.5,233.1 L24.1,233.1 L24.7,233.1 L25.3,233.1 L25.9,233.1 L26.5,233.1 L27.1,233.1 L27.7,233.1 L28.3,233.1 L28.9,233.1 L29.5,233.1 L30.1,233.1 L30.7,233.1 L31.3,233.1 L31.9,233.1 L32.5,233.1 L33.1,233.1 L33.7,233.1 L34.3,233.1 L34.9,233.1 L35.5,233.1 L36.1,233.1 L36.7,233.1 L37.3,233.1 L37.9,233.1 L38.5,233.1 L39.1,233.1 L39.7,233.1 L40.3,233.1 L40.9,233.1 L41.5,233.1 L42.1,233.1 L42.7,233.1 L43.3,233.1 L43.9,233.1 L44.5,233.1 L45.1,233.1 L45.7,233.1 L46.3,233.1 L46.9,233.1 L47.5,233.1 L48.1,233.1 L48.7,233.1 L49.3,233.1 L49.9,233.1 L50.5,233.1 L51.1,233.1 L51.7,233.1 L52.3,233.1 L52.9,233.1 L53.5,233.1 L54.1,233.1 L54.7,233.1 L55.3,233.1 L55.9,233.1 L56.5,233.1 L57.1,233.1 L57.7,233.1 L58.3,233.1 L58.9,233.1 L59.5,233.1 L60.1,233.1 L60.7,233.1 L61.3,233.1 L61.9,233.1 L62.5,233.1 L63.1,233.1 L63.7,233.1 L64.3,233.1 L64.9,233.1 L65.5,233.1 L66.1,233.1 L66.7,233.1 L67.3,233.1 L67.9,233.1 L68.5,233.1 L69.1,233.1 L69.7,233.1 L70.3,233.1 L70.9,233.1 L71.5,233.1 L72.1,233.1 L72.7,233.1 L73.3,233.1 L73.9,233.1 L74.5,233.1 L75.1,233.1 L75.7,233.1 L76.3,233.1 L76.9,233.1 L77.5,233.1 L78.1,233.1 L78.7,233.1 L79.3,233.1 L79.9,233.1 L80.5,233.1 L81.1,233.1 L81.7,233.1 L82.3,233.1 L82.9,233.1 L83.5,233.1 L84.1,233.1 L84.7,233.1 L85.3,233.1 L85.9,233.1 L86.5,233.1 L87.1,233.1 L87.7,233.1 L88.3,233.1 L88.9,233.1 L89.5,233.1 L90.1,233.1 L90.7,233.1 L91.3,233.1 L91.9,233.1 L92.5,233.1 L93.1,233.1 L93.7,233.1 L94.3,233.1 L94.9,233.1 L95.5,233.1 L96.1,233.1 L96.7,233.1 L97.3,233.1 L97.9,233.1 L98.5,233.1 L99.1,233.1 L99.7,233.1 L100.3,233.1 L100.9,233.1 L101.5,233.1 L102.1,233.1 L102.7,233.1 L103.3,233.1 L103.9,233.1 L104.5,233.1 L105.1,233.1 L105.7,233.1 L106.3,233.1 L106.9,233.1 L107.5,233.0 L108.1,233.0 L108.7,233.0 L109.3,233.0 L109.9,233.0 L110.5,233.0 L111.1,233.0 L111.7,232.9 L112.3,232.9 L112.9,232.9 L113.5,232.9 L114.1,232.8 L114.7,232.8 L115.3,232.7 L115.9,232.7 L116.5,232.6 L117.1,232.5 L117.7,232.5 L118.3,232.4 L118.9,232.3 L119.5,232.1 L120.1,232.0 L120.7,231.9 L121.3,231.7 L121.9,231.6 L122.5,231.4 L123.1,231.2 L123.7,230.9 L124.3,230.7 L124.9,230.4 L125.5,230.1 L126.1,229.8 L126.7,229.4 L127.3,229.0 L127.9,228.6 L128.5,228.2 L129.1,227.7 L129.7,227.2 L130.3,226.7 L130.9,226.1 L131.5,225.5 L132.1,224.8 L132.7,224.1 L133.3,223.4 L133.9,222.7 L134.5,221.9 L135.1,221.0 L135.7,220.2 L136.3,219.3 L136.9,218.4 L137.5,217.4 L138.1,216.4 L138.7,215.5 L139.3,214.4 L139.9,213.4 L140.5,212.3 L141.1,211.3 L141.7,210.2 L142.3,209.2 L142.9,208.1 L143.5,207.1 L144.1,206.0 L144.7,205.0 L145.3,204.0 L145.9,203.0 L146.5,202.1 L147.1,201.2 L147.7,200.4 L148.3,199.6 L148.9,198.8 L149.5,198.1 L150.1,197.5 L150.7,196.9 L151.3,196.5 L151.9,196.0 L152.5,195.7 L153.1,195.4 L153.7,195.2 L154.3,195.1 L154.9,195.1 L155.5,195.2 L156.1,195.3 L156.7,195.5 L157.3,195.8 L157.9,196.2 L158.5,196.6 L159.1,197.1 L159.7,197.7 L160.3,198.4 L160.9,199.1 L161.5,199.8 L162.1,200.6 L162.7,201.5 L163.3,202.4 L163.9,203.4 L164.5,204.3 L165.1,205.3 L165.7,206.4 L166.3,207.4 L166.9,208.5 L167.5,209.5 L168.1,210.6 L168.7,211.6 L169.3,212.7 L169.9,213.7 L170.5,214.8 L171.1,215.8 L171.7,216.8 L172.3,217.7 L172.9,218.7 L173.5,219.6 L174.1,220.5 L174.7,221.3 L175.3,222.1 L175.9,222.9 L176.5,223.7 L177.1,224.4 L177.7,225.0 L178.3,225.7 L178.9,226.3 L179.5,226.8 L180.1,227.4 L180.7,227.9 L181.3,228.3 L181.9,228.8 L182.5,229.2 L183.1,229.5 L183.7,229.9 L184.3,230.2 L184.9,230.5 L185.5,230.8 L186.1,231.0 L186.7,231.2 L187.3,231.4 L187.9,231.6 L188.5,231.8 L189.1,231.9 L189.7,232.1 L190.3,232.2 L190.9,232.3 L191.5,232.4 L192.1,232.5 L192.7,232.6 L193.3,232.6 L193.9,232.7 L194.5,232.7 L195.1,232.8 L195.7,232.8 L196.3,232.9 L196.9,232.9 L197.5,232.9 L198.1,233.0 L198.7,233.0 L199.3,233.0 L199.9,233.0 L200.5,233.0 L201.1,233.0 L201.7,233.0 L202.3,233.1 L202.9,233.1 L203.5,233.1 L204.1,233.1 L204.7,233.1 L205.3,233.1 L205.9,233.1 L206.5,233.1 L207.1,233.1 L207.7,233.1 L208.3,233.1 L208.9,233.1 L209.5,233.1 L210.1,233.1 L210.7,233.1 L211.3,233.1 L211.9,233.1 L212.5,233.1 L213.1,233.1 L213.7,233.1 L214.3,233.1 L214.9,233.1 L215.5,233.1 L216.1,233.1 L216.7,233.1 L217.3,233.1 L217.9,233.1 L218.5,233.1 L219.1,233.1 L219.7,233.1 L220.3,233.1 L220.9,233.1 L221.5,233.1 L222.1,233.1 L222.7,233.1 L223.3,233.1 L223.9,233.1 L224.5,233.1 L225.1,233.1 L225.7,233.1 L226.3,233.1 L226.9,233.1 L227.5,233.1 L228.1,233.1 L228.7,233.1 L229.3,233.1 L229.9,233.1 L230.5,233.1 L231.1,233.1 L231.7,233.1 L232.3,233.1 L232.9,233.1 L233.5,233.1 L234.1,233.1 L234.7,233.1 L235.3,233.1 L235.9,233.1 L236.5,233.1 L237.1,233.1 L237.7,233.1 L238.3,233.1 L238.9,233.1 L239.5,233.1 L240.1,233.1 L240.7,233.1 L241.3,233.1 L241.9,233.1 L242.5,233.1 L243.1,233.1 L243.7,233.1 L244.3,233.1 L244.9,233.1 L245.5,233.1 L246.1,233.1 L246.7,233.1 L247.3,233.1 L247.9,233.1 L248.5,233.1 L249.1,233.1 L249.7,233.1 L250.3,233.1 L250.9,233.1 L251.5,233.1 L252.1,233.1 L252.7,233.1 L253.3,233.1 L253.9,233.1 L254.5,233.1 L255.1,233.1 L255.7,233.1 L256.3,233.1 L256.9,233.1 L257.5,233.1 L258.1,233.1 L258.7,233.1 L259.3,233.1 L259.9,233.1 L260.5,233.1 L261.1,233.1 L261.7,233.1 L262.3,233.1 L262.9,233.1 L263.5,233.1 L264.1,233.1 L264.7,233.1 L265.3,233.1 L265.9,233.1 L266.5,233.1 L267.1,233.1 L267.7,233.1 L268.3,233.1 L268.9,233.1 L269.5,233.1 L270.1,233.1 L270.7,233.1 L271.3,233.1 L271.9,233.1 L272.5,233.1 L273.1,233.1 L273.7,233.1 L274.3,233.1 L274.9,233.1 L275.5,233.1 L276.1,233.1 L276.7,233.1 L277.3,233.1 L277.9,233.1 L278.5,233.1 L279.1,233.1 L279.7,233.1 L280.3,233.1 L280.9,233.1 L281.5,233.1 L282.1,233.1 L282.7,233.1 L283.3,233.1 L283.9,233.1 L284.5,233.1 L285.1,233.1 L285.7,233.1 L286.3,233.1 L286.9,233.1 L287.5,233.1 L288.1,233.1 L288.7,233.1 L289.3,233.1 L289.9,233.1 L290.5,233.1 L291.1,233.1 L291.7,233.1 L292.3,233.1 L292.9,233.1 L293.5,233.1 L294.1,233.1 L294.7,233.1 L295.3,233.1 L295.9,233.1 L296.5,233.1 L297.1,233.1 L297.7,233.1 L298.3,233.1 L298.9,233.1 L299.5,233.1 L300.1,233.1 L300.7,233.1 L301.3,233.1 L301.9,233.1 L302.5,233.1 L303.1,233.1 L303.7,233.1 L304.3,233.1 L304.9,233.1 L305.5,233.1 L306.1,233.1 L306.7,233.1 L307.3,233.1 L307.9,233.1 L308.5,233.1 L309.1,233.1 L309.7,233.1 L310.3,233.1 L310.9,233.1 L311.5,233.1 L312.1,233.1 L312.7,233.1 L313.3,233.1 L313.9,233.1 L314.5,233.1 L315.1,233.1 L315.7,233.1 L316.3,233.1 L316.9,233.1 L317.5,233.1 L318.1,233.1 L318.7,233.1 L319.3,233.1 L319.9,233.1 L320.5,233.1 L321.1,233.1 L321.7,233.1 L322.3,233.1 L322.9,233.1 L323.5,233.1 L324.1,233.1 L324.7,233.1 L325.3,233.1 L325.9,233.1 L326.5,233.1 L327.1,233.1 L327.7,233.1" stroke="#1f1fff" stroke-width="1.00"/>
<path d="M23.5,233.1 L24.1,233.1 L24.7,233.1 L25.3,233.1 L25.9,233.1 L26.5,233.1 L27.1,233.1 L27.7,233.1 L28.3,233.1 L28.9,233.1 L29.5,233.1 L30.1,233.1 L30.7,233.1 L31.3,233.1 L31.9,233.1 L32.5,233.1 L33.1,233.1 L33.7,233.1 L34.3,233.1 L34.9,233.1 L35.5,233.1 L36.1,233.1 L36.7,233.1 L37.3,233.1 L37.9,233.1 L38.5,233.1 L39.1,233.1 L39.7,233.1 L40.3,233.1 L40.9,233.1 L41.5,233.1 L42.1,233.1 L42.7,233.1 L43.3,233.1 L43.9,233.1 L44.5,233.1 L45.1,233.1 L45.7,233.1 L46.3,233.1 L46.9,233.1 L47.5,233.1 L48.1,233.1 L48.7,233.1 L49.3,233.1 L49.9,233.1 L50.5,233.1 L51.1,233.1 L51.7,233.1 L52.3,233.1 L52.9,233.1 L53.5,233.1 L54.1,233.1 L54.7,233.1 L55.3,233.1 L55.9,233.1 L56.5,233.1 L57.1,233.1 L57.7,233.1 L58.3,233.1 L58.9,233.1 L59.5,233.1 L60.1,233.1 L60.7,233.1 L61.3,233.1 L61.9,233.1 L62.5,233.1 L63.1,233.1 L63.7,233.1 L64.3,233.1 L64.9,233.1 L65.5,233.1 L66.1,233.1 L66.7,233.1 L67.3,233.1 L67.9,233.1 L68.5,233.1 L69.1,233.1 L69.7,233.1 L70.3,233.1 L70.9,233.1 L71.5,233.1 L72.1,233.1 L72.7,233.1 L73.3,233.1 L73.9,233.1 L74.5,233.1 L75.1,233.1 L75.7,233.1 L76.3,233.1 L76.9,233.1 L77.5,233.1 L78.1,233.1 L78.7,233.1 L79.3,233.1 L79.9,233.1 L80.5,233.1 L81.1,233.1 L81.7,233.1 L82.3,233.1 L82.9,233.1 L83.5,233.1 L84.1,233.1 L84.7,233.1 L85.3,233.1 L85.9,233.1 L86.5,233.1 L87.1,233.1 L87.7,233.1 L88.3,233.1 L88.9,233.1 L89.5,233.1 L90.1,233.1 L90.7,233.1 L91.3,233.1 L91.9,233.1 L92.5,233.1 L93.1,233.1 L93.7,233.1 L94.3,233.1 L94.9,233.1 L95.5,233.1 L96.1,233.0 L96.7,233.0 L97.3,233.0 L97.9,233.0 L98.5,233.0 L99.1,233.0 L99.7,233.0 L100.3,233.0 L100.9,233.0 L101.5,233.0 L102.1,233.0 L102.7,233.0 L103.3,233.0 L103.9,233.0 L104.5,233.0 L105.1,232.9 L105.7,232.9 L106.3,232.9 L106.9,232.9 L107.5,232.9 L108.1,232.9 L108.7,232.9 L109.3,232.8 L109.9,232.8 L110.5,232.8 L111.1,232.8 L111.7,232.8 L112.3,232.7 L112.9,232.7 L113.5,232.7 L114.1,232.7 L114.7,232.6 L115.3,232.6 L115.9,232.6 L116.5,232.5 L117.1,232.5 L117.7,232.4 L118.3,232.4 L118.9,232.4 L119.5,232.3 L120.1,232.3 L120.7,232.2 L121.3,232.1 L121.9,232.1 L122.5,232.0 L123.1,232.0 L123.7,231.9 L124.3,231.8 L124.9,231.7 L125.5,231.7 L126.1,231.6 L126.7,231.5 L127.3,231.4 L127.9,231.3 L128.5,231.2 L129.1,231.1 L129.7,231.0 L130.3,230.9 L130.9,230.8 L131.5,230.6 L132.1,230.5 L132.7,230.4 L133.3,230.2 L133.9,230.1 L134.5,229.9 L135.1,229.7 L135.7,229.6 L136.3,229.4 L136.9,229.2 L137.5,229.0 L138.1,228.8 L138.7,228.6 L139.3,228.4 L139.9,228.2 L140.5,228.0 L141.1,227.7 L141.7,227.5 L142.3,227.2 L142.9,227.0 L143.5,226.7 L144.1,226.4 L144.7,226.1 L145.3,225.8 L145.9,225.5 L146.5,225.2 L147.1,224.9 L147.7,224.6 L148.3,224.2 L148.9,223.9 L149.5,223.5 L150.1,223.1 L150.7,222.7 L151.3,222.3 L151.9,221.9 L152.5,221.5 L153.1,221.1 L153.7,220.7 L154.3,220.2 L154.9,219.8 L155.5,219.3 L156.1,218.9 L156.7,218.4 L157.3,217.9 L157.9,217.4 L158.5,216.9 L159.1,216.4 L159.7,215.9 L160.3,215.3 L160.9,214.8 L161.5,214.2 L162.1,213.7 L162.7,213.1 L163.3,212.6 L163.9,212.0 L164.5,211.4 L165.1,210.8 L165.7,210.2 L166.3,209.6 L166.9,209.0 L167.5,208.4 L168.1,207.8 L168.7,207.2 L169.3,206.6 L169.9,206.0 L170.5,205.4 L171.1,204.7 L171.7,204.1 L172.3,203.5 L172.9,202.9 L173.5,202.3 L174.1,201.7 L174.7,201.0 L175.3,200.4 L175.9,199.8 L176.5,199.2 L177.1,198.6 L177.7,198.0 L178.3,197.5 L178.9,196.9 L179.5,196.3 L180.1,195.8 L180.7,195.2 L181.3,194.7 L181.9,194.1 L182.5,193.6 L183.1,193.1 L183.7,192.6 L184.3,192.1 L184.9,191.6 L185.5,191.2 L186.1,190.7 L186.7,190.3 L187.3,189.9 L187.9,189.5 L188.5,189.1 L189.1,188.7 L189.7,188.4 L190.3,188.1 L190.9,187.7 L191.5,187.5 L192.1,187.2 L192.7,186.9 L193.3,186.7 L193.9,186.5 L194.5,186.3 L195.1,186.1 L195.7,186.0 L196.3,185.8 L196.9,185.7 L197.5,185.6 L198.1,185.6 L198.7,185.5 L199.3,185.5 L199.9,185.5 L200.5,185.5 L201.1,185.6 L201.7,185.6 L202.3,185.7 L202.9,185.9 L203.5,186.0 L204.1,186.2 L204.7,186.4 L205.3,186.6 L205.9,186.8 L206.5,187.1 L207.1,187.4 L207.7,187.7 L208.3,188.0 L208.9,188.3 L209.5,188.7 L210.1,189.1 L210.7,189.5 L211.3,189.9 L211.9,190.4 L212.5,190.8 L213.1,191.3 L213.7,191.8 L214.3,192.3 L214.9,192.8 L215.5,193.3 L216.1,193.9 L216.7,194.4 L217.3,195.0 L217.9,195.6 L218.5,196.2 L219.1,196.8 L219.7,197.4 L220.3,198.0 L220.9,198.6 L221.5,199.3 L222.1,199.9 L222.7,200.5 L223.3,201.2 L223.9,201.8 L224.5,202.5 L225.1,203.1 L225.7,203.8 L226.3,204.4 L226.9,205.1 L227.5,205.8 L228.1,206.4 L228.7,207.1 L229.3,207.7 L229.9,208.3 L230.5,209.0 L231.1,209.6 L231.7,210.2 L232.3,210.9 L232.9,211.5 L233.5,212.1 L234.1,212.7 L234.7,213.3 L235.3,213.9 L235.9,214.5 L236.5,215.0 L237.1,215.6 L237.7,216.2 L238.3,216.7 L238.9,217.3 L239.5,217.8 L240.1,218.3 L240.7,218.8 L241.3,219.3 L241.9,219.8 L242.5,220.3 L243.1,220.7 L243.7,221.2 L244.3,221.6 L244.9,222.1 L245.5,222.5 L246.1,222.9 L246.7,223.3 L247.3,223.7 L247.9,224.1 L248.5,224.4 L249.1,224.8 L249.7,225.1 L250.3,225.5 L250.9,225.8 L251.5,226.1 L252.1,226.4 L252.7,226.7 L253.3,227.0 L253.9,227.3 L254.5,227.5 L255.1,227.8 L255.7,228.0 L256.3,228.3 L256.9,228.5 L257.5,228.7 L258.1,228.9 L258.7,229.1 L259.3,229.3 L259.9,229.5 L260.5,229.7 L261.1,229.9 L261.7,230.0 L262.3,230.2 L262.9,230.4 L263.5,230.5 L264.1,230.6 L264.7,230.8 L265.3,230.9 L265.9,231.0 L266.5,231.1 L267.1,231.2 L267.7,231.3 L268.3,231.4 L268.9,231.5 L269.5,231.6 L270.1,231.7 L270.7,231.8 L271.3,231.9 L271.9,231.9 L272.5,232.0 L273.1,232.1 L273.7,232.1 L274.3,232.2 L274.9,232.3 L275.5,232.3 L276.1,232.4 L276.7,232.4 L277.3,232.5 L277.9,232.5 L278.5,232.5 L279.1,232.6 L279.7,232.6 L280.3,232.6 L280.9,232.7 L281.5,232.7 L282.1,232.7 L282.7,232.8 L283.3,232.8 L283.9,232.8 L284.5,232.8 L285.1,232.8 L285.7,232.9 L286.3,232.9 L286.9,232.9 L287.5,232.9 L288.1,232.9 L288.7,232.9 L289.3,232.9 L289.9,233.0 L290.5,233.0 L291.1,233.0 L291.7,233.0 L292.3,233.0 L292.9,233.0 L293.5,233.0 L294.1,233.0 L294.7,233.0 L295.3,233.0 L295.9,233.0 L296.5,233.0 L297.1,233.0 L297.7,233.0 L298.3,233.1 L298.9,233.1 L299.5,233.1 L300.1,233.1 L300.7,233.1 L301.3,233.1 L301.9,233.1 L302.5,233.1 L303.1,233.1 L303.7,233.1 L304.3,233.1 L304.9,233.1 L305.5,233.1 L306.1,233.1 L306.7,233.1 L307.3,233.1 L307.9,233.1 L308.5,233.1 L309.1,233.1 L309.7,233.1 L310.3,233.1 L310.9,233.1 L311.5,233.1 L312.1,233.1 L312.7,233.1 L313.3,233.1 L313.9,233.1 L314.5,233.1 L315.1,233.1 L315.7,233.1 L316.3,233.1 L316.9,233.1 L317.5,233.1 L318.1,233.1 L318.7,233.1 L319.3,233.1 L319.9,233.1 L320.5,233.1 L321.1,233.1 L321.7,233.1 L322.3,233.1 L322.9,233.1 L323.5,233.1 L324.1,233.1 L324.7,233.1 L325.3,233.1 L325.9,233.1 L326.5,233.1 L327.1,233.1 L327.7,233.1" stroke="#1f1fff" stroke-width="1.00"/>
<path d="M23.5,233.1 L24.1,233.1 L24.7,233.1 L25.3,233.1 L25.9,233.1 L26.5,233.1 L27.1,233.1 L27.7,233.1 L28.3,233.1 L28.9,233.1 L29.5,233.1 L30.1,233.1 L30.7,233.1 L31.3,233.1 L31.9,233.1 L32.5,233.1 L33.1,233.1 L33.7,233.1 L34.3,233.1 L34.9,233.1 L35.5,233.1 L36.1,233.1 L36.7,233.1 L37.3,233.1 L37.9,233.1 L38.5,233.1 L39.1,233.1 L39.7,233.1 L40.3,233.1 L40.9,233.1 L41.5,233.1 L42.1,233.1 L42.7,233.1 L43.3,233.1 L43.9,233.1 L44.5,233.1 L45.1,233.1 L45.7,233.1 L46.3,233.1 L46.9,233.1 L47.5,233.1 L48.1,233.1 L48.7,233.1 L49.3,233.1 L49.9,233.1 L50.5,233.1 L51.1,233.1 L51.7,233.1 L52.3,233.1 L52.9,233.1 L53.5,233.1 L54.1,233.1 L54.7,233.1 L55.3,233.1 L55.9,233.1 L56.5,233.1 L57.1,233.1 L57.7,233.1 L58.3,233.1 L58.9,233.1 L59.5,233.1 L60.1,233.1 L60.7,233.1 L61.3,233.1 L61.9,233.1 L62.5,233.1 L63.1,233.1 L63.7,233.1 L64.3,233.1 L64.9,233.1 L65.5,233.1 L66.1,233.1 L66.7,233.1 L67.3,233.1 L67.9,233.1 L68.5,233.1 L69.1,233.1 L69.7,233.1 L70.3,233.1 L70.9,233.1 L71.5,233.1 L72.1,233.1 L72.7,233.1 L73.3,233.1 L73.9,233.1 L74.5,233.1 L75.1,233.1 L75.7,233.1 L76.3,233.1 L76.9,233.1 L77.5,233.1 L78.1,233.1 L78.7,233.1 L79.3,233.1 L79.9,233.1 L80.5,233.1 L81.1,233.1 L81.7,233.1 L82.3,233.1 L82.9,233.1 L83.5,233.1 L84.1,233.1 L84.7,233.1 L85.3,233.1 L85.9,233.1 L86.5,233.1 L87.1,233.1 L87.7,233.1 L88.3,233.1 L88.9,233.1 L89.5,233.1 L90.1,233.1 L90.7,233.1 L91.3,233.1 L91.9,233.1 L92.5,233.1 L93.1,233.1 L93.7,233.1 L94.3,233.1 L94.9,233.1 L95.5,233.1 L96.1,233.0 L96.7,233.0 L97.3,233.0 L97.9,233.0 L98.5,233.0 L99.1,233.0 L99.7,233.0 L100.3,233.0 L100.9,233.0 L101.5,233.0 L102.1,233.0 L102.7,233.0 L103.3,233.0 L103.9,232.9 L104.5,232.9 L105.1,232.9 L105.7,232.9 L106.3,232.9 L106.9,232.9 L107.5,232.8 L108.1,232.8 L108.7,232.8 L109.3,232.8 L109.9,232.7 L110.5,232.7 L111.1,232.6 L111.7,232.6 L112.3,232.5 L112.9,232.5 L113.5,232.4 L114.1,232.4 L114.7,232.3 L115.3,232.2 L115.9,232.1 L116.5,232.0 L117.1,231.9 L117.7,231.8 L118.3,231.7 L118.9,231.5 L119.5,231.4 L120.1,231.2 L120.7,231.0 L121.3,230.8 L121.9,230.5 L122.5,230.3 L123.1,230.0 L123.7,229.7 L124.3,229.4 L124.9,229.0 L125.5,228.7 L126.1,228.3 L126.7,227.8 L127.3,227.3 L127.9,226.8 L128.5,226.3 L129.1,225.7 L129.7,225.1 L130.3,224.4 L130.9,223.7 L131.5,223.0 L132.1,222.2 L132.7,221.3 L133.3,220.4 L133.9,219.5 L134.5,218.5 L135.1,217.5 L135.7,216.4 L136.3,215.2 L136.9,214.0 L137.5,212.7 L138.1,211.3 L138.7,209.9 L139.3,208.4 L139.9,206.8 L140.5,205.1 L141.1,203.3 L141.7,201.4 L142.3,199.4 L142.9,197.2 L143.5,194.9 L144.1,192.5 L144.7,189.9 L145.3,187.2 L145.9,184.4 L146.5,181.4 L147.1,178.2 L147.7,174.9 L148.3,171.5 L148.9,168.1 L149.5,164.5 L150.1,160.9 L150.7,157.2 L151.3,153.6 L151.9,150.1 L152.5,146.6 L153.1,143.3 L153.7,140.1 L154.3,137.2 L154.9,134.6 L155.5,132.3 L156.1,130.4 L156.7,128.9 L157.3,127.9 L157.9,127.3 L158.5,127.3 L159.1,127.7 L159.7,128.6 L160.3,129.9 L160.9,131.7 L161.5,133.8 L162.1,136.2 L162.7,138.9 L163.3,141.7 L163.9,144.7 L164.5,147.8 L165.1,151.0 L165.7,154.1 L166.3,157.3 L166.9,160.4 L167.5,163.3 L168.1,166.2 L168.7,168.9 L169.3,171.4 L169.9,173.8 L170.5,175.9 L171.1,177.9 L171.7,179.7 L172.3,181.3 L172.9,182.7 L173.5,184.0 L174.1,185.1 L174.7,186.0 L175.3,186.8 L175.9,187.5 L176.5,188.1 L177.1,188.5 L177.7,188.9 L178.3,189.2 L178.9,189.4 L179.5,189.6 L180.1,189.6 L180.7,189.7 L181.3,189.7 L181.9,189.6 L182.5,189.5 L183.1,189.4 L183.7,189.3 L184.3,189.2 L184.9,189.0 L185.5,188.8 L186.1,188.6 L186.7,188.4 L187.3,188.2 L187.9,188.0 L188.5,187.8 L189.1,187.6 L189.7,187.3 L190.3,187.1 L190.9,186.9 L191.5,186.7 L192.1,186.6 L192.7,186.4 L193.3,186.2 L193.9,186.1 L194.5,185.9 L195.1,185.8 L195.7,185.7 L196.3,185.6 L196.9,185.5 L197.5,185.5 L198.1,185.4 L198.7,185.4 L199.3,185.4 L199.9,185.4 L200.5,185.4 L201.1,185.5 L201.7,185.6 L202.3,185.7 L202.9,185.8 L203.5,186.0 L204.1,186.2 L204.7,186.3 L205.3,186.6 L205.9,186.8 L206.5,187.1 L207.1,187.4 L207.7,187.7 L208.3,188.0 L208.9,188.3 L209.5,188.7 L210.1,189.1 L210.7,189.5 L211.3,189.9 L211.9,190.4 L212.5,190.8 L213.1,191.3 L213.7,191.8 L214.3,192.3 L214.9,192.8 L215.5,193.3 L216.1,193.9 L216.7,194.4 L217.3,195.0 L217.9,195.6 L218.5,196.2 L219.1,196.8 L219.7,197.4 L220.3,198.0 L220.9,198.6 L221.5,199.3 L222.1,199.9 L222.7,200.5 L223.3,201.2 L223.9,201.8 L224.5,202.5 L225.1,203.1 L225.7,203.8 L226.3,204.4 L226.9,205.1 L227.5,205.8 L228.1,206.4 L228.7,207.1 L229.3,207.7 L229.9,208.3 L230.5,209.0 L231.1,209.6 L231.7,210.2 L232.3,210.9 L232.9,211.5 L233.5,212.1 L234.1,212.7 L234.7,213.3 L235.3,213.9 L235.9,214.5 L236.5,215.0 L237.1,215.6 L237.7,216.2 L238.3,216.7 L238.9,217.3 L239.5,217.8 L240.1,218.3 L240.7,218.8 L241.3,219.3 L241.9,219.8 L242.5,220.3 L243.1,220.7 L243.7,221.2 L244.3,221.6 L244.9,222.1 L245.5,222.5 L246.1,222.9 L246.7,223.3 L247.3,223.7 L247.9,224.1 L248.5,224.4 L249.1,224.8 L249.7,225.1 L250.3,225.5 L250.9,225.8 L251.5,226.1 L252.1,226.4 L252.7,226.7 L253.3,227.0 L253.9,227.3 L254.5,227.5 L255.1,227.8 L255.7,228.0 L256.3,228.3 L256.9,228.5 L257.5,228.7 L258.1,228.9 L258.7,229.1 L259.3,229.3 L259.9,229.5 L260.5,229.7 L261.1,229.9 L261.7,230.0 L262.3,230.2 L262.9,230.4 L263.5,230.5 L264.1,230.6 L264.7,230.8 L265.3,230.9 L265.9,231.0 L266.5,231.1 L267.1,231.2 L267.7,231.3 L268.3,231.4 L268.9,231.5 L269.5,231.6 L270.1,231.7 L270.7,231.8 L271.3,231.9 L271.9,231.9 L272.5,232.0 L273.1,232.1 L273.7,232.1 L274.3,232.2 L274.9,232.3 L275.5,232.3 L276.1,232.4 L276.7,232.4 L277.3,232.5 L277.9,232.5 L278.5,232.5 L279.1,232.6 L279.7,232.6 L280.3,232.6 L280.9,232.7 L281.5,232.7 L282.1,232.7 L282.7,232.8 L283.3,232.8 L283.9,232.8 L284.5,232.8 L285.1,232.8 L285.7,232.9 L286.3,232.9 L286.9,232.9 L287.5,232.9 L288.1,232.9 L288.7,232.9 L289.3,232.9 L289.9,233.0 L290.5,233.0 L291.1,233.0 L291.7,233.0 L292.3,233.0 L292.9,233.0 L293.5,233.0 L294.1,233.0 L294.7,233.0 L295.3,233.0 L295.9,233.0 L296.5,233.0 L297.1,233.0 L297.7,233.0 L298.3,233.1 L298.9,233.1 L299.5,233.1 L300.1,233.1 L300.7,233.1 L301.3,233.1 L301.9,233.1 L302.5,233.1 L303.1,233.1 L303.7,233.1 L304.3,233.1 L304.9,233.1 L305.5,233.1 L306.1,233.1 L306.7,233.1 L307.3,233.1 L307.9,233.1 L308.5,233.1 L309.1,233.1 L309.7,233.1 L310.3,233.1 L310.9,233.1 L311.5,233.1 L312.1,233.1 L312.7,233.1 L313.3,233.1 L313.9,233.1 L314.5,233.1 L315.1,233.1 L315.7,233.1 L316.3,233.1 L316.9,233.1 L317.5,233.1 L318.1,233.1 L318.7,233.1 L319.3,233.1 L319.9,233.1 L320.5,233.1 L321.1,233.1 L321.7,233.1 L322.3,233.1 L322.9,233.1 L323.5,233.1 L324.1,233.1 L324.7,233.1 L325.3,233.1 L325.9,233.1 L326.5,233.1 L327.1,233.1 L327.7,233.1" stroke="#0000ff" stroke-width="1.55"/>
</g>
<g clip-path="url(#c2)" fill="none" stroke-linejoin="round">
<path d="M23.5,349.9 L24.1,350.4 L24.7,350.4 L25.3,350.2 L25.9,350.0 L26.5,350.7 L27.1,350.8 L27.7,350.5 L28.3,350.9 L28.9,350.5 L29.5,349.4 L30.1,350.5 L30.7,349.8 L31.3,350.7 L31.9,350.0 L32.5,350.2 L33.1,350.1 L33.7,349.9 L34.3,349.4 L34.9,350.0 L35.5,350.0 L36.1,350.5 L36.7,349.8 L37.3,350.2 L37.9,349.7 L38.5,350.1 L39.1,349.4 L39.7,350.9 L40.3,350.2 L40.9,349.7 L41.5,350.2 L42.1,350.4 L42.7,350.2 L43.3,350.6 L43.9,350.0 L44.5,349.1 L45.1,349.6 L45.7,350.5 L46.3,350.4 L46.9,350.2 L47.5,349.6 L48.1,350.4 L48.7,350.3 L49.3,349.7 L49.9,349.7 L50.5,350.2 L51.1,350.5 L51.7,350.7 L52.3,350.3 L52.9,351.0 L53.5,349.7 L54.1,350.3 L54.7,349.8 L55.3,349.2 L55.9,349.5 L56.5,350.5 L57.1,349.6 L57.7,349.5 L58.3,350.3 L58.9,350.4 L59.5,350.0 L60.1,350.7 L60.7,349.4 L61.3,351.0 L61.9,350.5 L62.5,350.1 L63.1,350.1 L63.7,349.9 L64.3,349.8 L64.9,350.0 L65.5,349.4 L66.1,350.9 L66.7,349.9 L67.3,350.2 L67.9,349.8 L68.5,349.8 L69.1,350.3 L69.7,350.1 L70.3,349.5 L70.9,349.7 L71.5,350.1 L72.1,348.9 L72.7,348.8 L73.3,350.4 L73.9,349.6 L74.5,348.6 L75.1,349.4 L75.7,349.6 L76.3,349.8 L76.9,349.9 L77.5,349.8 L78.1,349.9 L78.7,349.3 L79.3,349.8 L79.9,349.8 L80.5,350.1 L81.1,349.6 L81.7,349.9 L82.3,349.6 L82.9,349.0 L83.5,349.2 L84.1,349.2 L84.7,349.2 L85.3,349.3 L85.9,349.4 L86.5,349.4 L87.1,348.9 L87.7,349.7 L88.3,348.5 L88.9,349.1 L89.5,349.4 L90.1,349.3 L90.7,349.3 L91.3,348.9 L91.9,349.3 L92.5,348.3 L93.1,349.2 L93.7,349.9 L94.3,349.1 L94.9,349.7 L95.5,348.6 L96.1,348.0 L96.7,348.2 L97.3,349.1 L97.9,348.8 L98.5,347.4 L99.1,348.1 L99.7,348.2 L100.3,347.5 L100.9,346.7 L101.5,347.3 L102.1,347.8 L102.7,347.6 L103.3,347.4 L103.9,348.0 L104.5,348.1 L105.1,347.4 L105.7,347.9 L106.3,347.3 L106.9,347.1 L107.5,345.8 L108.1,347.4 L108.7,346.9 L109.3,346.9 L109.9,346.4 L110.5,345.9 L111.1,346.7 L111.7,346.7 L112.3,347.1 L112.9,346.5 L113.5,345.5 L114.1,345.7 L114.7,346.1 L115.3,345.6 L115.9,345.2 L116.5,344.7 L117.1,345.2 L117.7,344.8 L118.3,345.5 L118.9,344.9 L119.5,342.9 L120.1,345.0 L120.7,343.5 L121.3,342.8 L121.9,342.9 L122.5,342.8 L123.1,341.9 L123.7,341.4 L124.3,341.0 L124.9,341.7 L125.5,340.0 L126.1,339.9 L126.7,339.0 L127.3,337.8 L127.9,336.7 L128.5,335.7 L129.1,335.8 L129.7,333.8 L130.3,332.5 L130.9,331.4 L131.5,330.0 L132.1,330.0 L132.7,328.6 L133.3,326.4 L133.9,326.7 L134.5,323.7 L135.1,322.6 L135.7,320.7 L136.3,320.0 L136.9,317.2 L137.5,314.3 L138.1,311.3 L138.7,308.9 L139.3,307.5 L139.9,305.2 L140.5,303.3 L141.1,299.5 L141.7,297.5 L142.3,293.9 L142.9,290.0 L143.5,289.1 L144.1,288.0 L144.7,284.5 L145.3,282.4 L145.9,279.4 L146.5,273.7 L147.1,272.3 L147.7,271.8 L148.3,266.6 L148.9,263.3 L149.5,262.9 L150.1,261.0 L150.7,258.4 L151.3,255.5 L151.9,253.1 L152.5,250.6 L153.1,248.9 L153.7,247.5 L154.3,246.0 L154.9,245.9 L155.5,248.0 L156.1,245.7 L156.7,244.8 L157.3,245.8 L157.9,244.4 L158.5,246.6 L159.1,248.2 L159.7,246.2 L160.3,248.5 L160.9,250.5 L161.5,251.2 L162.1,252.7 L162.7,255.5 L163.3,261.0 L163.9,260.8 L164.5,262.6 L165.1,265.5 L165.7,266.3 L166.3,267.4 L166.9,271.7 L167.5,274.8 L168.1,273.4 L168.7,278.7 L169.3,281.9 L169.9,282.5 L170.5,284.6 L171.1,288.1 L171.7,288.6 L172.3,292.2 L172.9,294.7 L173.5,295.6 L174.1,296.9 L174.7,300.2 L175.3,301.0 L175.9,303.2 L176.5,301.9 L177.1,307.0 L177.7,306.4 L178.3,309.2 L178.9,310.6 L179.5,311.0 L180.1,312.0 L180.7,312.8 L181.3,314.7 L181.9,316.5 L182.5,317.3 L183.1,317.1 L183.7,317.8 L184.3,317.8 L184.9,319.3 L185.5,319.4 L186.1,319.5 L186.7,321.2 L187.3,323.1 L187.9,323.3 L188.5,323.9 L189.1,321.6 L189.7,324.1 L190.3,322.6 L190.9,323.4 L191.5,322.7 L192.1,323.6 L192.7,324.8 L193.3,325.1 L193.9,325.0 L194.5,325.2 L195.1,325.9 L195.7,325.7 L196.3,324.5 L196.9,327.4 L197.5,326.0 L198.1,327.1 L198.7,326.4 L199.3,326.0 L199.9,326.9 L200.5,326.4 L201.1,328.5 L201.7,326.4 L202.3,328.0 L202.9,327.2 L203.5,327.7 L204.1,330.1 L204.7,328.8 L205.3,328.2 L205.9,327.3 L206.5,328.5 L207.1,328.7 L207.7,330.3 L208.3,328.2 L208.9,328.1 L209.5,329.7 L210.1,330.1 L210.7,331.4 L211.3,329.6 L211.9,328.4 L212.5,330.2 L213.1,330.0 L213.7,330.8 L214.3,332.2 L214.9,330.6 L215.5,332.8 L216.1,332.3 L216.7,332.1 L217.3,331.9 L217.9,332.5 L218.5,332.7 L219.1,333.9 L219.7,334.5 L220.3,333.7 L220.9,334.5 L221.5,335.2 L222.1,335.4 L222.7,335.1 L223.3,336.4 L223.9,336.2 L224.5,336.7 L225.1,335.5 L225.7,335.6 L226.3,334.6 L226.9,337.5 L227.5,337.1 L228.1,336.1 L228.7,337.2 L229.3,337.6 L229.9,336.2 L230.5,338.0 L231.1,338.9 L231.7,339.3 L232.3,338.2 L232.9,338.5 L233.5,340.0 L234.1,339.9 L234.7,339.0 L235.3,339.2 L235.9,340.3 L236.5,339.6 L237.1,339.8 L237.7,341.8 L238.3,340.9 L238.9,340.6 L239.5,341.5 L240.1,342.9 L240.7,341.7 L241.3,341.1 L241.9,340.7 L242.5,343.8 L243.1,340.3 L243.7,343.3 L244.3,341.9 L244.9,341.9 L245.5,342.3 L246.1,343.1 L246.7,344.3 L247.3,343.1 L247.9,344.3 L248.5,345.8 L249.1,341.9 L249.7,343.7 L250.3,343.0 L250.9,345.2 L251.5,343.6 L252.1,343.6 L252.7,343.8 L253.3,345.1 L253.9,346.2 L254.5,345.5 L255.1,347.2 L255.7,347.0 L256.3,345.7 L256.9,346.7 L257.5,346.2 L258.1,346.3 L258.7,344.8 L259.3,345.4 L259.9,346.6 L260.5,345.7 L261.1,347.4 L261.7,347.1 L262.3,346.2 L262.9,348.0 L263.5,347.4 L264.1,348.3 L264.7,347.3 L265.3,346.1 L265.9,348.1 L266.5,347.4 L267.1,348.4 L267.7,348.7 L268.3,348.9 L268.9,346.7 L269.5,346.1 L270.1,347.7 L270.7,348.7 L271.3,347.6 L271.9,348.6 L272.5,347.7 L273.1,348.2 L273.7,348.2 L274.3,348.0 L274.9,349.1 L275.5,349.0 L276.1,350.2 L276.7,349.1 L277.3,350.0 L277.9,349.0 L278.5,349.7 L279.1,348.9 L279.7,348.6 L280.3,350.3 L280.9,349.8 L281.5,350.0 L282.1,348.5 L282.7,347.7 L283.3,348.5 L283.9,349.6 L284.5,348.0 L285.1,350.7 L285.7,348.0 L286.3,350.0 L286.9,352.0 L287.5,347.0 L288.1,348.0 L288.7,350.5 L289.3,349.4 L289.9,349.8 L290.5,349.5 L291.1,351.0 L291.7,350.3 L292.3,349.2 L292.9,349.4 L293.5,348.5 L294.1,349.6 L294.7,347.4 L295.3,350.5 L295.9,349.5 L296.5,351.7 L297.1,351.1 L297.7,348.4 L298.3,350.8 L298.9,349.3 L299.5,349.9 L300.1,351.0 L300.7,350.2 L301.3,350.4 L301.9,350.4 L302.5,349.1 L303.1,349.2 L303.7,350.5 L304.3,350.9 L304.9,349.6 L305.5,350.1 L306.1,348.8 L306.7,347.0 L307.3,349.0 L307.9,350.0 L308.5,350.2 L309.1,351.0 L309.7,351.0 L310.3,351.2 L310.9,350.5 L311.5,350.5 L312.1,349.1 L312.7,350.5 L313.3,350.3 L313.9,351.5 L314.5,348.0 L315.1,349.4 L315.7,347.8 L316.3,349.0 L316.9,348.2 L317.5,350.4 L318.1,349.1 L318.7,346.6 L319.3,351.6 L319.9,348.5 L320.5,347.8 L321.1,349.5 L321.7,349.1 L322.3,348.4 L322.9,351.0 L323.5,349.5 L324.1,351.3 L324.7,351.0 L325.3,350.9 L325.9,350.3 L326.5,349.9 L327.1,349.4 L327.7,352.1" stroke="#7a1010" stroke-width="1"/>
<path d="M23.5,350.1 L24.1,350.1 L24.7,350.1 L25.3,350.1 L25.9,350.1 L26.5,350.1 L27.1,350.1 L27.7,350.1 L28.3,350.1 L28.9,350.1 L29.5,350.1 L30.1,350.1 L30.7,350.1 L31.3,350.1 L31.9,350.1 L32.5,350.1 L33.1,350.1 L33.7,350.1 L34.3,350.1 L34.9,350.1 L35.5,350.1 L36.1,350.1 L36.7,350.1 L37.3,350.1 L37.9,350.1 L38.5,350.1 L39.1,350.1 L39.7,350.1 L40.3,350.1 L40.9,350.1 L41.5,350.1 L42.1,350.1 L42.7,350.1 L43.3,350.1 L43.9,350.1 L44.5,350.1 L45.1,350.1 L45.7,350.1 L46.3,350.1 L46.9,350.1 L47.5,350.1 L48.1,350.1 L48.7,350.1 L49.3,350.1 L49.9,350.1 L50.5,350.1 L51.1,350.1 L51.7,350.1 L52.3,350.1 L52.9,350.1 L53.5,350.1 L54.1,350.1 L54.7,350.1 L55.3,350.1 L55.9,350.1 L56.5,350.1 L57.1,350.1 L57.7,350.1 L58.3,350.1 L58.9,350.1 L59.5,350.1 L60.1,350.1 L60.7,350.1 L61.3,350.1 L61.9,350.1 L62.5,350.1 L63.1,350.1 L63.7,350.1 L64.3,350.1 L64.9,350.1 L65.5,350.1 L66.1,350.1 L66.7,350.1 L67.3,350.1 L67.9,350.1 L68.5,350.1 L69.1,350.1 L69.7,350.1 L70.3,350.1 L70.9,350.1 L71.5,350.1 L72.1,350.1 L72.7,350.1 L73.3,350.1 L73.9,350.1 L74.5,350.1 L75.1,350.1 L75.7,350.1 L76.3,350.1 L76.9,350.1 L77.5,350.1 L78.1,350.1 L78.7,350.1 L79.3,350.1 L79.9,350.1 L80.5,350.1 L81.1,350.1 L81.7,350.1 L82.3,350.1 L82.9,350.1 L83.5,350.1 L84.1,350.1 L84.7,350.1 L85.3,350.1 L85.9,350.1 L86.5,350.1 L87.1,350.1 L87.7,350.1 L88.3,350.1 L88.9,350.1 L89.5,350.1 L90.1,350.1 L90.7,350.1 L91.3,350.1 L91.9,350.1 L92.5,350.1 L93.1,350.1 L93.7,350.1 L94.3,350.1 L94.9,350.1 L95.5,350.1 L96.1,350.1 L96.7,350.1 L97.3,350.1 L97.9,350.1 L98.5,350.1 L99.1,350.1 L99.7,350.1 L100.3,350.1 L100.9,350.1 L101.5,350.1 L102.1,350.1 L102.7,350.1 L103.3,350.1 L103.9,350.1 L104.5,350.1 L105.1,350.1 L105.7,350.1 L106.3,350.1 L106.9,350.1 L107.5,350.1 L108.1,350.1 L108.7,350.1 L109.3,350.1 L109.9,350.1 L110.5,350.0 L111.1,350.0 L111.7,350.0 L112.3,350.0 L112.9,350.0 L113.5,350.0 L114.1,349.9 L114.7,349.9 L115.3,349.8 L115.9,349.8 L116.5,349.7 L117.1,349.7 L117.7,349.6 L118.3,349.5 L118.9,349.4 L119.5,349.3 L120.1,349.2 L120.7,349.1 L121.3,348.9 L121.9,348.7 L122.5,348.5 L123.1,348.2 L123.7,348.0 L124.3,347.7 L124.9,347.3 L125.5,346.9 L126.1,346.5 L126.7,346.0 L127.3,345.5 L127.9,344.9 L128.5,344.3 L129.1,343.6 L129.7,342.8 L130.3,342.0 L130.9,341.1 L131.5,340.1 L132.1,339.0 L132.7,337.8 L133.3,336.6 L133.9,335.3 L134.5,333.8 L135.1,332.3 L135.7,330.7 L136.3,329.0 L136.9,327.2 L137.5,325.3 L138.1,323.4 L138.7,321.3 L139.3,319.2 L139.9,316.9 L140.5,314.7 L141.1,312.3 L141.7,309.9 L142.3,307.5 L142.9,305.0 L143.5,302.5 L144.1,299.9 L144.7,297.4 L145.3,294.9 L145.9,292.4 L146.5,289.9 L147.1,287.5 L147.7,285.2 L148.3,282.9 L148.9,280.8 L149.5,278.7 L150.1,276.8 L150.7,275.0 L151.3,273.4 L151.9,271.9 L152.5,270.6 L153.1,269.4 L153.7,268.5 L154.3,267.7 L154.9,267.2 L155.5,266.8 L156.1,266.7 L156.7,266.8 L157.3,267.0 L157.9,267.5 L158.5,268.2 L159.1,269.1 L159.7,270.2 L160.3,271.4 L160.9,272.9 L161.5,274.5 L162.1,276.2 L162.7,278.1 L163.3,280.1 L163.9,282.2 L164.5,284.4 L165.1,286.8 L165.7,289.1 L166.3,291.6 L166.9,294.1 L167.5,296.6 L168.1,299.1 L168.7,301.6 L169.3,304.1 L169.9,306.6 L170.5,309.1 L171.1,311.5 L171.7,313.9 L172.3,316.2 L172.9,318.4 L173.5,320.6 L174.1,322.7 L174.7,324.7 L175.3,326.6 L175.9,328.4 L176.5,330.2 L177.1,331.8 L177.7,333.3 L178.3,334.8 L178.9,336.2 L179.5,337.4 L180.1,338.6 L180.7,339.7 L181.3,340.7 L181.9,341.7 L182.5,342.5 L183.1,343.3 L183.7,344.1 L184.3,344.7 L184.9,345.3 L185.5,345.9 L186.1,346.4 L186.7,346.8 L187.3,347.2 L187.9,347.6 L188.5,347.9 L189.1,348.2 L189.7,348.4 L190.3,348.6 L190.9,348.8 L191.5,349.0 L192.1,349.2 L192.7,349.3 L193.3,349.4 L193.9,349.5 L194.5,349.6 L195.1,349.7 L195.7,349.7 L196.3,349.8 L196.9,349.8 L197.5,349.9 L198.1,349.9 L198.7,349.9 L199.3,350.0 L199.9,350.0 L200.5,350.0 L201.1,350.0 L201.7,350.0 L202.3,350.0 L202.9,350.1 L203.5,350.1 L204.1,350.1 L204.7,350.1 L205.3,350.1 L205.9,350.1 L206.5,350.1 L207.1,350.1 L207.7,350.1 L208.3,350.1 L208.9,350.1 L209.5,350.1 L210.1,350.1 L210.7,350.1 L211.3,350.1 L211.9,350.1 L212.5,350.1 L213.1,350.1 L213.7,350.1 L214.3,350.1 L214.9,350.1 L215.5,350.1 L216.1,350.1 L216.7,350.1 L217.3,350.1 L217.9,350.1 L218.5,350.1 L219.1,350.1 L219.7,350.1 L220.3,350.1 L220.9,350.1 L221.5,350.1 L222.1,350.1 L222.7,350.1 L223.3,350.1 L223.9,350.1 L224.5,350.1 L225.1,350.1 L225.7,350.1 L226.3,350.1 L226.9,350.1 L227.5,350.1 L228.1,350.1 L228.7,350.1 L229.3,350.1 L229.9,350.1 L230.5,350.1 L231.1,350.1 L231.7,350.1 L232.3,350.1 L232.9,350.1 L233.5,350.1 L234.1,350.1 L234.7,350.1 L235.3,350.1 L235.9,350.1 L236.5,350.1 L237.1,350.1 L237.7,350.1 L238.3,350.1 L238.9,350.1 L239.5,350.1 L240.1,350.1 L240.7,350.1 L241.3,350.1 L241.9,350.1 L242.5,350.1 L243.1,350.1 L243.7,350.1 L244.3,350.1 L244.9,350.1 L245.5,350.1 L246.1,350.1 L246.7,350.1 L247.3,350.1 L247.9,350.1 L248.5,350.1 L249.1,350.1 L249.7,350.1 L250.3,350.1 L250.9,350.1 L251.5,350.1 L252.1,350.1 L252.7,350.1 L253.3,350.1 L253.9,350.1 L254.5,350.1 L255.1,350.1 L255.7,350.1 L256.3,350.1 L256.9,350.1 L257.5,350.1 L258.1,350.1 L258.7,350.1 L259.3,350.1 L259.9,350.1 L260.5,350.1 L261.1,350.1 L261.7,350.1 L262.3,350.1 L262.9,350.1 L263.5,350.1 L264.1,350.1 L264.7,350.1 L265.3,350.1 L265.9,350.1 L266.5,350.1 L267.1,350.1 L267.7,350.1 L268.3,350.1 L268.9,350.1 L269.5,350.1 L270.1,350.1 L270.7,350.1 L271.3,350.1 L271.9,350.1 L272.5,350.1 L273.1,350.1 L273.7,350.1 L274.3,350.1 L274.9,350.1 L275.5,350.1 L276.1,350.1 L276.7,350.1 L277.3,350.1 L277.9,350.1 L278.5,350.1 L279.1,350.1 L279.7,350.1 L280.3,350.1 L280.9,350.1 L281.5,350.1 L282.1,350.1 L282.7,350.1 L283.3,350.1 L283.9,350.1 L284.5,350.1 L285.1,350.1 L285.7,350.1 L286.3,350.1 L286.9,350.1 L287.5,350.1 L288.1,350.1 L288.7,350.1 L289.3,350.1 L289.9,350.1 L290.5,350.1 L291.1,350.1 L291.7,350.1 L292.3,350.1 L292.9,350.1 L293.5,350.1 L294.1,350.1 L294.7,350.1 L295.3,350.1 L295.9,350.1 L296.5,350.1 L297.1,350.1 L297.7,350.1 L298.3,350.1 L298.9,350.1 L299.5,350.1 L300.1,350.1 L300.7,350.1 L301.3,350.1 L301.9,350.1 L302.5,350.1 L303.1,350.1 L303.7,350.1 L304.3,350.1 L304.9,350.1 L305.5,350.1 L306.1,350.1 L306.7,350.1 L307.3,350.1 L307.9,350.1 L308.5,350.1 L309.1,350.1 L309.7,350.1 L310.3,350.1 L310.9,350.1 L311.5,350.1 L312.1,350.1 L312.7,350.1 L313.3,350.1 L313.9,350.1 L314.5,350.1 L315.1,350.1 L315.7,350.1 L316.3,350.1 L316.9,350.1 L317.5,350.1 L318.1,350.1 L318.7,350.1 L319.3,350.1 L319.9,350.1 L320.5,350.1 L321.1,350.1 L321.7,350.1 L322.3,350.1 L322.9,350.1 L323.5,350.1 L324.1,350.1 L324.7,350.1 L325.3,350.1 L325.9,350.1 L326.5,350.1 L327.1,350.1 L327.7,350.1" stroke="#ff0000" stroke-width="1.00"/>
<path d="M23.5,350.1 L24.1,350.1 L24.7,350.1 L25.3,350.1 L25.9,350.1 L26.5,350.1 L27.1,350.1 L27.7,350.1 L28.3,350.1 L28.9,350.1 L29.5,350.1 L30.1,350.1 L30.7,350.1 L31.3,350.1 L31.9,350.1 L32.5,350.1 L33.1,350.1 L33.7,350.1 L34.3,350.1 L34.9,350.1 L35.5,350.1 L36.1,350.1 L36.7,350.1 L37.3,350.1 L37.9,350.1 L38.5,350.1 L39.1,350.1 L39.7,350.1 L40.3,350.1 L40.9,350.1 L41.5,350.1 L42.1,350.1 L42.7,350.1 L43.3,350.1 L43.9,350.1 L44.5,350.1 L45.1,350.1 L45.7,350.1 L46.3,350.1 L46.9,350.1 L47.5,350.1 L48.1,350.1 L48.7,350.1 L49.3,350.1 L49.9,350.1 L50.5,350.1 L51.1,350.1 L51.7,350.0 L52.3,350.0 L52.9,350.0 L53.5,350.0 L54.1,350.0 L54.7,350.0 L55.3,350.0 L55.9,350.0 L56.5,350.0 L57.1,350.0 L57.7,350.0 L58.3,350.0 L58.9,350.0 L59.5,350.0 L60.1,350.0 L60.7,350.0 L61.3,350.0 L61.9,350.0 L62.5,350.0 L63.1,350.0 L63.7,350.0 L64.3,349.9 L64.9,349.9 L65.5,349.9 L66.1,349.9 L66.7,349.9 L67.3,349.9 L67.9,349.9 L68.5,349.9 L69.1,349.9 L69.7,349.9 L70.3,349.8 L70.9,349.8 L71.5,349.8 L72.1,349.8 L72.7,349.8 L73.3,349.8 L73.9,349.8 L74.5,349.8 L75.1,349.7 L75.7,349.7 L76.3,349.7 L76.9,349.7 L77.5,349.7 L78.1,349.6 L78.7,349.6 L79.3,349.6 L79.9,349.6 L80.5,349.6 L81.1,349.5 L81.7,349.5 L82.3,349.5 L82.9,349.5 L83.5,349.4 L84.1,349.4 L84.7,349.4 L85.3,349.3 L85.9,349.3 L86.5,349.3 L87.1,349.2 L87.7,349.2 L88.3,349.2 L88.9,349.1 L89.5,349.1 L90.1,349.0 L90.7,349.0 L91.3,349.0 L91.9,348.9 L92.5,348.9 L93.1,348.8 L93.7,348.8 L94.3,348.7 L94.9,348.7 L95.5,348.6 L96.1,348.5 L96.7,348.5 L97.3,348.4 L97.9,348.4 L98.5,348.3 L99.1,348.2 L99.7,348.2 L100.3,348.1 L100.9,348.0 L101.5,348.0 L102.1,347.9 L102.7,347.8 L103.3,347.7 L103.9,347.6 L104.5,347.6 L105.1,347.5 L105.7,347.4 L106.3,347.3 L106.9,347.2 L107.5,347.1 L108.1,347.0 L108.7,346.9 L109.3,346.8 L109.9,346.7 L110.5,346.6 L111.1,346.5 L111.7,346.4 L112.3,346.3 L112.9,346.1 L113.5,346.0 L114.1,345.9 L114.7,345.8 L115.3,345.6 L115.9,345.5 L116.5,345.4 L117.1,345.2 L117.7,345.1 L118.3,345.0 L118.9,344.8 L119.5,344.7 L120.1,344.5 L120.7,344.4 L121.3,344.2 L121.9,344.1 L122.5,343.9 L123.1,343.7 L123.7,343.6 L124.3,343.4 L124.9,343.2 L125.5,343.1 L126.1,342.9 L126.7,342.7 L127.3,342.5 L127.9,342.3 L128.5,342.2 L129.1,342.0 L129.7,341.8 L130.3,341.6 L130.9,341.4 L131.5,341.2 L132.1,341.0 L132.7,340.8 L133.3,340.6 L133.9,340.4 L134.5,340.2 L135.1,340.0 L135.7,339.8 L136.3,339.5 L136.9,339.3 L137.5,339.1 L138.1,338.9 L138.7,338.7 L139.3,338.5 L139.9,338.2 L140.5,338.0 L141.1,337.8 L141.7,337.6 L142.3,337.3 L142.9,337.1 L143.5,336.9 L144.1,336.7 L144.7,336.4 L145.3,336.2 L145.9,336.0 L146.5,335.7 L147.1,335.5 L147.7,335.3 L148.3,335.0 L148.9,334.8 L149.5,334.6 L150.1,334.4 L150.7,334.1 L151.3,333.9 L151.9,333.7 L152.5,333.5 L153.1,333.2 L153.7,333.0 L154.3,332.8 L154.9,332.6 L155.5,332.3 L156.1,332.1 L156.7,331.9 L157.3,331.7 L157.9,331.5 L158.5,331.3 L159.1,331.1 L159.7,330.9 L160.3,330.7 L160.9,330.5 L161.5,330.3 L162.1,330.1 L162.7,329.9 L163.3,329.7 L163.9,329.5 L164.5,329.4 L165.1,329.2 L165.7,329.0 L166.3,328.8 L166.9,328.7 L167.5,328.5 L168.1,328.4 L168.7,328.2 L169.3,328.1 L169.9,327.9 L170.5,327.8 L171.1,327.7 L171.7,327.5 L172.3,327.4 L172.9,327.3 L173.5,327.2 L174.1,327.1 L174.7,327.0 L175.3,326.9 L175.9,326.8 L176.5,326.7 L177.1,326.6 L177.7,326.5 L178.3,326.5 L178.9,326.4 L179.5,326.4 L180.1,326.3 L180.7,326.3 L181.3,326.2 L181.9,326.2 L182.5,326.2 L183.1,326.1 L183.7,326.1 L184.3,326.1 L184.9,326.1 L185.5,326.1 L186.1,326.1 L186.7,326.1 L187.3,326.1 L187.9,326.2 L188.5,326.2 L189.1,326.2 L189.7,326.3 L190.3,326.3 L190.9,326.4 L191.5,326.4 L192.1,326.5 L192.7,326.6 L193.3,326.7 L193.9,326.7 L194.5,326.8 L195.1,326.9 L195.7,327.0 L196.3,327.1 L196.9,327.2 L197.5,327.4 L198.1,327.5 L198.7,327.6 L199.3,327.7 L199.9,327.9 L200.5,328.0 L201.1,328.2 L201.7,328.3 L202.3,328.5 L202.9,328.6 L203.5,328.8 L204.1,328.9 L204.7,329.1 L205.3,329.3 L205.9,329.5 L206.5,329.6 L207.1,329.8 L207.7,330.0 L208.3,330.2 L208.9,330.4 L209.5,330.6 L210.1,330.8 L210.7,331.0 L211.3,331.2 L211.9,331.4 L212.5,331.6 L213.1,331.8 L213.7,332.1 L214.3,332.3 L214.9,332.5 L215.5,332.7 L216.1,332.9 L216.7,333.2 L217.3,333.4 L217.9,333.6 L218.5,333.8 L219.1,334.1 L219.7,334.3 L220.3,334.5 L220.9,334.7 L221.5,335.0 L222.1,335.2 L222.7,335.4 L223.3,335.7 L223.9,335.9 L224.5,336.1 L225.1,336.3 L225.7,336.6 L226.3,336.8 L226.9,337.0 L227.5,337.3 L228.1,337.5 L228.7,337.7 L229.3,337.9 L229.9,338.2 L230.5,338.4 L231.1,338.6 L231.7,338.8 L232.3,339.0 L232.9,339.3 L233.5,339.5 L234.1,339.7 L234.7,339.9 L235.3,340.1 L235.9,340.3 L236.5,340.5 L237.1,340.7 L237.7,340.9 L238.3,341.1 L238.9,341.3 L239.5,341.5 L240.1,341.7 L240.7,341.9 L241.3,342.1 L241.9,342.3 L242.5,342.5 L243.1,342.6 L243.7,342.8 L244.3,343.0 L244.9,343.2 L245.5,343.3 L246.1,343.5 L246.7,343.7 L247.3,343.8 L247.9,344.0 L248.5,344.2 L249.1,344.3 L249.7,344.5 L250.3,344.6 L250.9,344.8 L251.5,344.9 L252.1,345.1 L252.7,345.2 L253.3,345.3 L253.9,345.5 L254.5,345.6 L255.1,345.7 L255.7,345.8 L256.3,346.0 L256.9,346.1 L257.5,346.2 L258.1,346.3 L258.7,346.4 L259.3,346.6 L259.9,346.7 L260.5,346.8 L261.1,346.9 L261.7,347.0 L262.3,347.1 L262.9,347.2 L263.5,347.3 L264.1,347.4 L264.7,347.4 L265.3,347.5 L265.9,347.6 L266.5,347.7 L267.1,347.8 L267.7,347.9 L268.3,347.9 L268.9,348.0 L269.5,348.1 L270.1,348.1 L270.7,348.2 L271.3,348.3 L271.9,348.3 L272.5,348.4 L273.1,348.5 L273.7,348.5 L274.3,348.6 L274.9,348.6 L275.5,348.7 L276.1,348.7 L276.7,348.8 L277.3,348.8 L277.9,348.9 L278.5,348.9 L279.1,349.0 L279.7,349.0 L280.3,349.1 L280.9,349.1 L281.5,349.1 L282.1,349.2 L282.7,349.2 L283.3,349.3 L283.9,349.3 L284.5,349.3 L285.1,349.4 L285.7,349.4 L286.3,349.4 L286.9,349.4 L287.5,349.5 L288.1,349.5 L288.7,349.5 L289.3,349.5 L289.9,349.6 L290.5,349.6 L291.1,349.6 L291.7,349.6 L292.3,349.7 L292.9,349.7 L293.5,349.7 L294.1,349.7 L294.7,349.7 L295.3,349.7 L295.9,349.8 L296.5,349.8 L297.1,349.8 L297.7,349.8 L298.3,349.8 L298.9,349.8 L299.5,349.8 L300.1,349.9 L300.7,349.9 L301.3,349.9 L301.9,349.9 L302.5,349.9 L303.1,349.9 L303.7,349.9 L304.3,349.9 L304.9,349.9 L305.5,349.9 L306.1,350.0 L306.7,350.0 L307.3,350.0 L307.9,350.0 L308.5,350.0 L309.1,350.0 L309.7,350.0 L310.3,350.0 L310.9,350.0 L311.5,350.0 L312.1,350.0 L312.7,350.0 L313.3,350.0 L313.9,350.0 L314.5,350.0 L315.1,350.0 L315.7,350.0 L316.3,350.0 L316.9,350.0 L317.5,350.0 L318.1,350.0 L318.7,350.1 L319.3,350.1 L319.9,350.1 L320.5,350.1 L321.1,350.1 L321.7,350.1 L322.3,350.1 L322.9,350.1 L323.5,350.1 L324.1,350.1 L324.7,350.1 L325.3,350.1 L325.9,350.1 L326.5,350.1 L327.1,350.1 L327.7,350.1" stroke="#ff0000" stroke-width="1.00"/>
<path d="M23.5,350.1 L24.1,350.1 L24.7,350.1 L25.3,350.1 L25.9,350.1 L26.5,350.1 L27.1,350.1 L27.7,350.1 L28.3,350.1 L28.9,350.1 L29.5,350.1 L30.1,350.1 L30.7,350.1 L31.3,350.1 L31.9,350.1 L32.5,350.1 L33.1,350.1 L33.7,350.1 L34.3,350.1 L34.9,350.1 L35.5,350.1 L36.1,350.1 L36.7,350.1 L37.3,350.1 L37.9,350.1 L38.5,350.1 L39.1,350.1 L39.7,350.1 L40.3,350.1 L40.9,350.1 L41.5,350.1 L42.1,350.1 L42.7,350.1 L43.3,350.1 L43.9,350.1 L44.5,350.1 L45.1,350.1 L45.7,350.1 L46.3,350.1 L46.9,350.1 L47.5,350.1 L48.1,350.1 L48.7,350.1 L49.3,350.1 L49.9,350.1 L50.5,350.1 L51.1,350.1 L51.7,350.0 L52.3,350.0 L52.9,350.0 L53.5,350.0 L54.1,350.0 L54.7,350.0 L55.3,350.0 L55.9,350.0 L56.5,350.0 L57.1,350.0 L57.7,350.0 L58.3,350.0 L58.9,350.0 L59.5,350.0 L60.1,350.0 L60.7,350.0 L61.3,350.0 L61.9,350.0 L62.5,350.0 L63.1,350.0 L63.7,350.0 L64.3,349.9 L64.9,349.9 L65.5,349.9 L66.1,349.9 L66.7,349.9 L67.3,349.9 L67.9,349.9 L68.5,349.9 L69.1,349.9 L69.7,349.9 L70.3,349.8 L70.9,349.8 L71.5,349.8 L72.1,349.8 L72.7,349.8 L73.3,349.8 L73.9,349.8 L74.5,349.8 L75.1,349.7 L75.7,349.7 L76.3,349.7 L76.9,349.7 L77.5,349.7 L78.1,349.6 L78.7,349.6 L79.3,349.6 L79.9,349.6 L80.5,349.6 L81.1,349.5 L81.7,349.5 L82.3,349.5 L82.9,349.5 L83.5,349.4 L84.1,349.4 L84.7,349.4 L85.3,349.3 L85.9,349.3 L86.5,349.3 L87.1,349.2 L87.7,349.2 L88.3,349.2 L88.9,349.1 L89.5,349.1 L90.1,349.0 L90.7,349.0 L91.3,349.0 L91.9,348.9 L92.5,348.9 L93.1,348.8 L93.7,348.8 L94.3,348.7 L94.9,348.7 L95.5,348.6 L96.1,348.5 L96.7,348.5 L97.3,348.4 L97.9,348.4 L98.5,348.3 L99.1,348.2 L99.7,348.2 L100.3,348.1 L100.9,348.0 L101.5,348.0 L102.1,347.9 L102.7,347.8 L103.3,347.7 L103.9,347.6 L104.5,347.5 L105.1,347.5 L105.7,347.4 L106.3,347.3 L106.9,347.2 L107.5,347.1 L108.1,347.0 L108.7,346.9 L109.3,346.8 L109.9,346.6 L110.5,346.5 L111.1,346.4 L111.7,346.3 L112.3,346.1 L112.9,346.0 L113.5,345.9 L114.1,345.7 L114.7,345.6 L115.3,345.4 L115.9,345.2 L116.5,345.0 L117.1,344.8 L117.7,344.6 L118.3,344.4 L118.9,344.1 L119.5,343.9 L120.1,343.6 L120.7,343.3 L121.3,343.0 L121.9,342.7 L122.5,342.3 L123.1,341.9 L123.7,341.4 L124.3,341.0 L124.9,340.5 L125.5,339.9 L126.1,339.3 L126.7,338.6 L127.3,337.9 L127.9,337.2 L128.5,336.3 L129.1,335.5 L129.7,334.5 L130.3,333.5 L130.9,332.4 L131.5,331.2 L132.1,329.9 L132.7,328.5 L133.3,327.1 L133.9,325.5 L134.5,323.9 L135.1,322.2 L135.7,320.4 L136.3,318.5 L136.9,316.4 L137.5,314.3 L138.1,312.2 L138.7,309.9 L139.3,307.5 L139.9,305.1 L140.5,302.6 L141.1,300.0 L141.7,297.4 L142.3,294.7 L142.9,291.9 L143.5,289.2 L144.1,286.4 L144.7,283.6 L145.3,280.9 L145.9,278.1 L146.5,275.4 L147.1,272.7 L147.7,270.0 L148.3,267.5 L148.9,265.0 L149.5,262.6 L150.1,260.3 L150.7,258.2 L151.3,256.2 L151.9,254.4 L152.5,252.7 L153.1,251.2 L153.7,249.9 L154.3,248.8 L154.9,247.9 L155.5,247.3 L156.1,246.8 L156.7,246.6 L157.3,246.7 L157.9,247.0 L158.5,247.5 L159.1,248.2 L159.7,249.1 L160.3,250.2 L160.9,251.5 L161.5,253.0 L162.1,254.7 L162.7,256.4 L163.3,258.3 L163.9,260.3 L164.5,262.4 L165.1,264.6 L165.7,266.9 L166.3,269.2 L166.9,271.5 L167.5,273.8 L168.1,276.2 L168.7,278.5 L169.3,280.9 L169.9,283.2 L170.5,285.5 L171.1,287.7 L171.7,289.9 L172.3,292.1 L172.9,294.2 L173.5,296.2 L174.1,298.2 L174.7,300.1 L175.3,301.9 L175.9,303.6 L176.5,305.3 L177.1,306.8 L177.7,308.3 L178.3,309.7 L178.9,311.0 L179.5,312.3 L180.1,313.5 L180.7,314.6 L181.3,315.6 L181.9,316.6 L182.5,317.4 L183.1,318.3 L183.7,319.0 L184.3,319.7 L184.9,320.4 L185.5,321.0 L186.1,321.6 L186.7,322.1 L187.3,322.6 L187.9,323.0 L188.5,323.4 L189.1,323.8 L189.7,324.1 L190.3,324.4 L190.9,324.7 L191.5,325.0 L192.1,325.3 L192.7,325.5 L193.3,325.7 L193.9,325.9 L194.5,326.1 L195.1,326.3 L195.7,326.5 L196.3,326.7 L196.9,326.9 L197.5,327.1 L198.1,327.2 L198.7,327.4 L199.3,327.6 L199.9,327.7 L200.5,327.9 L201.1,328.1 L201.7,328.2 L202.3,328.4 L202.9,328.6 L203.5,328.7 L204.1,328.9 L204.7,329.1 L205.3,329.3 L205.9,329.4 L206.5,329.6 L207.1,329.8 L207.7,330.0 L208.3,330.2 L208.9,330.4 L209.5,330.6 L210.1,330.8 L210.7,331.0 L211.3,331.2 L211.9,331.4 L212.5,331.6 L213.1,331.8 L213.7,332.1 L214.3,332.3 L214.9,332.5 L215.5,332.7 L216.1,332.9 L216.7,333.2 L217.3,333.4 L217.9,333.6 L218.5,333.8 L219.1,334.1 L219.7,334.3 L220.3,334.5 L220.9,334.7 L221.5,335.0 L222.1,335.2 L222.7,335.4 L223.3,335.7 L223.9,335.9 L224.5,336.1 L225.1,336.3 L225.7,336.6 L226.3,336.8 L226.9,337.0 L227.5,337.3 L228.1,337.5 L228.7,337.7 L229.3,337.9 L229.9,338.2 L230.5,338.4 L231.1,338.6 L231.7,338.8 L232.3,339.0 L232.9,339.3 L233.5,339.5 L234.1,339.7 L234.7,339.9 L235.3,340.1 L235.9,340.3 L236.5,340.5 L237.1,340.7 L237.7,340.9 L238.3,341.1 L238.9,341.3 L239.5,341.5 L240.1,341.7 L240.7,341.9 L241.3,342.1 L241.9,342.3 L242.5,342.5 L243.1,342.6 L243.7,342.8 L244.3,343.0 L244.9,343.2 L245.5,343.3 L246.1,343.5 L246.7,343.7 L247.3,343.8 L247.9,344.0 L248.5,344.2 L249.1,344.3 L249.7,344.5 L250.3,344.6 L250.9,344.8 L251.5,344.9 L252.1,345.1 L252.7,345.2 L253.3,345.3 L253.9,345.5 L254.5,345.6 L255.1,345.7 L255.7,345.8 L256.3,346.0 L256.9,346.1 L257.5,346.2 L258.1,346.3 L258.7,346.4 L259.3,346.6 L259.9,346.7 L260.5,346.8 L261.1,346.9 L261.7,347.0 L262.3,347.1 L262.9,347.2 L263.5,347.3 L264.1,347.4 L264.7,347.4 L265.3,347.5 L265.9,347.6 L266.5,347.7 L267.1,347.8 L267.7,347.9 L268.3,347.9 L268.9,348.0 L269.5,348.1 L270.1,348.1 L270.7,348.2 L271.3,348.3 L271.9,348.3 L272.5,348.4 L273.1,348.5 L273.7,348.5 L274.3,348.6 L274.9,348.6 L275.5,348.7 L276.1,348.7 L276.7,348.8 L277.3,348.8 L277.9,348.9 L278.5,348.9 L279.1,349.0 L279.7,349.0 L280.3,349.1 L280.9,349.1 L281.5,349.1 L282.1,349.2 L282.7,349.2 L283.3,349.3 L283.9,349.3 L284.5,349.3 L285.1,349.4 L285.7,349.4 L286.3,349.4 L286.9,349.4 L287.5,349.5 L288.1,349.5 L288.7,349.5 L289.3,349.5 L289.9,349.6 L290.5,349.6 L291.1,349.6 L291.7,349.6 L292.3,349.7 L292.9,349.7 L293.5,349.7 L294.1,349.7 L294.7,349.7 L295.3,349.7 L295.9,349.8 L296.5,349.8 L297.1,349.8 L297.7,349.8 L298.3,349.8 L298.9,349.8 L299.5,349.8 L300.1,349.9 L300.7,349.9 L301.3,349.9 L301.9,349.9 L302.5,349.9 L303.1,349.9 L303.7,349.9 L304.3,349.9 L304.9,349.9 L305.5,349.9 L306.1,350.0 L306.7,350.0 L307.3,350.0 L307.9,350.0 L308.5,350.0 L309.1,350.0 L309.7,350.0 L310.3,350.0 L310.9,350.0 L311.5,350.0 L312.1,350.0 L312.7,350.0 L313.3,350.0 L313.9,350.0 L314.5,350.0 L315.1,350.0 L315.7,350.0 L316.3,350.0 L316.9,350.0 L317.5,350.0 L318.1,350.0 L318.7,350.1 L319.3,350.1 L319.9,350.1 L320.5,350.1 L321.1,350.1 L321.7,350.1 L322.3,350.1 L322.9,350.1 L323.5,350.1 L324.1,350.1 L324.7,350.1 L325.3,350.1 L325.9,350.1 L326.5,350.1 L327.1,350.1 L327.7,350.1" stroke="#ff0000" stroke-width="1.70"/>
</g>
<g clip-path="url(#c3)" fill="none" stroke-linejoin="round">
<path d="M23.5,465.7 L24.1,466.2 L24.7,466.4 L25.3,467.0 L25.9,466.8 L26.5,466.5 L27.1,466.5 L27.7,467.7 L28.3,466.3 L28.9,465.0 L29.5,467.8 L30.1,466.1 L30.7,466.5 L31.3,466.7 L31.9,465.8 L32.5,467.3 L33.1,466.5 L33.7,465.7 L34.3,466.7 L34.9,466.8 L35.5,466.4 L36.1,466.7 L36.7,465.5 L37.3,467.0 L37.9,465.9 L38.5,467.1 L39.1,465.9 L39.7,466.4 L40.3,467.9 L40.9,466.2 L41.5,466.9 L42.1,466.4 L42.7,465.1 L43.3,466.8 L43.9,466.7 L44.5,465.0 L45.1,465.8 L45.7,464.8 L46.3,465.6 L46.9,466.3 L47.5,465.7 L48.1,464.8 L48.7,464.9 L49.3,465.4 L49.9,465.3 L50.5,465.3 L51.1,465.6 L51.7,463.7 L52.3,465.0 L52.9,465.7 L53.5,465.1 L54.1,464.1 L54.7,464.1 L55.3,464.5 L55.9,464.8 L56.5,464.1 L57.1,465.3 L57.7,464.8 L58.3,463.1 L58.9,463.9 L59.5,463.1 L60.1,462.2 L60.7,462.5 L61.3,462.8 L61.9,460.9 L62.5,461.9 L63.1,462.5 L63.7,461.3 L64.3,461.4 L64.9,462.2 L65.5,461.1 L66.1,461.0 L66.7,462.3 L67.3,460.5 L67.9,460.3 L68.5,460.1 L69.1,460.8 L69.7,459.4 L70.3,458.7 L70.9,458.2 L71.5,459.0 L72.1,457.0 L72.7,458.3 L73.3,457.0 L73.9,455.1 L74.5,456.6 L75.1,456.0 L75.7,454.0 L76.3,454.9 L76.9,454.4 L77.5,453.4 L78.1,452.0 L78.7,454.8 L79.3,452.9 L79.9,452.6 L80.5,452.1 L81.1,451.4 L81.7,450.8 L82.3,449.0 L82.9,449.7 L83.5,448.1 L84.1,447.2 L84.7,447.9 L85.3,446.3 L85.9,444.0 L86.5,444.9 L87.1,445.4 L87.7,444.2 L88.3,444.5 L88.9,442.6 L89.5,441.3 L90.1,442.7 L90.7,441.3 L91.3,439.2 L91.9,440.5 L92.5,439.1 L93.1,440.0 L93.7,439.2 L94.3,438.3 L94.9,434.4 L95.5,437.0 L96.1,436.6 L96.7,436.1 L97.3,435.1 L97.9,433.6 L98.5,433.7 L99.1,430.8 L99.7,432.7 L100.3,430.6 L100.9,431.6 L101.5,430.8 L102.1,433.0 L102.7,430.9 L103.3,430.4 L103.9,430.2 L104.5,432.3 L105.1,428.0 L105.7,429.3 L106.3,429.0 L106.9,428.4 L107.5,428.0 L108.1,426.9 L108.7,428.8 L109.3,428.0 L109.9,426.1 L110.5,426.0 L111.1,426.5 L111.7,426.5 L112.3,426.6 L112.9,425.3 L113.5,423.4 L114.1,426.2 L114.7,422.5 L115.3,423.2 L115.9,424.7 L116.5,422.8 L117.1,425.7 L117.7,425.8 L118.3,425.1 L118.9,423.7 L119.5,423.4 L120.1,423.4 L120.7,422.4 L121.3,425.3 L121.9,421.5 L122.5,424.0 L123.1,422.7 L123.7,422.2 L124.3,423.1 L124.9,423.2 L125.5,422.5 L126.1,420.9 L126.7,419.9 L127.3,419.8 L127.9,421.8 L128.5,421.3 L129.1,421.3 L129.7,419.2 L130.3,422.5 L130.9,417.8 L131.5,420.0 L132.1,420.2 L132.7,418.5 L133.3,417.3 L133.9,418.1 L134.5,416.9 L135.1,418.0 L135.7,416.3 L136.3,416.1 L136.9,417.8 L137.5,415.5 L138.1,417.1 L138.7,417.1 L139.3,418.3 L139.9,417.3 L140.5,415.6 L141.1,418.4 L141.7,415.5 L142.3,415.7 L142.9,415.7 L143.5,419.1 L144.1,416.0 L144.7,414.8 L145.3,416.7 L145.9,415.3 L146.5,418.8 L147.1,414.3 L147.7,416.1 L148.3,413.8 L148.9,417.6 L149.5,413.9 L150.1,415.1 L150.7,413.5 L151.3,416.0 L151.9,415.5 L152.5,411.3 L153.1,415.7 L153.7,415.4 L154.3,414.8 L154.9,415.8 L155.5,412.6 L156.1,411.8 L156.7,415.3 L157.3,416.7 L157.9,412.5 L158.5,412.6 L159.1,413.0 L159.7,412.6 L160.3,415.5 L160.9,414.5 L161.5,416.2 L162.1,416.3 L162.7,412.8 L163.3,415.2 L163.9,411.0 L164.5,414.2 L165.1,415.2 L165.7,413.2 L166.3,411.7 L166.9,413.7 L167.5,416.1 L168.1,413.8 L168.7,412.4 L169.3,415.1 L169.9,415.5 L170.5,412.9 L171.1,414.2 L171.7,415.9 L172.3,414.9 L172.9,415.4 L173.5,413.8 L174.1,414.1 L174.7,412.5 L175.3,413.1 L175.9,416.3 L176.5,413.4 L177.1,412.6 L177.7,413.1 L178.3,412.2 L178.9,414.3 L179.5,414.8 L180.1,411.9 L180.7,414.6 L181.3,416.1 L181.9,411.2 L182.5,413.6 L183.1,412.8 L183.7,414.1 L184.3,413.8 L184.9,413.3 L185.5,411.8 L186.1,410.5 L186.7,414.1 L187.3,409.3 L187.9,411.8 L188.5,411.2 L189.1,408.3 L189.7,409.0 L190.3,410.8 L190.9,405.3 L191.5,408.9 L192.1,406.8 L192.7,406.3 L193.3,404.0 L193.9,406.3 L194.5,403.5 L195.1,405.7 L195.7,402.2 L196.3,404.5 L196.9,403.3 L197.5,399.2 L198.1,401.0 L198.7,400.7 L199.3,396.7 L199.9,398.9 L200.5,400.1 L201.1,396.9 L201.7,399.2 L202.3,394.8 L202.9,394.0 L203.5,396.0 L204.1,395.4 L204.7,393.3 L205.3,392.8 L205.9,393.6 L206.5,390.2 L207.1,393.7 L207.7,390.2 L208.3,389.4 L208.9,388.3 L209.5,386.5 L210.1,388.3 L210.7,384.4 L211.3,384.8 L211.9,384.8 L212.5,385.2 L213.1,384.0 L213.7,380.6 L214.3,382.0 L214.9,379.4 L215.5,376.9 L216.1,376.1 L216.7,374.4 L217.3,376.9 L217.9,377.5 L218.5,373.0 L219.1,373.5 L219.7,371.3 L220.3,372.6 L220.9,369.7 L221.5,369.7 L222.1,369.2 L222.7,368.9 L223.3,368.5 L223.9,368.2 L224.5,367.6 L225.1,365.7 L225.7,367.9 L226.3,363.2 L226.9,366.2 L227.5,363.7 L228.1,365.2 L228.7,365.1 L229.3,360.5 L229.9,364.6 L230.5,366.1 L231.1,364.7 L231.7,363.7 L232.3,358.8 L232.9,362.3 L233.5,360.8 L234.1,364.4 L234.7,361.7 L235.3,361.0 L235.9,358.8 L236.5,363.7 L237.1,361.2 L237.7,361.9 L238.3,364.6 L238.9,362.8 L239.5,363.5 L240.1,367.8 L240.7,362.3 L241.3,362.7 L241.9,365.0 L242.5,367.1 L243.1,361.9 L243.7,364.8 L244.3,363.7 L244.9,363.4 L245.5,367.8 L246.1,365.7 L246.7,368.4 L247.3,368.7 L247.9,369.4 L248.5,369.9 L249.1,368.3 L249.7,371.1 L250.3,372.4 L250.9,373.4 L251.5,373.0 L252.1,376.3 L252.7,376.4 L253.3,376.4 L253.9,378.3 L254.5,378.4 L255.1,380.3 L255.7,376.1 L256.3,378.4 L256.9,381.2 L257.5,383.3 L258.1,379.9 L258.7,384.6 L259.3,386.6 L259.9,386.9 L260.5,388.0 L261.1,387.0 L261.7,391.0 L262.3,387.9 L262.9,395.0 L263.5,393.1 L264.1,397.6 L264.7,393.3 L265.3,398.7 L265.9,399.4 L266.5,398.7 L267.1,399.3 L267.7,405.1 L268.3,404.9 L268.9,408.1 L269.5,406.4 L270.1,408.1 L270.7,409.8 L271.3,411.6 L271.9,412.3 L272.5,414.2 L273.1,412.9 L273.7,412.2 L274.3,420.0 L274.9,417.7 L275.5,419.4 L276.1,418.8 L276.7,422.7 L277.3,422.3 L277.9,425.2 L278.5,422.9 L279.1,425.2 L279.7,426.7 L280.3,426.8 L280.9,429.0 L281.5,432.5 L282.1,429.4 L282.7,431.0 L283.3,432.8 L283.9,431.6 L284.5,432.1 L285.1,437.4 L285.7,437.7 L286.3,434.2 L286.9,435.3 L287.5,440.2 L288.1,441.9 L288.7,441.6 L289.3,442.2 L289.9,445.0 L290.5,442.7 L291.1,445.9 L291.7,446.5 L292.3,443.2 L292.9,446.8 L293.5,446.3 L294.1,445.7 L294.7,445.9 L295.3,448.7 L295.9,448.6 L296.5,450.8 L297.1,446.4 L297.7,449.0 L298.3,452.9 L298.9,451.3 L299.5,450.4 L300.1,451.3 L300.7,449.2 L301.3,450.5 L301.9,454.6 L302.5,454.1 L303.1,456.8 L303.7,454.2 L304.3,454.7 L304.9,450.1 L305.5,455.5 L306.1,460.1 L306.7,457.6 L307.3,456.4 L307.9,459.4 L308.5,458.9 L309.1,458.1 L309.7,457.0 L310.3,458.2 L310.9,459.9 L311.5,456.7 L312.1,459.6 L312.7,459.7 L313.3,461.7 L313.9,460.7 L314.5,457.9 L315.1,462.7 L315.7,459.7 L316.3,458.2 L316.9,460.6 L317.5,459.4 L318.1,462.4 L318.7,457.4 L319.3,457.9 L319.9,459.9 L320.5,464.2 L321.1,462.8 L321.7,458.5 L322.3,457.0 L322.9,460.1 L323.5,458.1 L324.1,462.2 L324.7,461.4 L325.3,461.0 L325.9,460.1 L326.5,464.6 L327.1,459.0 L327.7,458.2" stroke="#800080" stroke-width="1"/>
<path d="M23.5,467.0 L24.1,467.0 L24.7,467.0 L25.3,467.0 L25.9,467.0 L26.5,467.0 L27.1,467.0 L27.7,467.0 L28.3,467.0 L28.9,467.0 L29.5,467.0 L30.1,467.0 L30.7,467.0 L31.3,467.0 L31.9,467.0 L32.5,467.0 L33.1,467.0 L33.7,467.0 L34.3,467.0 L34.9,467.0 L35.5,467.0 L36.1,467.0 L36.7,467.0 L37.3,467.0 L37.9,467.0 L38.5,467.0 L39.1,467.0 L39.7,467.0 L40.3,467.0 L40.9,467.0 L41.5,466.9 L42.1,466.9 L42.7,466.9 L43.3,466.9 L43.9,466.9 L44.5,466.9 L45.1,466.9 L45.7,466.9 L46.3,466.9 L46.9,466.9 L47.5,466.8 L48.1,466.8 L48.7,466.8 L49.3,466.8 L49.9,466.8 L50.5,466.7 L51.1,466.7 L51.7,466.7 L52.3,466.7 L52.9,466.6 L53.5,466.6 L54.1,466.6 L54.7,466.5 L55.3,466.5 L55.9,466.4 L56.5,466.4 L57.1,466.3 L57.7,466.3 L58.3,466.2 L58.9,466.1 L59.5,466.1 L60.1,466.0 L60.7,465.9 L61.3,465.8 L61.9,465.7 L62.5,465.6 L63.1,465.5 L63.7,465.4 L64.3,465.3 L64.9,465.2 L65.5,465.1 L66.1,464.9 L66.7,464.8 L67.3,464.7 L67.9,464.5 L68.5,464.4 L69.1,464.2 L69.7,464.0 L70.3,463.8 L70.9,463.7 L71.5,463.5 L72.1,463.3 L72.7,463.1 L73.3,462.8 L73.9,462.6 L74.5,462.4 L75.1,462.2 L75.7,461.9 L76.3,461.7 L76.9,461.4 L77.5,461.2 L78.1,460.9 L78.7,460.6 L79.3,460.4 L79.9,460.1 L80.5,459.8 L81.1,459.5 L81.7,459.2 L82.3,459.0 L82.9,458.7 L83.5,458.4 L84.1,458.1 L84.7,457.8 L85.3,457.5 L85.9,457.2 L86.5,457.0 L87.1,456.7 L87.7,456.4 L88.3,456.1 L88.9,455.9 L89.5,455.6 L90.1,455.4 L90.7,455.1 L91.3,454.9 L91.9,454.7 L92.5,454.5 L93.1,454.3 L93.7,454.1 L94.3,453.9 L94.9,453.7 L95.5,453.6 L96.1,453.4 L96.7,453.3 L97.3,453.2 L97.9,453.1 L98.5,453.0 L99.1,452.9 L99.7,452.9 L100.3,452.8 L100.9,452.8 L101.5,452.8 L102.1,452.8 L102.7,452.8 L103.3,452.9 L103.9,452.9 L104.5,453.0 L105.1,453.1 L105.7,453.2 L106.3,453.3 L106.9,453.4 L107.5,453.6 L108.1,453.7 L108.7,453.9 L109.3,454.1 L109.9,454.3 L110.5,454.5 L111.1,454.7 L111.7,454.9 L112.3,455.1 L112.9,455.4 L113.5,455.6 L114.1,455.9 L114.7,456.1 L115.3,456.4 L115.9,456.7 L116.5,457.0 L117.1,457.2 L117.7,457.5 L118.3,457.8 L118.9,458.1 L119.5,458.4 L120.1,458.7 L120.7,459.0 L121.3,459.2 L121.9,459.5 L122.5,459.8 L123.1,460.1 L123.7,460.4 L124.3,460.6 L124.9,460.9 L125.5,461.2 L126.1,461.4 L126.7,461.7 L127.3,461.9 L127.9,462.2 L128.5,462.4 L129.1,462.6 L129.7,462.8 L130.3,463.1 L130.9,463.3 L131.5,463.5 L132.1,463.7 L132.7,463.8 L133.3,464.0 L133.9,464.2 L134.5,464.4 L135.1,464.5 L135.7,464.7 L136.3,464.8 L136.9,464.9 L137.5,465.1 L138.1,465.2 L138.7,465.3 L139.3,465.4 L139.9,465.5 L140.5,465.6 L141.1,465.7 L141.7,465.8 L142.3,465.9 L142.9,466.0 L143.5,466.1 L144.1,466.1 L144.7,466.2 L145.3,466.3 L145.9,466.3 L146.5,466.4 L147.1,466.4 L147.7,466.5 L148.3,466.5 L148.9,466.6 L149.5,466.6 L150.1,466.6 L150.7,466.7 L151.3,466.7 L151.9,466.7 L152.5,466.7 L153.1,466.8 L153.7,466.8 L154.3,466.8 L154.9,466.8 L155.5,466.8 L156.1,466.9 L156.7,466.9 L157.3,466.9 L157.9,466.9 L158.5,466.9 L159.1,466.9 L159.7,466.9 L160.3,466.9 L160.9,466.9 L161.5,466.9 L162.1,467.0 L162.7,467.0 L163.3,467.0 L163.9,467.0 L164.5,467.0 L165.1,467.0 L165.7,467.0 L166.3,467.0 L166.9,467.0 L167.5,467.0 L168.1,467.0 L168.7,467.0 L169.3,467.0 L169.9,467.0 L170.5,467.0 L171.1,467.0 L171.7,467.0 L172.3,467.0 L172.9,467.0 L173.5,467.0 L174.1,467.0 L174.7,467.0 L175.3,467.0 L175.9,467.0 L176.5,467.0 L177.1,467.0 L177.7,467.0 L178.3,467.0 L178.9,467.0 L179.5,467.0 L180.1,467.0 L180.7,467.0 L181.3,467.0 L181.9,467.0 L182.5,467.0 L183.1,467.0 L183.7,467.0 L184.3,467.0 L184.9,467.0 L185.5,467.0 L186.1,467.0 L186.7,467.0 L187.3,467.0 L187.9,467.0 L188.5,467.0 L189.1,467.0 L189.7,467.0 L190.3,467.0 L190.9,467.0 L191.5,467.0 L192.1,467.0 L192.7,467.0 L193.3,467.0 L193.9,467.0 L194.5,467.0 L195.1,467.0 L195.7,467.0 L196.3,467.0 L196.9,467.0 L197.5,467.0 L198.1,467.0 L198.7,467.0 L199.3,467.0 L199.9,467.0 L200.5,467.0 L201.1,467.0 L201.7,467.0 L202.3,467.0 L202.9,467.0 L203.5,467.0 L204.1,467.0 L204.7,467.0 L205.3,467.0 L205.9,467.0 L206.5,467.0 L207.1,467.0 L207.7,467.0 L208.3,467.0 L208.9,467.0 L209.5,467.0 L210.1,467.0 L210.7,467.0 L211.3,467.0 L211.9,467.0 L212.5,467.0 L213.1,467.0 L213.7,467.0 L214.3,467.0 L214.9,467.0 L215.5,467.0 L216.1,467.0 L216.7,467.0 L217.3,467.0 L217.9,467.0 L218.5,467.0 L219.1,467.0 L219.7,467.0 L220.3,467.0 L220.9,467.0 L221.5,467.0 L222.1,467.0 L222.7,467.0 L223.3,467.0 L223.9,467.0 L224.5,467.0 L225.1,467.0 L225.7,467.0 L226.3,467.0 L226.9,467.0 L227.5,467.0 L228.1,467.0 L228.7,467.0 L229.3,467.0 L229.9,467.0 L230.5,467.0 L231.1,467.0 L231.7,467.0 L232.3,467.0 L232.9,467.0 L233.5,467.0 L234.1,467.0 L234.7,467.0 L235.3,467.0 L235.9,467.0 L236.5,467.0 L237.1,467.0 L237.7,467.0 L238.3,467.0 L238.9,467.0 L239.5,467.0 L240.1,467.0 L240.7,467.0 L241.3,467.0 L241.9,467.0 L242.5,467.0 L243.1,467.0 L243.7,467.0 L244.3,467.0 L244.9,467.0 L245.5,467.0 L246.1,467.0 L246.7,467.0 L247.3,467.0 L247.9,467.0 L248.5,467.0 L249.1,467.0 L249.7,467.0 L250.3,467.0 L250.9,467.0 L251.5,467.0 L252.1,467.0 L252.7,467.0 L253.3,467.0 L253.9,467.0 L254.5,467.0 L255.1,467.0 L255.7,467.0 L256.3,467.0 L256.9,467.0 L257.5,467.0 L258.1,467.0 L258.7,467.0 L259.3,467.0 L259.9,467.0 L260.5,467.0 L261.1,467.0 L261.7,467.0 L262.3,467.0 L262.9,467.0 L263.5,467.0 L264.1,467.0 L264.7,467.0 L265.3,467.0 L265.9,467.0 L266.5,467.0 L267.1,467.0 L267.7,467.0 L268.3,467.0 L268.9,467.0 L269.5,467.0 L270.1,467.0 L270.7,467.0 L271.3,467.0 L271.9,467.0 L272.5,467.0 L273.1,467.0 L273.7,467.0 L274.3,467.0 L274.9,467.0 L275.5,467.0 L276.1,467.0 L276.7,467.0 L277.3,467.0 L277.9,467.0 L278.5,467.0 L279.1,467.0 L279.7,467.0 L280.3,467.0 L280.9,467.0 L281.5,467.0 L282.1,467.0 L282.7,467.0 L283.3,467.0 L283.9,467.0 L284.5,467.0 L285.1,467.0 L285.7,467.0 L286.3,467.0 L286.9,467.0 L287.5,467.0 L288.1,467.0 L288.7,467.0 L289.3,467.0 L289.9,467.0 L290.5,467.0 L291.1,467.0 L291.7,467.0 L292.3,467.0 L292.9,467.0 L293.5,467.0 L294.1,467.0 L294.7,467.0 L295.3,467.0 L295.9,467.0 L296.5,467.0 L297.1,467.0 L297.7,467.0 L298.3,467.0 L298.9,467.0 L299.5,467.0 L300.1,467.0 L300.7,467.0 L301.3,467.0 L301.9,467.0 L302.5,467.0 L303.1,467.0 L303.7,467.0 L304.3,467.0 L304.9,467.0 L305.5,467.0 L306.1,467.0 L306.7,467.0 L307.3,467.0 L307.9,467.0 L308.5,467.0 L309.1,467.0 L309.7,467.0 L310.3,467.0 L310.9,467.0 L311.5,467.0 L312.1,467.0 L312.7,467.0 L313.3,467.0 L313.9,467.0 L314.5,467.0 L315.1,467.0 L315.7,467.0 L316.3,467.0 L316.9,467.0 L317.5,467.0 L318.1,467.0 L318.7,467.0 L319.3,467.0 L319.9,467.0 L320.5,467.0 L321.1,467.0 L321.7,467.0 L322.3,467.0 L322.9,467.0 L323.5,467.0 L324.1,467.0 L324.7,467.0 L325.3,467.0 L325.9,467.0 L326.5,467.0 L327.1,467.0 L327.7,467.0" stroke="#000000" stroke-width="0.90"/>
<path d="M23.5,466.8 L24.1,466.8 L24.7,466.8 L25.3,466.8 L25.9,466.8 L26.5,466.8 L27.1,466.8 L27.7,466.7 L28.3,466.7 L28.9,466.7 L29.5,466.7 L30.1,466.7 L30.7,466.7 L31.3,466.7 L31.9,466.6 L32.5,466.6 L33.1,466.6 L33.7,466.6 L34.3,466.6 L34.9,466.5 L35.5,466.5 L36.1,466.5 L36.7,466.5 L37.3,466.4 L37.9,466.4 L38.5,466.4 L39.1,466.4 L39.7,466.3 L40.3,466.3 L40.9,466.3 L41.5,466.2 L42.1,466.2 L42.7,466.2 L43.3,466.1 L43.9,466.1 L44.5,466.0 L45.1,466.0 L45.7,466.0 L46.3,465.9 L46.9,465.9 L47.5,465.8 L48.1,465.8 L48.7,465.7 L49.3,465.6 L49.9,465.6 L50.5,465.5 L51.1,465.5 L51.7,465.4 L52.3,465.3 L52.9,465.3 L53.5,465.2 L54.1,465.1 L54.7,465.0 L55.3,465.0 L55.9,464.9 L56.5,464.8 L57.1,464.7 L57.7,464.6 L58.3,464.5 L58.9,464.4 L59.5,464.3 L60.1,464.2 L60.7,464.1 L61.3,464.0 L61.9,463.9 L62.5,463.7 L63.1,463.6 L63.7,463.5 L64.3,463.4 L64.9,463.2 L65.5,463.1 L66.1,463.0 L66.7,462.8 L67.3,462.7 L67.9,462.5 L68.5,462.4 L69.1,462.2 L69.7,462.0 L70.3,461.9 L70.9,461.7 L71.5,461.5 L72.1,461.3 L72.7,461.1 L73.3,460.9 L73.9,460.7 L74.5,460.5 L75.1,460.3 L75.7,460.1 L76.3,459.9 L76.9,459.6 L77.5,459.4 L78.1,459.2 L78.7,458.9 L79.3,458.7 L79.9,458.4 L80.5,458.2 L81.1,457.9 L81.7,457.7 L82.3,457.4 L82.9,457.1 L83.5,456.8 L84.1,456.5 L84.7,456.2 L85.3,455.9 L85.9,455.6 L86.5,455.3 L87.1,455.0 L87.7,454.7 L88.3,454.3 L88.9,454.0 L89.5,453.7 L90.1,453.3 L90.7,453.0 L91.3,452.6 L91.9,452.2 L92.5,451.9 L93.1,451.5 L93.7,451.1 L94.3,450.7 L94.9,450.3 L95.5,450.0 L96.1,449.6 L96.7,449.1 L97.3,448.7 L97.9,448.3 L98.5,447.9 L99.1,447.5 L99.7,447.1 L100.3,446.6 L100.9,446.2 L101.5,445.8 L102.1,445.3 L102.7,444.9 L103.3,444.4 L103.9,444.0 L104.5,443.5 L105.1,443.0 L105.7,442.6 L106.3,442.1 L106.9,441.6 L107.5,441.2 L108.1,440.7 L108.7,440.2 L109.3,439.7 L109.9,439.3 L110.5,438.8 L111.1,438.3 L111.7,437.8 L112.3,437.3 L112.9,436.9 L113.5,436.4 L114.1,435.9 L114.7,435.4 L115.3,434.9 L115.9,434.4 L116.5,434.0 L117.1,433.5 L117.7,433.0 L118.3,432.5 L118.9,432.0 L119.5,431.6 L120.1,431.1 L120.7,430.6 L121.3,430.2 L121.9,429.7 L122.5,429.3 L123.1,428.8 L123.7,428.4 L124.3,427.9 L124.9,427.5 L125.5,427.0 L126.1,426.6 L126.7,426.2 L127.3,425.8 L127.9,425.4 L128.5,425.0 L129.1,424.6 L129.7,424.2 L130.3,423.8 L130.9,423.4 L131.5,423.0 L132.1,422.7 L132.7,422.3 L133.3,422.0 L133.9,421.6 L134.5,421.3 L135.1,421.0 L135.7,420.7 L136.3,420.4 L136.9,420.1 L137.5,419.8 L138.1,419.5 L138.7,419.3 L139.3,419.0 L139.9,418.8 L140.5,418.6 L141.1,418.4 L141.7,418.2 L142.3,418.0 L142.9,417.8 L143.5,417.6 L144.1,417.4 L144.7,417.3 L145.3,417.2 L145.9,417.0 L146.5,416.9 L147.1,416.8 L147.7,416.8 L148.3,416.7 L148.9,416.6 L149.5,416.6 L150.1,416.5 L150.7,416.5 L151.3,416.5 L151.9,416.5 L152.5,416.5 L153.1,416.5 L153.7,416.6 L154.3,416.6 L154.9,416.7 L155.5,416.8 L156.1,416.9 L156.7,417.0 L157.3,417.1 L157.9,417.2 L158.5,417.3 L159.1,417.5 L159.7,417.7 L160.3,417.8 L160.9,418.0 L161.5,418.2 L162.1,418.4 L162.7,418.6 L163.3,418.9 L163.9,419.1 L164.5,419.4 L165.1,419.6 L165.7,419.9 L166.3,420.2 L166.9,420.5 L167.5,420.8 L168.1,421.1 L168.7,421.4 L169.3,421.7 L169.9,422.1 L170.5,422.4 L171.1,422.8 L171.7,423.2 L172.3,423.5 L172.9,423.9 L173.5,424.3 L174.1,424.7 L174.7,425.1 L175.3,425.5 L175.9,425.9 L176.5,426.3 L177.1,426.8 L177.7,427.2 L178.3,427.6 L178.9,428.1 L179.5,428.5 L180.1,429.0 L180.7,429.4 L181.3,429.9 L181.9,430.3 L182.5,430.8 L183.1,431.3 L183.7,431.7 L184.3,432.2 L184.9,432.7 L185.5,433.2 L186.1,433.6 L186.7,434.1 L187.3,434.6 L187.9,435.1 L188.5,435.6 L189.1,436.0 L189.7,436.5 L190.3,437.0 L190.9,437.5 L191.5,438.0 L192.1,438.5 L192.7,438.9 L193.3,439.4 L193.9,439.9 L194.5,440.4 L195.1,440.9 L195.7,441.3 L196.3,441.8 L196.9,442.3 L197.5,442.7 L198.1,443.2 L198.7,443.7 L199.3,444.1 L199.9,444.6 L200.5,445.0 L201.1,445.5 L201.7,445.9 L202.3,446.3 L202.9,446.8 L203.5,447.2 L204.1,447.6 L204.7,448.0 L205.3,448.5 L205.9,448.9 L206.5,449.3 L207.1,449.7 L207.7,450.1 L208.3,450.5 L208.9,450.9 L209.5,451.2 L210.1,451.6 L210.7,452.0 L211.3,452.4 L211.9,452.7 L212.5,453.1 L213.1,453.4 L213.7,453.8 L214.3,454.1 L214.9,454.4 L215.5,454.8 L216.1,455.1 L216.7,455.4 L217.3,455.7 L217.9,456.0 L218.5,456.3 L219.1,456.6 L219.7,456.9 L220.3,457.2 L220.9,457.5 L221.5,457.7 L222.1,458.0 L222.7,458.3 L223.3,458.5 L223.9,458.8 L224.5,459.0 L225.1,459.3 L225.7,459.5 L226.3,459.7 L226.9,459.9 L227.5,460.2 L228.1,460.4 L228.7,460.6 L229.3,460.8 L229.9,461.0 L230.5,461.2 L231.1,461.4 L231.7,461.6 L232.3,461.7 L232.9,461.9 L233.5,462.1 L234.1,462.2 L234.7,462.4 L235.3,462.6 L235.9,462.7 L236.5,462.9 L237.1,463.0 L237.7,463.1 L238.3,463.3 L238.9,463.4 L239.5,463.5 L240.1,463.7 L240.7,463.8 L241.3,463.9 L241.9,464.0 L242.5,464.1 L243.1,464.2 L243.7,464.3 L244.3,464.4 L244.9,464.5 L245.5,464.6 L246.1,464.7 L246.7,464.8 L247.3,464.9 L247.9,465.0 L248.5,465.1 L249.1,465.1 L249.7,465.2 L250.3,465.3 L250.9,465.3 L251.5,465.4 L252.1,465.5 L252.7,465.5 L253.3,465.6 L253.9,465.7 L254.5,465.7 L255.1,465.8 L255.7,465.8 L256.3,465.9 L256.9,465.9 L257.5,466.0 L258.1,466.0 L258.7,466.1 L259.3,466.1 L259.9,466.1 L260.5,466.2 L261.1,466.2 L261.7,466.2 L262.3,466.3 L262.9,466.3 L263.5,466.3 L264.1,466.4 L264.7,466.4 L265.3,466.4 L265.9,466.5 L266.5,466.5 L267.1,466.5 L267.7,466.5 L268.3,466.6 L268.9,466.6 L269.5,466.6 L270.1,466.6 L270.7,466.6 L271.3,466.6 L271.9,466.7 L272.5,466.7 L273.1,466.7 L273.7,466.7 L274.3,466.7 L274.9,466.7 L275.5,466.8 L276.1,466.8 L276.7,466.8 L277.3,466.8 L277.9,466.8 L278.5,466.8 L279.1,466.8 L279.7,466.8 L280.3,466.8 L280.9,466.8 L281.5,466.9 L282.1,466.9 L282.7,466.9 L283.3,466.9 L283.9,466.9 L284.5,466.9 L285.1,466.9 L285.7,466.9 L286.3,466.9 L286.9,466.9 L287.5,466.9 L288.1,466.9 L288.7,466.9 L289.3,466.9 L289.9,466.9 L290.5,466.9 L291.1,466.9 L291.7,466.9 L292.3,466.9 L292.9,467.0 L293.5,467.0 L294.1,467.0 L294.7,467.0 L295.3,467.0 L295.9,467.0 L296.5,467.0 L297.1,467.0 L297.7,467.0 L298.3,467.0 L298.9,467.0 L299.5,467.0 L300.1,467.0 L300.7,467.0 L301.3,467.0 L301.9,467.0 L302.5,467.0 L303.1,467.0 L303.7,467.0 L304.3,467.0 L304.9,467.0 L305.5,467.0 L306.1,467.0 L306.7,467.0 L307.3,467.0 L307.9,467.0 L308.5,467.0 L309.1,467.0 L309.7,467.0 L310.3,467.0 L310.9,467.0 L311.5,467.0 L312.1,467.0 L312.7,467.0 L313.3,467.0 L313.9,467.0 L314.5,467.0 L315.1,467.0 L315.7,467.0 L316.3,467.0 L316.9,467.0 L317.5,467.0 L318.1,467.0 L318.7,467.0 L319.3,467.0 L319.9,467.0 L320.5,467.0 L321.1,467.0 L321.7,467.0 L322.3,467.0 L322.9,467.0 L323.5,467.0 L324.1,467.0 L324.7,467.0 L325.3,467.0 L325.9,467.0 L326.5,467.0 L327.1,467.0 L327.7,467.0" stroke="#000000" stroke-width="0.90"/>
<path d="M23.5,467.0 L24.1,467.0 L24.7,467.0 L25.3,467.0 L25.9,467.0 L26.5,467.0 L27.1,467.0 L27.7,467.0 L28.3,467.0 L28.9,467.0 L29.5,467.0 L30.1,467.0 L30.7,467.0 L31.3,467.0 L31.9,467.0 L32.5,467.0 L33.1,467.0 L33.7,467.0 L34.3,467.0 L34.9,467.0 L35.5,467.0 L36.1,467.0 L36.7,467.0 L37.3,467.0 L37.9,467.0 L38.5,467.0 L39.1,467.0 L39.7,467.0 L40.3,467.0 L40.9,467.0 L41.5,467.0 L42.1,467.0 L42.7,467.0 L43.3,467.0 L43.9,467.0 L44.5,467.0 L45.1,467.0 L45.7,467.0 L46.3,467.0 L46.9,467.0 L47.5,467.0 L48.1,467.0 L48.7,467.0 L49.3,467.0 L49.9,467.0 L50.5,467.0 L51.1,467.0 L51.7,467.0 L52.3,467.0 L52.9,467.0 L53.5,467.0 L54.1,467.0 L54.7,467.0 L55.3,467.0 L55.9,467.0 L56.5,467.0 L57.1,467.0 L57.7,467.0 L58.3,467.0 L58.9,467.0 L59.5,467.0 L60.1,467.0 L60.7,467.0 L61.3,467.0 L61.9,467.0 L62.5,467.0 L63.1,467.0 L63.7,467.0 L64.3,467.0 L64.9,467.0 L65.5,467.0 L66.1,467.0 L66.7,467.0 L67.3,467.0 L67.9,467.0 L68.5,467.0 L69.1,467.0 L69.7,467.0 L70.3,467.0 L70.9,467.0 L71.5,467.0 L72.1,467.0 L72.7,467.0 L73.3,467.0 L73.9,467.0 L74.5,467.0 L75.1,467.0 L75.7,467.0 L76.3,467.0 L76.9,467.0 L77.5,467.0 L78.1,467.0 L78.7,467.0 L79.3,467.0 L79.9,467.0 L80.5,467.0 L81.1,467.0 L81.7,467.0 L82.3,467.0 L82.9,467.0 L83.5,467.0 L84.1,467.0 L84.7,467.0 L85.3,467.0 L85.9,467.0 L86.5,467.0 L87.1,467.0 L87.7,467.0 L88.3,467.0 L88.9,467.0 L89.5,467.0 L90.1,467.0 L90.7,467.0 L91.3,467.0 L91.9,467.0 L92.5,467.0 L93.1,467.0 L93.7,467.0 L94.3,467.0 L94.9,467.0 L95.5,467.0 L96.1,467.0 L96.7,467.0 L97.3,467.0 L97.9,467.0 L98.5,467.0 L99.1,467.0 L99.7,467.0 L100.3,467.0 L100.9,467.0 L101.5,467.0 L102.1,467.0 L102.7,467.0 L103.3,467.0 L103.9,467.0 L104.5,467.0 L105.1,467.0 L105.7,467.0 L106.3,467.0 L106.9,467.0 L107.5,467.0 L108.1,467.0 L108.7,467.0 L109.3,467.0 L109.9,467.0 L110.5,467.0 L111.1,467.0 L111.7,467.0 L112.3,467.0 L112.9,467.0 L113.5,467.0 L114.1,467.0 L114.7,467.0 L115.3,467.0 L115.9,467.0 L116.5,467.0 L117.1,467.0 L117.7,467.0 L118.3,467.0 L118.9,467.0 L119.5,467.0 L120.1,467.0 L120.7,467.0 L121.3,466.9 L121.9,466.9 L122.5,466.9 L123.1,466.9 L123.7,466.9 L124.3,466.9 L124.9,466.9 L125.5,466.9 L126.1,466.9 L126.7,466.9 L127.3,466.9 L127.9,466.9 L128.5,466.9 L129.1,466.9 L129.7,466.8 L130.3,466.8 L130.9,466.8 L131.5,466.8 L132.1,466.8 L132.7,466.8 L133.3,466.8 L133.9,466.8 L134.5,466.7 L135.1,466.7 L135.7,466.7 L136.3,466.7 L136.9,466.7 L137.5,466.6 L138.1,466.6 L138.7,466.6 L139.3,466.5 L139.9,466.5 L140.5,466.5 L141.1,466.4 L141.7,466.4 L142.3,466.4 L142.9,466.3 L143.5,466.3 L144.1,466.2 L144.7,466.2 L145.3,466.1 L145.9,466.1 L146.5,466.0 L147.1,466.0 L147.7,465.9 L148.3,465.8 L148.9,465.8 L149.5,465.7 L150.1,465.6 L150.7,465.5 L151.3,465.4 L151.9,465.3 L152.5,465.3 L153.1,465.2 L153.7,465.0 L154.3,464.9 L154.9,464.8 L155.5,464.7 L156.1,464.6 L156.7,464.4 L157.3,464.3 L157.9,464.1 L158.5,464.0 L159.1,463.8 L159.7,463.6 L160.3,463.5 L160.9,463.3 L161.5,463.1 L162.1,462.9 L162.7,462.7 L163.3,462.4 L163.9,462.2 L164.5,462.0 L165.1,461.7 L165.7,461.4 L166.3,461.2 L166.9,460.9 L167.5,460.6 L168.1,460.3 L168.7,460.0 L169.3,459.6 L169.9,459.3 L170.5,458.9 L171.1,458.6 L171.7,458.2 L172.3,457.8 L172.9,457.4 L173.5,457.0 L174.1,456.5 L174.7,456.1 L175.3,455.6 L175.9,455.1 L176.5,454.6 L177.1,454.1 L177.7,453.6 L178.3,453.0 L178.9,452.5 L179.5,451.9 L180.1,451.3 L180.7,450.7 L181.3,450.0 L181.9,449.4 L182.5,448.7 L183.1,448.1 L183.7,447.3 L184.3,446.6 L184.9,445.9 L185.5,445.1 L186.1,444.4 L186.7,443.6 L187.3,442.8 L187.9,441.9 L188.5,441.1 L189.1,440.2 L189.7,439.4 L190.3,438.5 L190.9,437.5 L191.5,436.6 L192.1,435.7 L192.7,434.7 L193.3,433.7 L193.9,432.7 L194.5,431.7 L195.1,430.7 L195.7,429.6 L196.3,428.6 L196.9,427.5 L197.5,426.4 L198.1,425.3 L198.7,424.2 L199.3,423.1 L199.9,421.9 L200.5,420.8 L201.1,419.6 L201.7,418.5 L202.3,417.3 L202.9,416.1 L203.5,414.9 L204.1,413.7 L204.7,412.5 L205.3,411.3 L205.9,410.1 L206.5,408.9 L207.1,407.7 L207.7,406.5 L208.3,405.2 L208.9,404.0 L209.5,402.8 L210.1,401.6 L210.7,400.4 L211.3,399.2 L211.9,398.0 L212.5,396.8 L213.1,395.6 L213.7,394.4 L214.3,393.2 L214.9,392.1 L215.5,390.9 L216.1,389.8 L216.7,388.7 L217.3,387.6 L217.9,386.5 L218.5,385.5 L219.1,384.4 L219.7,383.4 L220.3,382.4 L220.9,381.4 L221.5,380.4 L222.1,379.5 L222.7,378.6 L223.3,377.7 L223.9,376.9 L224.5,376.0 L225.1,375.2 L225.7,374.5 L226.3,373.7 L226.9,373.0 L227.5,372.4 L228.1,371.7 L228.7,371.1 L229.3,370.5 L229.9,370.0 L230.5,369.5 L231.1,369.0 L231.7,368.6 L232.3,368.2 L232.9,367.9 L233.5,367.6 L234.1,367.3 L234.7,367.1 L235.3,366.9 L235.9,366.7 L236.5,366.6 L237.1,366.5 L237.7,366.5 L238.3,366.5 L238.9,366.6 L239.5,366.6 L240.1,366.8 L240.7,366.9 L241.3,367.1 L241.9,367.4 L242.5,367.6 L243.1,368.0 L243.7,368.3 L244.3,368.7 L244.9,369.1 L245.5,369.6 L246.1,370.1 L246.7,370.6 L247.3,371.2 L247.9,371.8 L248.5,372.4 L249.1,373.1 L249.7,373.7 L250.3,374.5 L250.9,375.2 L251.5,376.0 L252.1,376.8 L252.7,377.7 L253.3,378.5 L253.9,379.4 L254.5,380.3 L255.1,381.3 L255.7,382.2 L256.3,383.2 L256.9,384.2 L257.5,385.2 L258.1,386.3 L258.7,387.4 L259.3,388.4 L259.9,389.5 L260.5,390.6 L261.1,391.7 L261.7,392.9 L262.3,394.0 L262.9,395.2 L263.5,396.3 L264.1,397.5 L264.7,398.7 L265.3,399.9 L265.9,401.1 L266.5,402.3 L267.1,403.4 L267.7,404.6 L268.3,405.8 L268.9,407.0 L269.5,408.2 L270.1,409.4 L270.7,410.6 L271.3,411.8 L271.9,413.0 L272.5,414.2 L273.1,415.4 L273.7,416.5 L274.3,417.7 L274.9,418.8 L275.5,420.0 L276.1,421.1 L276.7,422.3 L277.3,423.4 L277.9,424.5 L278.5,425.6 L279.1,426.6 L279.7,427.7 L280.3,428.8 L280.9,429.8 L281.5,430.8 L282.1,431.8 L282.7,432.8 L283.3,433.8 L283.9,434.8 L284.5,435.7 L285.1,436.7 L285.7,437.6 L286.3,438.5 L286.9,439.3 L287.5,440.2 L288.1,441.1 L288.7,441.9 L289.3,442.7 L289.9,443.5 L290.5,444.3 L291.1,445.0 L291.7,445.8 L292.3,446.5 L292.9,447.2 L293.5,447.9 L294.1,448.6 L294.7,449.3 L295.3,449.9 L295.9,450.5 L296.5,451.1 L297.1,451.7 L297.7,452.3 L298.3,452.9 L298.9,453.4 L299.5,453.9 L300.1,454.4 L300.7,454.9 L301.3,455.4 L301.9,455.9 L302.5,456.3 L303.1,456.8 L303.7,457.2 L304.3,457.6 L304.9,458.0 L305.5,458.4 L306.1,458.8 L306.7,459.1 L307.3,459.5 L307.9,459.8 L308.5,460.1 L309.1,460.4 L309.7,460.7 L310.3,461.0 L310.9,461.3 L311.5,461.5 L312.1,461.8 L312.7,462.0 L313.3,462.3 L313.9,462.5 L314.5,462.7 L315.1,462.9 L315.7,463.1 L316.3,463.3 L316.9,463.5 L317.5,463.7 L318.1,463.8 L318.7,464.0 L319.3,464.1 L319.9,464.3 L320.5,464.4 L321.1,464.6 L321.7,464.7 L322.3,464.8 L322.9,464.9 L323.5,465.0 L324.1,465.1 L324.7,465.2 L325.3,465.3 L325.9,465.4 L326.5,465.5 L327.1,465.6 L327.7,465.7" stroke="#000000" stroke-width="0.90"/>
<path d="M23.5,466.8 L24.1,466.8 L24.7,466.8 L25.3,466.8 L25.9,466.8 L26.5,466.8 L27.1,466.8 L27.7,466.7 L28.3,466.7 L28.9,466.7 L29.5,466.7 L30.1,466.7 L30.7,466.7 L31.3,466.7 L31.9,466.6 L32.5,466.6 L33.1,466.6 L33.7,466.6 L34.3,466.6 L34.9,466.5 L35.5,466.5 L36.1,466.5 L36.7,466.5 L37.3,466.4 L37.9,466.4 L38.5,466.4 L39.1,466.3 L39.7,466.3 L40.3,466.3 L40.9,466.2 L41.5,466.2 L42.1,466.1 L42.7,466.1 L43.3,466.0 L43.9,466.0 L44.5,465.9 L45.1,465.9 L45.7,465.8 L46.3,465.8 L46.9,465.7 L47.5,465.6 L48.1,465.6 L48.7,465.5 L49.3,465.4 L49.9,465.4 L50.5,465.3 L51.1,465.2 L51.7,465.1 L52.3,465.0 L52.9,464.9 L53.5,464.8 L54.1,464.7 L54.7,464.5 L55.3,464.4 L55.9,464.3 L56.5,464.2 L57.1,464.0 L57.7,463.9 L58.3,463.7 L58.9,463.5 L59.5,463.4 L60.1,463.2 L60.7,463.0 L61.3,462.8 L61.9,462.6 L62.5,462.4 L63.1,462.2 L63.7,461.9 L64.3,461.7 L64.9,461.4 L65.5,461.2 L66.1,460.9 L66.7,460.6 L67.3,460.3 L67.9,460.0 L68.5,459.7 L69.1,459.4 L69.7,459.0 L70.3,458.7 L70.9,458.3 L71.5,458.0 L72.1,457.6 L72.7,457.2 L73.3,456.8 L73.9,456.3 L74.5,455.9 L75.1,455.5 L75.7,455.0 L76.3,454.5 L76.9,454.1 L77.5,453.6 L78.1,453.1 L78.7,452.6 L79.3,452.1 L79.9,451.5 L80.5,451.0 L81.1,450.5 L81.7,449.9 L82.3,449.3 L82.9,448.8 L83.5,448.2 L84.1,447.6 L84.7,447.0 L85.3,446.5 L85.9,445.9 L86.5,445.3 L87.1,444.7 L87.7,444.1 L88.3,443.5 L88.9,442.9 L89.5,442.3 L90.1,441.7 L90.7,441.1 L91.3,440.5 L91.9,439.9 L92.5,439.3 L93.1,438.8 L93.7,438.2 L94.3,437.6 L94.9,437.1 L95.5,436.5 L96.1,436.0 L96.7,435.4 L97.3,434.9 L97.9,434.4 L98.5,433.9 L99.1,433.4 L99.7,432.9 L100.3,432.5 L100.9,432.0 L101.5,431.5 L102.1,431.1 L102.7,430.7 L103.3,430.3 L103.9,429.9 L104.5,429.5 L105.1,429.1 L105.7,428.7 L106.3,428.4 L106.9,428.1 L107.5,427.7 L108.1,427.4 L108.7,427.1 L109.3,426.8 L109.9,426.5 L110.5,426.2 L111.1,426.0 L111.7,425.7 L112.3,425.5 L112.9,425.2 L113.5,425.0 L114.1,424.8 L114.7,424.5 L115.3,424.3 L115.9,424.1 L116.5,423.9 L117.1,423.7 L117.7,423.5 L118.3,423.3 L118.9,423.1 L119.5,422.9 L120.1,422.7 L120.7,422.6 L121.3,422.4 L121.9,422.2 L122.5,422.0 L123.1,421.8 L123.7,421.6 L124.3,421.5 L124.9,421.3 L125.5,421.1 L126.1,420.9 L126.7,420.8 L127.3,420.6 L127.9,420.4 L128.5,420.2 L129.1,420.0 L129.7,419.8 L130.3,419.7 L130.9,419.5 L131.5,419.3 L132.1,419.1 L132.7,418.9 L133.3,418.8 L133.9,418.6 L134.5,418.4 L135.1,418.2 L135.7,418.0 L136.3,417.9 L136.9,417.7 L137.5,417.5 L138.1,417.4 L138.7,417.2 L139.3,417.0 L139.9,416.9 L140.5,416.7 L141.1,416.5 L141.7,416.4 L142.3,416.2 L142.9,416.1 L143.5,416.0 L144.1,415.8 L144.7,415.7 L145.3,415.6 L145.9,415.5 L146.5,415.3 L147.1,415.2 L147.7,415.1 L148.3,415.0 L148.9,414.9 L149.5,414.9 L150.1,414.8 L150.7,414.7 L151.3,414.6 L151.9,414.6 L152.5,414.5 L153.1,414.5 L153.7,414.4 L154.3,414.4 L154.9,414.3 L155.5,414.3 L156.1,414.3 L156.7,414.3 L157.3,414.2 L157.9,414.2 L158.5,414.2 L159.1,414.2 L159.7,414.2 L160.3,414.2 L160.9,414.2 L161.5,414.2 L162.1,414.2 L162.7,414.3 L163.3,414.3 L163.9,414.3 L164.5,414.3 L165.1,414.3 L165.7,414.3 L166.3,414.3 L166.9,414.4 L167.5,414.4 L168.1,414.4 L168.7,414.4 L169.3,414.4 L169.9,414.4 L170.5,414.4 L171.1,414.4 L171.7,414.3 L172.3,414.3 L172.9,414.3 L173.5,414.3 L174.1,414.2 L174.7,414.2 L175.3,414.1 L175.9,414.0 L176.5,413.9 L177.1,413.9 L177.7,413.8 L178.3,413.7 L178.9,413.5 L179.5,413.4 L180.1,413.2 L180.7,413.1 L181.3,412.9 L181.9,412.7 L182.5,412.5 L183.1,412.3 L183.7,412.1 L184.3,411.8 L184.9,411.6 L185.5,411.3 L186.1,411.0 L186.7,410.7 L187.3,410.4 L187.9,410.0 L188.5,409.7 L189.1,409.3 L189.7,408.9 L190.3,408.5 L190.9,408.0 L191.5,407.6 L192.1,407.1 L192.7,406.6 L193.3,406.1 L193.9,405.6 L194.5,405.1 L195.1,404.5 L195.7,404.0 L196.3,403.4 L196.9,402.8 L197.5,402.1 L198.1,401.5 L198.7,400.9 L199.3,400.2 L199.9,399.5 L200.5,398.8 L201.1,398.1 L201.7,397.4 L202.3,396.6 L202.9,395.9 L203.5,395.1 L204.1,394.4 L204.7,393.6 L205.3,392.8 L205.9,392.0 L206.5,391.2 L207.1,390.4 L207.7,389.5 L208.3,388.7 L208.9,387.9 L209.5,387.0 L210.1,386.2 L210.7,385.4 L211.3,384.5 L211.9,383.7 L212.5,382.8 L213.1,382.0 L213.7,381.2 L214.3,380.4 L214.9,379.5 L215.5,378.7 L216.1,377.9 L216.7,377.1 L217.3,376.3 L217.9,375.6 L218.5,374.8 L219.1,374.0 L219.7,373.3 L220.3,372.6 L220.9,371.9 L221.5,371.2 L222.1,370.5 L222.7,369.9 L223.3,369.2 L223.9,368.6 L224.5,368.1 L225.1,367.5 L225.7,367.0 L226.3,366.5 L226.9,366.0 L227.5,365.5 L228.1,365.1 L228.7,364.7 L229.3,364.3 L229.9,364.0 L230.5,363.7 L231.1,363.4 L231.7,363.2 L232.3,363.0 L232.9,362.8 L233.5,362.6 L234.1,362.5 L234.7,362.5 L235.3,362.4 L235.9,362.4 L236.5,362.5 L237.1,362.5 L237.7,362.6 L238.3,362.8 L238.9,363.0 L239.5,363.2 L240.1,363.4 L240.7,363.7 L241.3,364.0 L241.9,364.4 L242.5,364.8 L243.1,365.2 L243.7,365.6 L244.3,366.1 L244.9,366.6 L245.5,367.2 L246.1,367.8 L246.7,368.4 L247.3,369.0 L247.9,369.7 L248.5,370.4 L249.1,371.2 L249.7,371.9 L250.3,372.7 L250.9,373.5 L251.5,374.4 L252.1,375.3 L252.7,376.2 L253.3,377.1 L253.9,378.0 L254.5,379.0 L255.1,380.0 L255.7,381.0 L256.3,382.0 L256.9,383.1 L257.5,384.2 L258.1,385.2 L258.7,386.3 L259.3,387.4 L259.9,388.6 L260.5,389.7 L261.1,390.9 L261.7,392.0 L262.3,393.2 L262.9,394.4 L263.5,395.6 L264.1,396.8 L264.7,398.0 L265.3,399.2 L265.9,400.4 L266.5,401.6 L267.1,402.8 L267.7,404.0 L268.3,405.2 L268.9,406.4 L269.5,407.6 L270.1,408.9 L270.7,410.1 L271.3,411.3 L271.9,412.4 L272.5,413.6 L273.1,414.8 L273.7,416.0 L274.3,417.1 L274.9,418.3 L275.5,419.4 L276.1,420.6 L276.7,421.7 L277.3,422.8 L277.9,423.9 L278.5,425.0 L279.1,426.1 L279.7,427.1 L280.3,428.2 L280.9,429.2 L281.5,430.2 L282.1,431.2 L282.7,432.2 L283.3,433.1 L283.9,434.1 L284.5,435.0 L285.1,435.9 L285.7,436.8 L286.3,437.7 L286.9,438.6 L287.5,439.4 L288.1,440.2 L288.7,441.0 L289.3,441.8 L289.9,442.6 L290.5,443.4 L291.1,444.1 L291.7,444.8 L292.3,445.5 L292.9,446.2 L293.5,446.8 L294.1,447.5 L294.7,448.1 L295.3,448.7 L295.9,449.3 L296.5,449.9 L297.1,450.4 L297.7,451.0 L298.3,451.5 L298.9,452.0 L299.5,452.5 L300.1,452.9 L300.7,453.4 L301.3,453.8 L301.9,454.3 L302.5,454.7 L303.1,455.1 L303.7,455.4 L304.3,455.8 L304.9,456.1 L305.5,456.5 L306.1,456.8 L306.7,457.1 L307.3,457.4 L307.9,457.7 L308.5,457.9 L309.1,458.2 L309.7,458.4 L310.3,458.7 L310.9,458.9 L311.5,459.1 L312.1,459.3 L312.7,459.5 L313.3,459.7 L313.9,459.9 L314.5,460.0 L315.1,460.2 L315.7,460.3 L316.3,460.5 L316.9,460.6 L317.5,460.7 L318.1,460.8 L318.7,460.9 L319.3,461.0 L319.9,461.1 L320.5,461.2 L321.1,461.3 L321.7,461.4 L322.3,461.4 L322.9,461.5 L323.5,461.6 L324.1,461.6 L324.7,461.7 L325.3,461.7 L325.9,461.8 L326.5,461.8 L327.1,461.8 L327.7,461.9" stroke="#000000" stroke-width="1.70"/>
</g>
<g stroke="#000" fill="none" stroke-width="1.3">
<rect x="23.50" y="3.40" width="304.40" height="464.40"/>
<line x1="23.50" y1="119.30" x2="327.90" y2="119.30"/>
<line x1="23.50" y1="235.40" x2="327.90" y2="235.40"/>
<line x1="23.50" y1="352.10" x2="327.90" y2="352.10"/>
<line x1="23.50" y1="467.80" x2="23.50" y2="473.80"/>
<line x1="35.68" y1="467.80" x2="35.68" y2="471.30"/>
<line x1="47.85" y1="467.80" x2="47.85" y2="471.30"/>
<line x1="60.03" y1="467.80" x2="60.03" y2="471.30"/>
<line x1="72.20" y1="467.80" x2="72.20" y2="471.30"/>
<line x1="84.38" y1="467.80" x2="84.38" y2="473.80"/>
<line x1="96.56" y1="467.80" x2="96.56" y2="471.30"/>
<line x1="108.73" y1="467.80" x2="108.73" y2="471.30"/>
<line x1="120.91" y1="467.80" x2="120.91" y2="471.30"/>
<line x1="133.08" y1="467.80" x2="133.08" y2="471.30"/>
<line x1="145.26" y1="467.80" x2="145.26" y2="473.80"/>
<line x1="157.44" y1="467.80" x2="157.44" y2="471.30"/>
<line x1="169.61" y1="467.80" x2="169.61" y2="471.30"/>
<line x1="181.79" y1="467.80" x2="181.79" y2="471.30"/>
<line x1="193.96" y1="467.80" x2="193.96" y2="471.30"/>
<line x1="206.14" y1="467.80" x2="206.14" y2="473.80"/>
<line x1="218.32" y1="467.80" x2="218.32" y2="471.30"/>
<line x1="230.49" y1="467.80" x2="230.49" y2="471.30"/>
<line x1="242.67" y1="467.80" x2="242.67" y2="471.30"/>
<line x1="254.84" y1="467.80" x2="254.84" y2="471.30"/>
<line x1="267.02" y1="467.80" x2="267.02" y2="473.80"/>
<line x1="279.20" y1="467.80" x2="279.20" y2="471.30"/>
<line x1="291.37" y1="467.80" x2="291.37" y2="471.30"/>
<line x1="303.55" y1="467.80" x2="303.55" y2="471.30"/>
<line x1="315.72" y1="467.80" x2="315.72" y2="471.30"/>
<line x1="327.90" y1="467.80" x2="327.90" y2="473.80"/>
</g>
<g font-family="Liberation Serif" font-size="14.2" text-anchor="middle" fill="#000">
<text transform="translate(23.50,488.7) scale(0.960,1)">600</text>
<text transform="translate(84.38,488.7) scale(0.960,1)">700</text>
<text transform="translate(145.26,488.7) scale(0.960,1)">800</text>
<text transform="translate(206.14,488.7) scale(0.960,1)">900</text>
<text transform="translate(267.02,488.7) scale(0.960,1)">1000</text>
<text transform="translate(327.90,488.7) scale(0.960,1)">1100</text>
</g>
<text transform="translate(176.1,512.1) scale(1.025,1.05)" font-family="Liberation Serif" font-size="14" text-anchor="middle">Wavelength (nm)</text>
<text transform="translate(12.8,236.2) rotate(-90) scale(1.02,1)" font-family="Liberation Serif" font-size="14" text-anchor="middle">Intensity (a.u.)</text>
<line x1="190.1" y1="18.4" x2="219.0" y2="18.4" stroke="#9a2f9a" stroke-width="1.0"/>
<text transform="translate(222.5,23.30) scale(1,1.080)" font-family="Liberation Serif" font-size="13" fill="#000">CST(250)/CT</text>
<line x1="190.1" y1="34.2" x2="219.0" y2="34.2" stroke="#ff22ff" stroke-width="1.0"/>
<text transform="translate(222.5,39.10) scale(1,1.080)" font-family="Liberation Serif" font-size="13" fill="#000">Fit Peak</text>
<line x1="190.1" y1="50.0" x2="219.0" y2="50.0" stroke="#ff00ff" stroke-width="2.0"/>
<text transform="translate(222.5,54.90) scale(1,1.080)" font-family="Liberation Serif" font-size="13" fill="#000">Cum. Fit</text>
<line x1="214.4" y1="141.5" x2="243.7" y2="141.5" stroke="#44ffff" stroke-width="1.0"/>
<text transform="translate(246.8,146.40) scale(1,1.080)" font-family="Liberation Serif" font-size="13" fill="#000">CST(200)/CT</text>
<line x1="214.4" y1="157.2" x2="243.7" y2="157.2" stroke="#4d4dff" stroke-width="1.3"/>
<text transform="translate(246.8,162.10) scale(1,1.080)" font-family="Liberation Serif" font-size="13" fill="#000">Fit Peak</text>
<line x1="214.4" y1="172.8" x2="243.7" y2="172.8" stroke="#0000ff" stroke-width="1.8"/>
<text transform="translate(246.8,177.70) scale(1,1.080)" font-family="Liberation Serif" font-size="13" fill="#000">Cum. Fit</text>
<line x1="218.0" y1="251.4" x2="247.7" y2="251.4" stroke="#8b1a1a" stroke-width="1.3"/>
<text transform="translate(250.4,256.30) scale(1,1.080)" font-family="Liberation Serif" font-size="13" fill="#000">CST(150)/CT</text>
<line x1="218.0" y1="267.5" x2="247.7" y2="267.5" stroke="#ff5555" stroke-width="1.2"/>
<text transform="translate(250.4,272.40) scale(1,1.080)" font-family="Liberation Serif" font-size="13" fill="#000">Cum. Fit</text>
<line x1="218.0" y1="283.4" x2="247.7" y2="283.4" stroke="#00ffff" stroke-width="2.0"/>
<text transform="translate(250.4,288.30) scale(1,1.080)" font-family="Liberation Serif" font-size="13" fill="#000">Fit Peak</text>
<line x1="235.5" y1="362.5" x2="264.5" y2="362.5" stroke="#800080" stroke-width="1.0"/>
<text transform="translate(268.1,367.40) scale(1,1.080)" font-family="Liberation Serif" font-size="13" fill="#000">CST/CT</text>
<line x1="235.5" y1="378.3" x2="264.5" y2="378.3" stroke="#000000" stroke-width="1.0"/>
<text transform="translate(268.1,383.20) scale(1,1.080)" font-family="Liberation Serif" font-size="13" fill="#000">Fit Peak</text>
<line x1="235.5" y1="394.4" x2="264.5" y2="394.4" stroke="#000000" stroke-width="2.0"/>
<text transform="translate(268.1,399.30) scale(1,1.080)" font-family="Liberation Serif" font-size="13" fill="#000">Cum. Fit</text>
</svg>
</body></html>
